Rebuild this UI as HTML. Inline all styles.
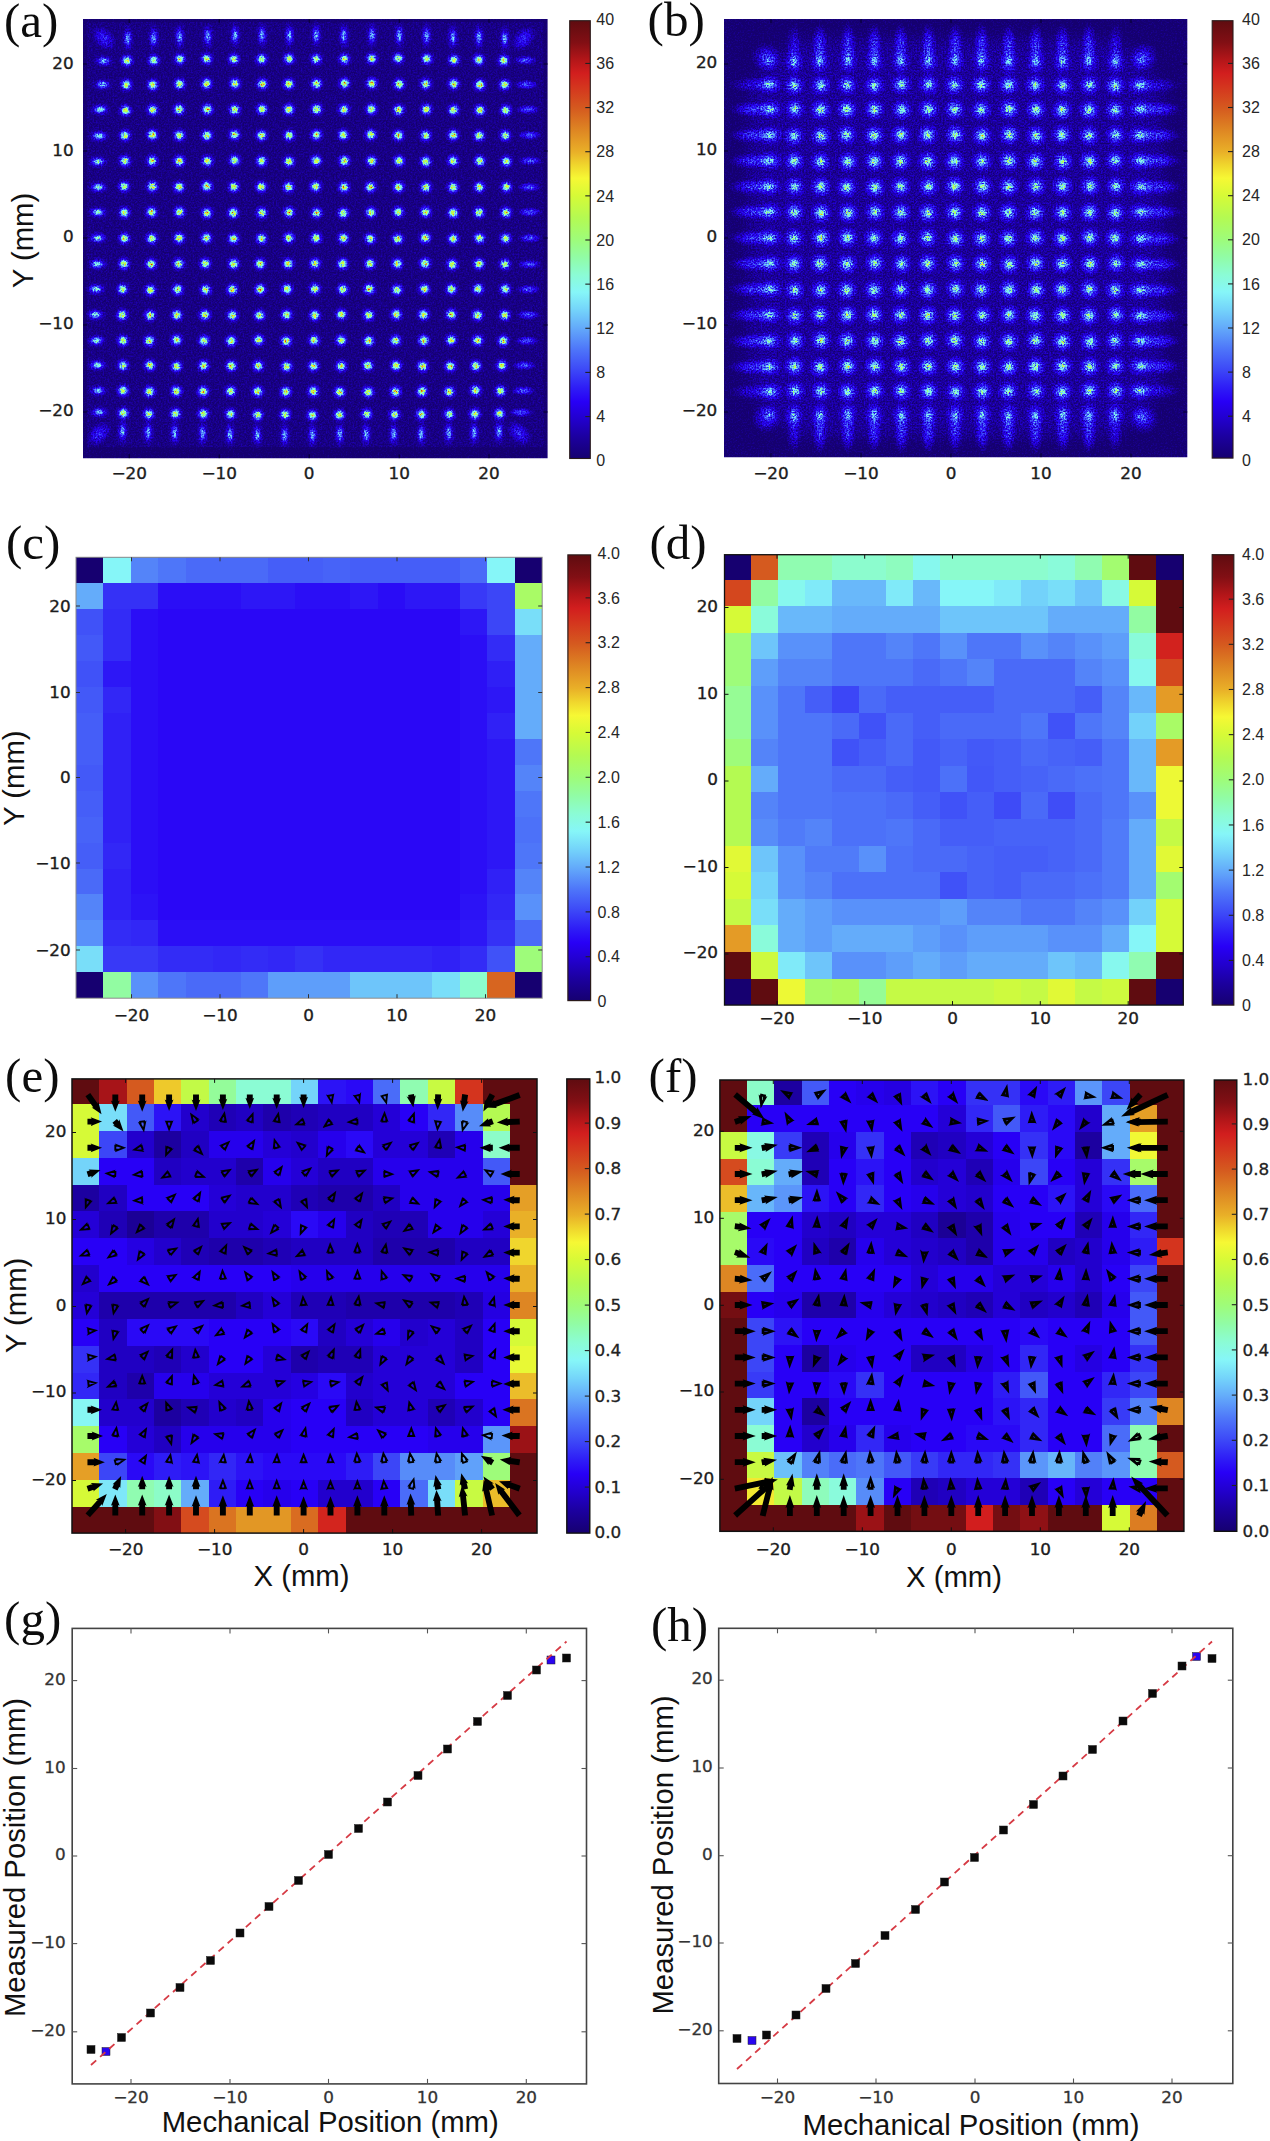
<!DOCTYPE html>
<html><head><meta charset="utf-8"><title>figure</title>
<style>html,body{margin:0;padding:0;background:#fff}svg{display:block}</style></head>
<body>
<svg width="1270" height="2141" viewBox="0 0 1270 2141">
<defs>
<linearGradient id="jet" x1="0" y1="0" x2="0" y2="1"><stop offset="0" stop-color="#5f0c10"/><stop offset="0.05" stop-color="#820f14"/><stop offset="0.09" stop-color="#b41619"/><stop offset="0.12" stop-color="#d21e1e"/><stop offset="0.15" stop-color="#d4341e"/><stop offset="0.2" stop-color="#d55a1f"/><stop offset="0.25" stop-color="#de8623"/><stop offset="0.3" stop-color="#e9b028"/><stop offset="0.33" stop-color="#f0d62d"/><stop offset="0.36" stop-color="#f6f834"/><stop offset="0.4" stop-color="#d6fa37"/><stop offset="0.45" stop-color="#b4fa52"/><stop offset="0.5" stop-color="#9efc7a"/><stop offset="0.54" stop-color="#91fca5"/><stop offset="0.58" stop-color="#8bfcd4"/><stop offset="0.62" stop-color="#86f6f8"/><stop offset="0.66" stop-color="#74d4fa"/><stop offset="0.7" stop-color="#64acfa"/><stop offset="0.75" stop-color="#4e76f9"/><stop offset="0.8" stop-color="#3c46f7"/><stop offset="0.84" stop-color="#2e1cf6"/><stop offset="0.87" stop-color="#2800f6"/><stop offset="0.91" stop-color="#2200cd"/><stop offset="0.95" stop-color="#1c00a0"/><stop offset="1" stop-color="#160070"/></linearGradient>
<filter id="fa" x="0" y="0" width="100%" height="100%" color-interpolation-filters="sRGB">
<feTurbulence type="fractalNoise" baseFrequency="0.6" numOctaves="2" seed="4" result="n"/>
<feColorMatrix in="n" type="matrix" values="1.7 0 0 0 -0.35  1.7 0 0 0 -0.35  1.7 0 0 0 -0.35  0 0 0 0 1" result="ng"/>
<feComposite in="SourceGraphic" in2="ng" operator="arithmetic" k1="0.9" k2="0.55" k3="0.065" k4="-0.034" result="m"/>
<feColorMatrix in="m" type="matrix" values="1 0 0 0 0  1 0 0 0 0  1 0 0 0 0  0 0 0 0 1" result="mg"/>
<feComponentTransfer in="mg" result="cm"><feFuncR type="table" tableValues="0.086 0.094 0.106 0.118 0.125 0.141 0.149 0.165 0.180 0.208 0.235 0.263 0.290 0.322 0.357 0.392 0.424 0.455 0.494 0.529 0.537 0.545 0.557 0.569 0.596 0.620 0.655 0.690 0.733 0.784 0.839 0.910 0.961 0.949 0.933 0.914 0.898 0.878 0.863 0.851 0.835 0.835 0.831 0.827 0.824 0.745 0.655 0.561 0.482 0.427 0.373"/><feFuncG type="table" tableValues="0.000 0.000 0.000 0.000 0.000 0.000 0.000 0.035 0.110 0.192 0.275 0.349 0.424 0.506 0.588 0.675 0.753 0.831 0.906 0.969 0.976 0.988 0.988 0.988 0.988 0.988 0.984 0.980 0.980 0.980 0.980 0.976 0.953 0.878 0.788 0.690 0.624 0.557 0.490 0.424 0.353 0.294 0.235 0.176 0.118 0.098 0.078 0.067 0.055 0.051 0.047"/><feFuncB type="table" tableValues="0.439 0.514 0.588 0.671 0.761 0.843 0.925 0.965 0.965 0.965 0.969 0.973 0.976 0.976 0.980 0.980 0.980 0.980 0.976 0.957 0.894 0.831 0.737 0.647 0.565 0.478 0.416 0.353 0.302 0.259 0.216 0.208 0.200 0.184 0.169 0.157 0.149 0.141 0.133 0.129 0.122 0.122 0.118 0.118 0.118 0.106 0.094 0.082 0.075 0.071 0.063"/></feComponentTransfer>
<feGaussianBlur in="cm" stdDeviation="0.55" result="bl"/>
<feColorMatrix in="bl" type="matrix" values="1 0 0 0 0  0 1 0 0 0  0 0 1 0 0  0 0 0 0 1"/>
</filter>
<filter id="fb" x="0" y="0" width="100%" height="100%" color-interpolation-filters="sRGB">
<feTurbulence type="fractalNoise" baseFrequency="0.62" numOctaves="2" seed="11" result="n"/>
<feColorMatrix in="n" type="matrix" values="1.7 0 0 0 -0.35  1.7 0 0 0 -0.35  1.7 0 0 0 -0.35  0 0 0 0 1" result="ng"/>
<feComposite in="SourceGraphic" in2="ng" operator="arithmetic" k1="1.1" k2="0.45" k3="0.08" k4="-0.04" result="m"/>
<feColorMatrix in="m" type="matrix" values="1 0 0 0 0  1 0 0 0 0  1 0 0 0 0  0 0 0 0 1" result="mg"/>
<feComponentTransfer in="mg" result="cm"><feFuncR type="table" tableValues="0.086 0.094 0.106 0.118 0.125 0.141 0.149 0.165 0.180 0.208 0.235 0.263 0.290 0.322 0.357 0.392 0.424 0.455 0.494 0.529 0.537 0.545 0.557 0.569 0.596 0.620 0.655 0.690 0.733 0.784 0.839 0.910 0.961 0.949 0.933 0.914 0.898 0.878 0.863 0.851 0.835 0.835 0.831 0.827 0.824 0.745 0.655 0.561 0.482 0.427 0.373"/><feFuncG type="table" tableValues="0.000 0.000 0.000 0.000 0.000 0.000 0.000 0.035 0.110 0.192 0.275 0.349 0.424 0.506 0.588 0.675 0.753 0.831 0.906 0.969 0.976 0.988 0.988 0.988 0.988 0.988 0.984 0.980 0.980 0.980 0.980 0.976 0.953 0.878 0.788 0.690 0.624 0.557 0.490 0.424 0.353 0.294 0.235 0.176 0.118 0.098 0.078 0.067 0.055 0.051 0.047"/><feFuncB type="table" tableValues="0.439 0.514 0.588 0.671 0.761 0.843 0.925 0.965 0.965 0.965 0.969 0.973 0.976 0.976 0.980 0.980 0.980 0.980 0.976 0.957 0.894 0.831 0.737 0.647 0.565 0.478 0.416 0.353 0.302 0.259 0.216 0.208 0.200 0.184 0.169 0.157 0.149 0.141 0.133 0.129 0.122 0.122 0.118 0.118 0.118 0.106 0.094 0.082 0.075 0.071 0.063"/></feComponentTransfer>
<feGaussianBlur in="cm" stdDeviation="0.55" result="bl"/>
<feColorMatrix in="bl" type="matrix" values="1 0 0 0 0  0 1 0 0 0  0 0 1 0 0  0 0 0 0 1"/>
</filter>
<radialGradient id="ga"><stop offset="0" stop-color="#fff" stop-opacity=".63"/><stop offset=".14" stop-color="#fff" stop-opacity=".58"/><stop offset=".27" stop-color="#fff" stop-opacity=".44"/><stop offset=".42" stop-color="#fff" stop-opacity=".22"/><stop offset=".60" stop-color="#fff" stop-opacity=".10"/><stop offset=".80" stop-color="#fff" stop-opacity=".035"/><stop offset="1" stop-color="#fff" stop-opacity="0"/></radialGradient>
<radialGradient id="gb"><stop offset="0" stop-color="#fff" stop-opacity=".48"/><stop offset=".13" stop-color="#fff" stop-opacity=".42"/><stop offset=".27" stop-color="#fff" stop-opacity=".29"/><stop offset=".42" stop-color="#fff" stop-opacity=".17"/><stop offset=".60" stop-color="#fff" stop-opacity=".10"/><stop offset=".80" stop-color="#fff" stop-opacity=".045"/><stop offset="1" stop-color="#fff" stop-opacity="0"/></radialGradient>
<radialGradient id="gs"><stop offset="0" stop-color="#fff" stop-opacity=".20"/><stop offset=".4" stop-color="#fff" stop-opacity=".13"/><stop offset=".75" stop-color="#fff" stop-opacity=".05"/><stop offset="1" stop-color="#fff" stop-opacity="0"/></radialGradient>
<circle id="sa" r="8.8" fill="url(#ga)"/><circle id="sb" r="11.6" fill="url(#gb)"/><circle id="ss" r="10" fill="url(#gs)"/>
<filter id="blur6" x="-10%" y="-10%" width="120%" height="120%" color-interpolation-filters="sRGB"><feGaussianBlur stdDeviation="7"/></filter>
</defs>
<rect width="1270" height="2141" fill="#fff"/>
<text x="4" y="37" font-family="Liberation Serif, Times New Roman, serif" font-size="49" text-anchor="start" fill="#0c0c0c" >(a)</text>
<text x="647.6" y="36" font-family="Liberation Serif, Times New Roman, serif" font-size="49" text-anchor="start" fill="#0c0c0c" >(b)</text>
<text x="5.9" y="559.4" font-family="Liberation Serif, Times New Roman, serif" font-size="49" text-anchor="start" fill="#0c0c0c" >(c)</text>
<text x="649.5" y="559.4" font-family="Liberation Serif, Times New Roman, serif" font-size="49" text-anchor="start" fill="#0c0c0c" >(d)</text>
<text x="5.1" y="1091.7" font-family="Liberation Serif, Times New Roman, serif" font-size="49" text-anchor="start" fill="#0c0c0c" >(e)</text>
<text x="648.6" y="1091.9" font-family="Liberation Serif, Times New Roman, serif" font-size="49" text-anchor="start" fill="#0c0c0c" >(f)</text>
<text x="4.1" y="1635" font-family="Liberation Serif, Times New Roman, serif" font-size="49" text-anchor="start" fill="#0c0c0c" >(g)</text>
<text x="651" y="1641.2" font-family="Liberation Serif, Times New Roman, serif" font-size="49" text-anchor="start" fill="#0c0c0c" >(h)</text>
<svg x="83" y="19" width="464.6" height="439.2" viewBox="0 0 464.6 439.2"><g filter="url(#fa)">
<rect width="464.6" height="439.2" fill="#000"/>
<rect x="4" y="3" width="456.6" height="425.2" fill="#060606"/>
<use href="#ss" transform="translate(20.9,19.3) rotate(45) scale(1.5,1.0)" opacity=".75"/>
<use href="#sa" transform="translate(44.8,19.7) scale(.82,1.85)" opacity=".44"/>
<use href="#sa" transform="translate(70.7,19) scale(.82,1.85)" opacity=".44"/>
<use href="#sa" transform="translate(96.6,17.8) scale(.82,1.85)" opacity=".44"/>
<use href="#sa" transform="translate(124.8,17.6) scale(.82,1.85)" opacity=".44"/>
<use href="#sa" transform="translate(152.1,16.5) scale(.82,1.85)" opacity=".44"/>
<use href="#sa" transform="translate(179,16.4) scale(.82,1.85)" opacity=".44"/>
<use href="#sa" transform="translate(206.5,16.6) scale(.82,1.85)" opacity=".44"/>
<use href="#sa" transform="translate(233.2,16.2) scale(.82,1.85)" opacity=".44"/>
<use href="#sa" transform="translate(260.9,17.1) scale(.82,1.85)" opacity=".44"/>
<use href="#sa" transform="translate(288.9,16.3) scale(.82,1.85)" opacity=".44"/>
<use href="#sa" transform="translate(316.3,16.6) scale(.82,1.85)" opacity=".44"/>
<use href="#sa" transform="translate(343.5,16.9) scale(.82,1.85)" opacity=".44"/>
<use href="#sa" transform="translate(369.9,18.3) scale(.82,1.85)" opacity=".44"/>
<use href="#sa" transform="translate(395.9,18.1) scale(.82,1.85)" opacity=".44"/>
<use href="#sa" transform="translate(421.7,19.6) scale(.82,1.85)" opacity=".44"/>
<use href="#ss" transform="translate(440.7,19.6) rotate(-45) scale(1.5,1.0)" opacity=".75"/>
<use href="#sa" transform="translate(20.7,41.9) scale(1.35,.85)" opacity="0.5"/>
<use href="#sa" x="44" y="41.8" opacity="0.89"/>
<use href="#sa" x="70.8" y="41.3" opacity="0.86"/>
<use href="#sa" x="96.9" y="40.1" opacity="0.84"/>
<use href="#sa" x="123.7" y="39.9" opacity="0.88"/>
<use href="#sa" x="150.9" y="40.2" opacity="0.86"/>
<use href="#sa" x="178.7" y="40.2" opacity="0.87"/>
<use href="#sa" x="206.1" y="39.7" opacity="0.89"/>
<use href="#sa" x="233.2" y="40.2" opacity="0.83"/>
<use href="#sa" x="261.4" y="40.1" opacity="0.83"/>
<use href="#sa" x="288.8" y="39.6" opacity="0.88"/>
<use href="#sa" x="315.3" y="39.4" opacity="0.84"/>
<use href="#sa" x="343.8" y="39.8" opacity="0.90"/>
<use href="#sa" x="370.9" y="41" opacity="0.86"/>
<use href="#sa" x="395.9" y="40.8" opacity="0.90"/>
<use href="#sa" x="420.6" y="41.5" opacity="0.90"/>
<use href="#ss" transform="translate(442.3,41.2) scale(1.25,.5)" opacity="1"/>
<use href="#sa" transform="translate(19.6,65.5) scale(1.35,.85)" opacity="0.5"/>
<use href="#sa" x="43.4" y="65.8" opacity="0.91"/>
<use href="#sa" x="69.7" y="66" opacity="0.95"/>
<use href="#sa" x="96.6" y="65.1" opacity="0.92"/>
<use href="#sa" x="123.6" y="64.7" opacity="0.97"/>
<use href="#sa" x="152" y="64.6" opacity="0.90"/>
<use href="#sa" x="179.4" y="65" opacity="0.94"/>
<use href="#sa" x="205.9" y="65" opacity="0.98"/>
<use href="#sa" x="233.5" y="64.8" opacity="0.91"/>
<use href="#sa" x="261.5" y="64.3" opacity="0.95"/>
<use href="#sa" x="288.8" y="64.5" opacity="0.97"/>
<use href="#sa" x="316.3" y="65.2" opacity="0.98"/>
<use href="#sa" x="342.7" y="65" opacity="0.91"/>
<use href="#sa" x="370.8" y="65" opacity="0.95"/>
<use href="#sa" x="396.9" y="65.9" opacity="1.00"/>
<use href="#sa" x="421.6" y="65.7" opacity="0.90"/>
<use href="#ss" transform="translate(443.3,65.7) scale(1.25,.5)" opacity="1"/>
<use href="#sa" transform="translate(17.2,90.6) scale(1.35,.85)" opacity="0.62"/>
<use href="#sa" x="42.6" y="91.5" opacity="0.92"/>
<use href="#sa" x="69.7" y="90.8" opacity="0.93"/>
<use href="#sa" x="96.1" y="90.4" opacity="0.98"/>
<use href="#sa" x="124.4" y="90.4" opacity="0.98"/>
<use href="#sa" x="151.6" y="90.8" opacity="0.97"/>
<use href="#sa" x="179" y="90.3" opacity="0.97"/>
<use href="#sa" x="205.8" y="90.4" opacity="0.98"/>
<use href="#sa" x="233.7" y="90.2" opacity="0.99"/>
<use href="#sa" x="261.1" y="90.6" opacity="0.90"/>
<use href="#sa" x="288.4" y="90.2" opacity="0.97"/>
<use href="#sa" x="315.6" y="90.9" opacity="0.96"/>
<use href="#sa" x="343.4" y="90.4" opacity="0.96"/>
<use href="#sa" x="370.6" y="91.1" opacity="0.94"/>
<use href="#sa" x="396.9" y="91.2" opacity="0.97"/>
<use href="#sa" x="422.8" y="91.4" opacity="0.88"/>
<use href="#ss" transform="translate(444.9,90.6) scale(1.25,.5)" opacity="1"/>
<use href="#sa" transform="translate(16.1,117) scale(1.35,.85)" opacity="0.62"/>
<use href="#sa" x="41.9" y="116.6" opacity="0.89"/>
<use href="#sa" x="69.4" y="115.9" opacity="0.98"/>
<use href="#sa" x="96.5" y="116.5" opacity="0.94"/>
<use href="#sa" x="124" y="116.6" opacity="0.96"/>
<use href="#sa" x="151.5" y="115.7" opacity="0.92"/>
<use href="#sa" x="178.5" y="116.4" opacity="0.92"/>
<use href="#sa" x="206.2" y="116.4" opacity="0.90"/>
<use href="#sa" x="233.4" y="115.9" opacity="0.91"/>
<use href="#sa" x="260.4" y="116" opacity="0.92"/>
<use href="#sa" x="287.8" y="115.7" opacity="0.95"/>
<use href="#sa" x="315.5" y="116.4" opacity="0.96"/>
<use href="#sa" x="342.7" y="116.7" opacity="0.90"/>
<use href="#sa" x="370.2" y="116" opacity="0.94"/>
<use href="#sa" x="396.2" y="116.7" opacity="0.94"/>
<use href="#sa" x="422.3" y="116.5" opacity="0.84"/>
<use href="#ss" transform="translate(446.4,116.2) scale(1.25,.5)" opacity="1"/>
<use href="#sa" transform="translate(14.9,142.6) scale(1.35,.85)" opacity="0.62"/>
<use href="#sa" x="41.9" y="142" opacity="0.90"/>
<use href="#sa" x="69.1" y="141.9" opacity="0.91"/>
<use href="#sa" x="96.4" y="142.1" opacity="1.00"/>
<use href="#sa" x="124.3" y="142.1" opacity="0.94"/>
<use href="#sa" x="151.6" y="141.4" opacity="0.91"/>
<use href="#sa" x="178.6" y="142.1" opacity="0.91"/>
<use href="#sa" x="206.1" y="142.5" opacity="0.94"/>
<use href="#sa" x="233.2" y="141.7" opacity="0.93"/>
<use href="#sa" x="261.3" y="141.9" opacity="1.00"/>
<use href="#sa" x="288.6" y="142.1" opacity="0.93"/>
<use href="#sa" x="316.1" y="142" opacity="0.94"/>
<use href="#sa" x="342.7" y="142.6" opacity="0.95"/>
<use href="#sa" x="370" y="142" opacity="0.91"/>
<use href="#sa" x="396.8" y="142" opacity="0.93"/>
<use href="#sa" x="423.4" y="142.4" opacity="0.83"/>
<use href="#ss" transform="translate(447,141.8) scale(1.25,.5)" opacity="1"/>
<use href="#sa" transform="translate(15.2,168.2) scale(1.35,.85)" opacity="0.62"/>
<use href="#sa" x="41.1" y="167.5" opacity="0.84"/>
<use href="#sa" x="69.4" y="167.6" opacity="0.96"/>
<use href="#sa" x="96.2" y="168" opacity="0.96"/>
<use href="#sa" x="123.9" y="167.3" opacity="0.98"/>
<use href="#sa" x="150.8" y="167.8" opacity="0.93"/>
<use href="#sa" x="178.2" y="167.8" opacity="0.95"/>
<use href="#sa" x="205.6" y="168.1" opacity="0.96"/>
<use href="#sa" x="232.6" y="167.5" opacity="0.95"/>
<use href="#sa" x="261.1" y="168.3" opacity="0.95"/>
<use href="#sa" x="287.4" y="168.1" opacity="0.94"/>
<use href="#sa" x="315.5" y="168.1" opacity="0.96"/>
<use href="#sa" x="342.8" y="168.3" opacity="0.94"/>
<use href="#sa" x="370.1" y="168.2" opacity="0.92"/>
<use href="#sa" x="396.4" y="168.2" opacity="0.91"/>
<use href="#sa" x="423.4" y="168" opacity="0.87"/>
<use href="#ss" transform="translate(446.6,168.2) scale(1.25,.5)" opacity="1"/>
<use href="#sa" transform="translate(15.1,193.2) scale(1.35,.85)" opacity="0.62"/>
<use href="#sa" x="41.3" y="193.7" opacity="0.87"/>
<use href="#sa" x="68.5" y="193.2" opacity="0.96"/>
<use href="#sa" x="96.5" y="193.1" opacity="0.92"/>
<use href="#sa" x="123.9" y="194" opacity="0.97"/>
<use href="#sa" x="150.3" y="193.9" opacity="1.00"/>
<use href="#sa" x="178.9" y="193.8" opacity="0.90"/>
<use href="#sa" x="206.1" y="193.3" opacity="0.96"/>
<use href="#sa" x="233.6" y="193.9" opacity="0.91"/>
<use href="#sa" x="260.3" y="194.1" opacity="0.91"/>
<use href="#sa" x="288" y="193.5" opacity="0.92"/>
<use href="#sa" x="315.4" y="193.1" opacity="0.91"/>
<use href="#sa" x="342.6" y="193.1" opacity="0.91"/>
<use href="#sa" x="370.2" y="193.9" opacity="0.99"/>
<use href="#sa" x="396.1" y="193.5" opacity="0.93"/>
<use href="#sa" x="423" y="193.6" opacity="0.91"/>
<use href="#ss" transform="translate(446.6,193.1) scale(1.25,.5)" opacity="1"/>
<use href="#sa" transform="translate(14.7,219) scale(1.35,.85)" opacity="0.62"/>
<use href="#sa" x="41.4" y="219.4" opacity="0.91"/>
<use href="#sa" x="68.7" y="219.5" opacity="0.93"/>
<use href="#sa" x="96.1" y="219.1" opacity="0.98"/>
<use href="#sa" x="123.4" y="219" opacity="0.92"/>
<use href="#sa" x="150.6" y="219.7" opacity="0.92"/>
<use href="#sa" x="178.5" y="219.6" opacity="0.91"/>
<use href="#sa" x="205.8" y="218.9" opacity="0.91"/>
<use href="#sa" x="233.1" y="219.1" opacity="0.99"/>
<use href="#sa" x="260.4" y="219.2" opacity="0.98"/>
<use href="#sa" x="287.2" y="219.7" opacity="0.91"/>
<use href="#sa" x="314.8" y="219.9" opacity="0.97"/>
<use href="#sa" x="342.3" y="218.9" opacity="1.00"/>
<use href="#sa" x="370.2" y="219.8" opacity="0.91"/>
<use href="#sa" x="396.5" y="219.2" opacity="0.92"/>
<use href="#sa" x="422.6" y="219.5" opacity="0.86"/>
<use href="#ss" transform="translate(446.6,219) scale(1.25,.5)" opacity="1"/>
<use href="#sa" transform="translate(14.4,245.1) scale(1.35,.85)" opacity="0.62"/>
<use href="#sa" x="41" y="244.9" opacity="0.91"/>
<use href="#sa" x="68.1" y="245.1" opacity="0.96"/>
<use href="#sa" x="95.8" y="244.8" opacity="0.91"/>
<use href="#sa" x="122.3" y="244.6" opacity="0.90"/>
<use href="#sa" x="150.7" y="244.9" opacity="0.98"/>
<use href="#sa" x="177.1" y="244.9" opacity="0.99"/>
<use href="#sa" x="205.2" y="244.9" opacity="0.95"/>
<use href="#sa" x="232" y="244.5" opacity="0.92"/>
<use href="#sa" x="259.7" y="244.8" opacity="0.99"/>
<use href="#sa" x="286.9" y="244.7" opacity="0.93"/>
<use href="#sa" x="314.3" y="244.7" opacity="0.92"/>
<use href="#sa" x="342.1" y="244.4" opacity="0.99"/>
<use href="#sa" x="369.3" y="245.5" opacity="0.97"/>
<use href="#sa" x="396.1" y="244.9" opacity="0.99"/>
<use href="#sa" x="421.8" y="245.2" opacity="0.85"/>
<use href="#ss" transform="translate(446.4,245.2) scale(1.25,.5)" opacity="1"/>
<use href="#sa" transform="translate(13.1,270.1) scale(1.35,.85)" opacity="0.62"/>
<use href="#sa" x="39.6" y="270.2" opacity="0.84"/>
<use href="#sa" x="67.4" y="271.1" opacity="0.94"/>
<use href="#sa" x="94.7" y="270.5" opacity="0.93"/>
<use href="#sa" x="122.6" y="270.8" opacity="0.92"/>
<use href="#sa" x="149.4" y="270.7" opacity="0.99"/>
<use href="#sa" x="177.3" y="270.4" opacity="1.00"/>
<use href="#sa" x="204" y="270" opacity="0.98"/>
<use href="#sa" x="231.9" y="270" opacity="0.95"/>
<use href="#sa" x="259.9" y="270.5" opacity="0.94"/>
<use href="#sa" x="286.3" y="270" opacity="0.99"/>
<use href="#sa" x="314.1" y="271" opacity="0.91"/>
<use href="#sa" x="341.3" y="270" opacity="0.94"/>
<use href="#sa" x="368.4" y="270.2" opacity="0.94"/>
<use href="#sa" x="395.1" y="270" opacity="0.90"/>
<use href="#sa" x="422.3" y="270.1" opacity="0.87"/>
<use href="#ss" transform="translate(445.5,270.5) scale(1.25,.5)" opacity="1"/>
<use href="#sa" transform="translate(12.4,295.8) scale(1.35,.85)" opacity="0.62"/>
<use href="#sa" x="39.2" y="296" opacity="0.91"/>
<use href="#sa" x="67.2" y="296.4" opacity="0.92"/>
<use href="#sa" x="93.9" y="296.1" opacity="0.95"/>
<use href="#sa" x="121.9" y="295.9" opacity="0.96"/>
<use href="#sa" x="149.5" y="296.5" opacity="0.93"/>
<use href="#sa" x="176.6" y="296.4" opacity="0.92"/>
<use href="#sa" x="203.6" y="295.8" opacity="0.91"/>
<use href="#sa" x="231.8" y="296.4" opacity="0.93"/>
<use href="#sa" x="258.4" y="295.5" opacity="0.92"/>
<use href="#sa" x="285.7" y="296" opacity="0.96"/>
<use href="#sa" x="313.3" y="295.5" opacity="0.97"/>
<use href="#sa" x="340.5" y="295.7" opacity="0.93"/>
<use href="#sa" x="368.3" y="295.5" opacity="0.94"/>
<use href="#sa" x="394.6" y="296.3" opacity="0.96"/>
<use href="#sa" x="421.7" y="296.2" opacity="0.90"/>
<use href="#ss" transform="translate(445.2,295.9) scale(1.25,.5)" opacity="1"/>
<use href="#sa" transform="translate(13.6,321.6) scale(1.35,.85)" opacity="0.62"/>
<use href="#sa" x="40" y="321.7" opacity="0.89"/>
<use href="#sa" x="66.4" y="321.9" opacity="0.94"/>
<use href="#sa" x="93.5" y="321" opacity="0.92"/>
<use href="#sa" x="121" y="321.8" opacity="0.93"/>
<use href="#sa" x="148.2" y="321.9" opacity="0.96"/>
<use href="#sa" x="175.6" y="321" opacity="0.91"/>
<use href="#sa" x="203.3" y="322" opacity="0.99"/>
<use href="#sa" x="231.1" y="321.3" opacity="0.94"/>
<use href="#sa" x="258.2" y="321.4" opacity="0.90"/>
<use href="#sa" x="285.8" y="322" opacity="0.97"/>
<use href="#sa" x="312.6" y="321.6" opacity="0.92"/>
<use href="#sa" x="340.8" y="321.5" opacity="0.99"/>
<use href="#sa" x="368.2" y="321.1" opacity="0.93"/>
<use href="#sa" x="394.7" y="321.4" opacity="0.94"/>
<use href="#sa" x="420.3" y="321.8" opacity="0.91"/>
<use href="#ss" transform="translate(443.9,321.9) scale(1.25,.5)" opacity="1"/>
<use href="#sa" transform="translate(14.4,346.1) scale(1.35,.85)" opacity="0.62"/>
<use href="#sa" x="40" y="346.6" opacity="0.83"/>
<use href="#sa" x="67" y="346.3" opacity="0.96"/>
<use href="#sa" x="93.5" y="347.4" opacity="0.94"/>
<use href="#sa" x="120.5" y="346.7" opacity="0.92"/>
<use href="#sa" x="148.3" y="346.9" opacity="0.98"/>
<use href="#sa" x="175.3" y="346.9" opacity="0.92"/>
<use href="#sa" x="203.6" y="347.5" opacity="0.98"/>
<use href="#sa" x="230.5" y="347" opacity="0.91"/>
<use href="#sa" x="258.2" y="347.1" opacity="0.90"/>
<use href="#sa" x="284.8" y="346.6" opacity="0.97"/>
<use href="#sa" x="313.1" y="346.7" opacity="0.98"/>
<use href="#sa" x="339.8" y="347.2" opacity="0.99"/>
<use href="#sa" x="367.4" y="347.3" opacity="0.94"/>
<use href="#sa" x="392.8" y="346.9" opacity="0.96"/>
<use href="#sa" x="418.8" y="346.6" opacity="0.86"/>
<use href="#ss" transform="translate(441.2,346.4) scale(1.25,.5)" opacity="1"/>
<use href="#sa" transform="translate(15.2,371.6) scale(1.35,.85)" opacity="0.5"/>
<use href="#sa" x="40.1" y="371.7" opacity="0.92"/>
<use href="#sa" x="66.6" y="372.6" opacity="0.97"/>
<use href="#sa" x="93.3" y="372.3" opacity="0.98"/>
<use href="#sa" x="120.2" y="372.5" opacity="0.97"/>
<use href="#sa" x="147.7" y="372.3" opacity="0.91"/>
<use href="#sa" x="174.6" y="372.5" opacity="0.96"/>
<use href="#sa" x="202.8" y="372.9" opacity="0.93"/>
<use href="#sa" x="230.4" y="372.4" opacity="0.97"/>
<use href="#sa" x="256.8" y="373" opacity="0.97"/>
<use href="#sa" x="285.2" y="373.1" opacity="0.97"/>
<use href="#sa" x="312.5" y="372.8" opacity="0.96"/>
<use href="#sa" x="339.1" y="372.4" opacity="0.99"/>
<use href="#sa" x="366.3" y="372.8" opacity="0.95"/>
<use href="#sa" x="392.5" y="371.5" opacity="0.94"/>
<use href="#sa" x="417.5" y="372" opacity="0.91"/>
<use href="#ss" transform="translate(440.1,371.7) scale(1.25,.5)" opacity="1"/>
<use href="#sa" transform="translate(16.2,393.2) scale(1.35,.85)" opacity="0.5"/>
<use href="#sa" x="40.3" y="394.2" opacity="0.89"/>
<use href="#sa" x="65.8" y="395.1" opacity="0.85"/>
<use href="#sa" x="92.5" y="394.7" opacity="0.89"/>
<use href="#sa" x="120.3" y="394.8" opacity="0.89"/>
<use href="#sa" x="147.5" y="395.1" opacity="0.83"/>
<use href="#sa" x="174.6" y="396" opacity="0.91"/>
<use href="#sa" x="202.2" y="395.6" opacity="0.87"/>
<use href="#sa" x="229.4" y="396.2" opacity="0.86"/>
<use href="#sa" x="256.5" y="395.8" opacity="0.92"/>
<use href="#sa" x="283.8" y="395.1" opacity="0.84"/>
<use href="#sa" x="311.6" y="395.6" opacity="0.84"/>
<use href="#sa" x="338.5" y="395.4" opacity="0.89"/>
<use href="#sa" x="366.3" y="395.2" opacity="0.83"/>
<use href="#sa" x="391.8" y="395" opacity="0.92"/>
<use href="#sa" x="416.5" y="394.6" opacity="0.89"/>
<use href="#ss" transform="translate(438.1,393.4) scale(1.25,.5)" opacity="1"/>
<use href="#ss" transform="translate(16.1,414.7) rotate(-45) scale(1.5,1.0)" opacity=".75"/>
<use href="#sa" transform="translate(39.5,412.6) scale(.82,1.85)" opacity=".44"/>
<use href="#sa" transform="translate(65.1,413.4) scale(.82,1.85)" opacity=".44"/>
<use href="#sa" transform="translate(91.7,414) scale(.82,1.85)" opacity=".44"/>
<use href="#sa" transform="translate(119.5,414.5) scale(.82,1.85)" opacity=".44"/>
<use href="#sa" transform="translate(147,415.6) scale(.82,1.85)" opacity=".44"/>
<use href="#sa" transform="translate(174.4,415.9) scale(.82,1.85)" opacity=".44"/>
<use href="#sa" transform="translate(201.7,416.3) scale(.82,1.85)" opacity=".44"/>
<use href="#sa" transform="translate(229.4,416) scale(.82,1.85)" opacity=".44"/>
<use href="#sa" transform="translate(256.8,415.3) scale(.82,1.85)" opacity=".44"/>
<use href="#sa" transform="translate(283.2,415.1) scale(.82,1.85)" opacity=".44"/>
<use href="#sa" transform="translate(310.7,415.2) scale(.82,1.85)" opacity=".44"/>
<use href="#sa" transform="translate(338.3,415.1) scale(.82,1.85)" opacity=".44"/>
<use href="#sa" transform="translate(365.8,413.9) scale(.82,1.85)" opacity=".44"/>
<use href="#sa" transform="translate(391.1,413.9) scale(.82,1.85)" opacity=".44"/>
<use href="#sa" transform="translate(416,412.7) scale(.82,1.85)" opacity=".44"/>
<use href="#ss" transform="translate(436.2,414.1) rotate(45) scale(1.5,1.0)" opacity=".75"/>
</g></svg>
<line x1="129.2" x2="129.2" y1="458.2" y2="454.2" stroke="#05002a" stroke-width="1"/>
<line x1="129.2" x2="129.2" y1="19" y2="23" stroke="#05002a" stroke-width="1"/>
<line x1="219.2" x2="219.2" y1="458.2" y2="454.2" stroke="#05002a" stroke-width="1"/>
<line x1="219.2" x2="219.2" y1="19" y2="23" stroke="#05002a" stroke-width="1"/>
<line x1="309.2" x2="309.2" y1="458.2" y2="454.2" stroke="#05002a" stroke-width="1"/>
<line x1="309.2" x2="309.2" y1="19" y2="23" stroke="#05002a" stroke-width="1"/>
<line x1="399.2" x2="399.2" y1="458.2" y2="454.2" stroke="#05002a" stroke-width="1"/>
<line x1="399.2" x2="399.2" y1="19" y2="23" stroke="#05002a" stroke-width="1"/>
<line x1="489" x2="489" y1="458.2" y2="454.2" stroke="#05002a" stroke-width="1"/>
<line x1="489" x2="489" y1="19" y2="23" stroke="#05002a" stroke-width="1"/>
<line x1="83" x2="87" y1="64" y2="64" stroke="#05002a" stroke-width="1"/>
<line x1="547.6" x2="543.6" y1="64" y2="64" stroke="#05002a" stroke-width="1"/>
<line x1="83" x2="87" y1="151" y2="151" stroke="#05002a" stroke-width="1"/>
<line x1="547.6" x2="543.6" y1="151" y2="151" stroke="#05002a" stroke-width="1"/>
<line x1="83" x2="87" y1="238" y2="238" stroke="#05002a" stroke-width="1"/>
<line x1="547.6" x2="543.6" y1="238" y2="238" stroke="#05002a" stroke-width="1"/>
<line x1="83" x2="87" y1="325" y2="325" stroke="#05002a" stroke-width="1"/>
<line x1="547.6" x2="543.6" y1="325" y2="325" stroke="#05002a" stroke-width="1"/>
<line x1="83" x2="87" y1="412" y2="412" stroke="#05002a" stroke-width="1"/>
<line x1="547.6" x2="543.6" y1="412" y2="412" stroke="#05002a" stroke-width="1"/>
<text transform="translate(129.2,479.3) scale(1.05,1)" font-family="DejaVu Sans, Liberation Sans, sans-serif" font-size="16" text-anchor="middle" fill="#1c1c1c" stroke="#1c1c1c" stroke-width="0.35">−20</text>
<text transform="translate(219.2,479.3) scale(1.05,1)" font-family="DejaVu Sans, Liberation Sans, sans-serif" font-size="16" text-anchor="middle" fill="#1c1c1c" stroke="#1c1c1c" stroke-width="0.35">−10</text>
<text transform="translate(309.2,479.3) scale(1.05,1)" font-family="DejaVu Sans, Liberation Sans, sans-serif" font-size="16" text-anchor="middle" fill="#1c1c1c" stroke="#1c1c1c" stroke-width="0.35">0</text>
<text transform="translate(399.2,479.3) scale(1.05,1)" font-family="DejaVu Sans, Liberation Sans, sans-serif" font-size="16" text-anchor="middle" fill="#1c1c1c" stroke="#1c1c1c" stroke-width="0.35">10</text>
<text transform="translate(489,479.3) scale(1.05,1)" font-family="DejaVu Sans, Liberation Sans, sans-serif" font-size="16" text-anchor="middle" fill="#1c1c1c" stroke="#1c1c1c" stroke-width="0.35">20</text>
<text transform="translate(73.6,68.54) scale(1.05,1)" font-family="DejaVu Sans, Liberation Sans, sans-serif" font-size="16" text-anchor="end" fill="#1c1c1c" stroke="#1c1c1c" stroke-width="0.35">20</text>
<text transform="translate(73.6,155.54) scale(1.05,1)" font-family="DejaVu Sans, Liberation Sans, sans-serif" font-size="16" text-anchor="end" fill="#1c1c1c" stroke="#1c1c1c" stroke-width="0.35">10</text>
<text transform="translate(73.6,242.44) scale(1.05,1)" font-family="DejaVu Sans, Liberation Sans, sans-serif" font-size="16" text-anchor="end" fill="#1c1c1c" stroke="#1c1c1c" stroke-width="0.35">0</text>
<text transform="translate(73.6,329.44) scale(1.05,1)" font-family="DejaVu Sans, Liberation Sans, sans-serif" font-size="16" text-anchor="end" fill="#1c1c1c" stroke="#1c1c1c" stroke-width="0.35">−10</text>
<text transform="translate(73.6,416.44) scale(1.05,1)" font-family="DejaVu Sans, Liberation Sans, sans-serif" font-size="16" text-anchor="end" fill="#1c1c1c" stroke="#1c1c1c" stroke-width="0.35">−20</text>
<rect x="569.7" y="20.7" width="20.6" height="437.8" fill="url(#jet)" stroke="#2a1a1a" stroke-width="1.1"/>
<text x="596.3" y="466.38" font-family="Liberation Sans, Arial, sans-serif" font-size="16" text-anchor="start" fill="#262626" >0</text>
<line x1="585.3" x2="590.3" y1="416.56" y2="416.56" stroke="#222" stroke-width="1.1"/>
<text x="596.3" y="422.24" font-family="Liberation Sans, Arial, sans-serif" font-size="16" text-anchor="start" fill="#262626" >4</text>
<line x1="585.3" x2="590.3" y1="372.42" y2="372.42" stroke="#222" stroke-width="1.1"/>
<text x="596.3" y="378.1" font-family="Liberation Sans, Arial, sans-serif" font-size="16" text-anchor="start" fill="#262626" >8</text>
<line x1="585.3" x2="590.3" y1="328.28" y2="328.28" stroke="#222" stroke-width="1.1"/>
<text x="596.3" y="333.96" font-family="Liberation Sans, Arial, sans-serif" font-size="16" text-anchor="start" fill="#262626" >12</text>
<line x1="585.3" x2="590.3" y1="284.14" y2="284.14" stroke="#222" stroke-width="1.1"/>
<text x="596.3" y="289.82" font-family="Liberation Sans, Arial, sans-serif" font-size="16" text-anchor="start" fill="#262626" >16</text>
<line x1="585.3" x2="590.3" y1="240" y2="240" stroke="#222" stroke-width="1.1"/>
<text x="596.3" y="245.68" font-family="Liberation Sans, Arial, sans-serif" font-size="16" text-anchor="start" fill="#262626" >20</text>
<line x1="585.3" x2="590.3" y1="195.86" y2="195.86" stroke="#222" stroke-width="1.1"/>
<text x="596.3" y="201.54" font-family="Liberation Sans, Arial, sans-serif" font-size="16" text-anchor="start" fill="#262626" >24</text>
<line x1="585.3" x2="590.3" y1="151.72" y2="151.72" stroke="#222" stroke-width="1.1"/>
<text x="596.3" y="157.4" font-family="Liberation Sans, Arial, sans-serif" font-size="16" text-anchor="start" fill="#262626" >28</text>
<line x1="585.3" x2="590.3" y1="107.58" y2="107.58" stroke="#222" stroke-width="1.1"/>
<text x="596.3" y="113.26" font-family="Liberation Sans, Arial, sans-serif" font-size="16" text-anchor="start" fill="#262626" >32</text>
<line x1="585.3" x2="590.3" y1="63.44" y2="63.44" stroke="#222" stroke-width="1.1"/>
<text x="596.3" y="69.12" font-family="Liberation Sans, Arial, sans-serif" font-size="16" text-anchor="start" fill="#262626" >36</text>
<text x="596.3" y="24.98" font-family="Liberation Sans, Arial, sans-serif" font-size="16" text-anchor="start" fill="#262626" >40</text>
<text transform="translate(33,240.5) rotate(-90)" font-family="Liberation Sans, Arial, sans-serif" font-size="29.3" text-anchor="middle" fill="#111">Y (mm)</text>
<svg x="724" y="19" width="463.3" height="438.2" viewBox="0 0 463.3 438.2"><g filter="url(#fb)">
<rect width="463.3" height="438.2" fill="#000"/>
<rect x="24" y="20" width="415.3" height="398.2" rx="70" fill="#0b0b0b" filter="url(#blur6)"/>
<use href="#ss" transform="translate(41.6,38.1) scale(1.5,1.5)" opacity=".7"/>
<use href="#sb" x="45.6" y="42.1" opacity=".3"/>
<use href="#ss" transform="translate(70.1,24.8) scale(.8,2.1)" opacity="0.5"/>
<use href="#sb" transform="translate(70.1,42.8) scale(.9,1.25)" opacity=".62"/>
<use href="#ss" transform="translate(95.8,24.3) scale(.8,2.1)" opacity="0.75"/>
<use href="#sb" transform="translate(95.8,42.3) scale(.9,1.25)" opacity=".62"/>
<use href="#ss" transform="translate(124,23.7) scale(.8,2.1)" opacity="0.75"/>
<use href="#sb" transform="translate(124,41.7) scale(.9,1.25)" opacity=".62"/>
<use href="#ss" transform="translate(150.4,24.5) scale(.8,2.1)" opacity="0.75"/>
<use href="#sb" transform="translate(150.4,42.5) scale(.9,1.25)" opacity=".62"/>
<use href="#ss" transform="translate(176.6,24.1) scale(.8,2.1)" opacity="0.75"/>
<use href="#sb" transform="translate(176.6,42.1) scale(.9,1.25)" opacity=".62"/>
<use href="#ss" transform="translate(204.4,24.2) scale(.8,2.1)" opacity="0.75"/>
<use href="#sb" transform="translate(204.4,42.2) scale(.9,1.25)" opacity=".62"/>
<use href="#ss" transform="translate(231.3,23.8) scale(.8,2.1)" opacity="0.75"/>
<use href="#sb" transform="translate(231.3,41.8) scale(.9,1.25)" opacity=".62"/>
<use href="#ss" transform="translate(257.5,23.8) scale(.8,2.1)" opacity="0.75"/>
<use href="#sb" transform="translate(257.5,41.8) scale(.9,1.25)" opacity=".62"/>
<use href="#ss" transform="translate(284.8,24.9) scale(.8,2.1)" opacity="0.75"/>
<use href="#sb" transform="translate(284.8,42.9) scale(.9,1.25)" opacity=".62"/>
<use href="#ss" transform="translate(311.8,24.7) scale(.8,2.1)" opacity="0.75"/>
<use href="#sb" transform="translate(311.8,42.7) scale(.9,1.25)" opacity=".62"/>
<use href="#ss" transform="translate(338.4,24.6) scale(.8,2.1)" opacity="0.75"/>
<use href="#sb" transform="translate(338.4,42.6) scale(.9,1.25)" opacity=".62"/>
<use href="#ss" transform="translate(364.9,24) scale(.8,2.1)" opacity="0.75"/>
<use href="#sb" transform="translate(364.9,42) scale(.9,1.25)" opacity=".62"/>
<use href="#ss" transform="translate(391.6,24.6) scale(.8,2.1)" opacity="0.5"/>
<use href="#sb" transform="translate(391.6,42.6) scale(.9,1.25)" opacity=".62"/>
<use href="#ss" transform="translate(420.2,37.7) scale(1.5,1.5)" opacity=".7"/>
<use href="#sb" x="416.2" y="41.7" opacity=".3"/>
<use href="#ss" transform="translate(26.4,65.6) scale(2.3,.8)" opacity="0.5"/>
<use href="#sb" transform="translate(45.4,65.6) scale(1.25,.9)" opacity=".72"/>
<use href="#sb" x="70.3" y="66.4" opacity="0.83"/>
<use href="#sb" x="97" y="66.5" opacity="0.82"/>
<use href="#sb" x="123.2" y="66" opacity="0.81"/>
<use href="#sb" x="150.2" y="66.6" opacity="0.82"/>
<use href="#sb" x="177.3" y="65.5" opacity="0.87"/>
<use href="#sb" x="204.7" y="65.6" opacity="0.81"/>
<use href="#sb" x="230.4" y="66.1" opacity="0.81"/>
<use href="#sb" x="257.3" y="66" opacity="0.91"/>
<use href="#sb" x="284.7" y="65.9" opacity="0.88"/>
<use href="#sb" x="311.1" y="66.1" opacity="0.83"/>
<use href="#sb" x="338.8" y="66.6" opacity="0.82"/>
<use href="#sb" x="365.6" y="66.1" opacity="0.83"/>
<use href="#sb" x="391.1" y="66.7" opacity="0.92"/>
<use href="#ss" transform="translate(434.8,66.3) scale(2.3,.8)" opacity="0.5"/>
<use href="#sb" transform="translate(415.8,66.3) scale(1.25,.9)" opacity=".72"/>
<use href="#ss" transform="translate(27.3,90.3) scale(2.3,.8)" opacity="0.75"/>
<use href="#sb" transform="translate(46.3,90.3) scale(1.25,.9)" opacity=".72"/>
<use href="#sb" x="70.8" y="90.1" opacity="0.85"/>
<use href="#sb" x="96.7" y="90.8" opacity="0.97"/>
<use href="#sb" x="122.8" y="90.5" opacity="0.98"/>
<use href="#sb" x="150.4" y="90.6" opacity="0.93"/>
<use href="#sb" x="177.9" y="90.8" opacity="0.88"/>
<use href="#sb" x="204.5" y="90.5" opacity="0.93"/>
<use href="#sb" x="230.6" y="90.6" opacity="0.92"/>
<use href="#sb" x="257.3" y="90.9" opacity="0.89"/>
<use href="#sb" x="285.2" y="90" opacity="0.97"/>
<use href="#sb" x="312.1" y="90.7" opacity="0.97"/>
<use href="#sb" x="338.2" y="91" opacity="0.93"/>
<use href="#sb" x="365.1" y="91.3" opacity="0.93"/>
<use href="#sb" x="391.2" y="91.2" opacity="0.85"/>
<use href="#ss" transform="translate(435.5,90.2) scale(2.3,.8)" opacity="0.75"/>
<use href="#sb" transform="translate(416.5,90.2) scale(1.25,.9)" opacity=".72"/>
<use href="#ss" transform="translate(27.2,116.1) scale(2.3,.8)" opacity="0.75"/>
<use href="#sb" transform="translate(46.2,116.1) scale(1.25,.9)" opacity=".72"/>
<use href="#sb" x="70" y="117.1" opacity="0.83"/>
<use href="#sb" x="97.1" y="117.1" opacity="0.95"/>
<use href="#sb" x="122.7" y="115.8" opacity="0.91"/>
<use href="#sb" x="150.1" y="116.6" opacity="1.00"/>
<use href="#sb" x="177" y="115.9" opacity="0.95"/>
<use href="#sb" x="203.6" y="115.8" opacity="0.95"/>
<use href="#sb" x="231.3" y="115.8" opacity="0.93"/>
<use href="#sb" x="258.2" y="116.8" opacity="0.93"/>
<use href="#sb" x="285.3" y="115.9" opacity="0.97"/>
<use href="#sb" x="312.1" y="116.9" opacity="0.94"/>
<use href="#sb" x="338" y="115.8" opacity="0.94"/>
<use href="#sb" x="365" y="116.6" opacity="0.89"/>
<use href="#sb" x="391.8" y="116" opacity="0.81"/>
<use href="#ss" transform="translate(434.8,116.3) scale(2.3,.8)" opacity="0.75"/>
<use href="#sb" transform="translate(415.8,116.3) scale(1.25,.9)" opacity=".72"/>
<use href="#ss" transform="translate(26.8,141.9) scale(2.3,.8)" opacity="0.75"/>
<use href="#sb" transform="translate(45.8,141.9) scale(1.25,.9)" opacity=".72"/>
<use href="#sb" x="70.1" y="142.1" opacity="0.91"/>
<use href="#sb" x="96.5" y="142.7" opacity="0.88"/>
<use href="#sb" x="124.1" y="142.6" opacity="0.95"/>
<use href="#sb" x="150.3" y="142.2" opacity="0.99"/>
<use href="#sb" x="176.6" y="142.3" opacity="0.95"/>
<use href="#sb" x="203.8" y="142.4" opacity="0.97"/>
<use href="#sb" x="230.4" y="142.4" opacity="0.93"/>
<use href="#sb" x="257.9" y="142.3" opacity="0.89"/>
<use href="#sb" x="284.9" y="141.9" opacity="0.99"/>
<use href="#sb" x="311.3" y="142.6" opacity="0.97"/>
<use href="#sb" x="338.8" y="142.6" opacity="0.88"/>
<use href="#sb" x="365.6" y="142.3" opacity="0.96"/>
<use href="#sb" x="391.3" y="141.5" opacity="0.83"/>
<use href="#ss" transform="translate(435.5,141.7) scale(2.3,.8)" opacity="0.75"/>
<use href="#sb" transform="translate(416.5,141.7) scale(1.25,.9)" opacity=".72"/>
<use href="#ss" transform="translate(26.1,167.6) scale(2.3,.8)" opacity="0.75"/>
<use href="#sb" transform="translate(45.1,167.6) scale(1.25,.9)" opacity=".72"/>
<use href="#sb" x="70.6" y="167.8" opacity="0.81"/>
<use href="#sb" x="96.9" y="167.6" opacity="0.97"/>
<use href="#sb" x="122.7" y="168.4" opacity="0.95"/>
<use href="#sb" x="151" y="168.5" opacity="0.98"/>
<use href="#sb" x="176.6" y="167.6" opacity="0.91"/>
<use href="#sb" x="204.5" y="167.4" opacity="0.91"/>
<use href="#sb" x="230.5" y="167.3" opacity="0.99"/>
<use href="#sb" x="258.6" y="167.6" opacity="0.97"/>
<use href="#sb" x="284.8" y="167.8" opacity="0.92"/>
<use href="#sb" x="311.9" y="167.4" opacity="0.91"/>
<use href="#sb" x="338.6" y="167.4" opacity="0.93"/>
<use href="#sb" x="366.1" y="167.1" opacity="0.89"/>
<use href="#sb" x="391.8" y="167.2" opacity="0.84"/>
<use href="#ss" transform="translate(435.8,167.9) scale(2.3,.8)" opacity="0.75"/>
<use href="#sb" transform="translate(416.8,167.9) scale(1.25,.9)" opacity=".72"/>
<use href="#ss" transform="translate(26.3,192.9) scale(2.3,.8)" opacity="0.75"/>
<use href="#sb" transform="translate(45.3,192.9) scale(1.25,.9)" opacity=".72"/>
<use href="#sb" x="70.3" y="193.2" opacity="0.90"/>
<use href="#sb" x="97.2" y="193.9" opacity="0.99"/>
<use href="#sb" x="124" y="194" opacity="0.99"/>
<use href="#sb" x="151" y="192.9" opacity="0.92"/>
<use href="#sb" x="176.8" y="193.6" opacity="0.94"/>
<use href="#sb" x="203.9" y="194" opacity="0.93"/>
<use href="#sb" x="230.6" y="193.2" opacity="0.94"/>
<use href="#sb" x="258.1" y="193.6" opacity="0.93"/>
<use href="#sb" x="284.4" y="193.4" opacity="0.92"/>
<use href="#sb" x="311.2" y="193.6" opacity="0.90"/>
<use href="#sb" x="338.9" y="193.7" opacity="0.90"/>
<use href="#sb" x="365.7" y="193.3" opacity="0.93"/>
<use href="#sb" x="391.5" y="193.9" opacity="0.91"/>
<use href="#ss" transform="translate(435.6,193.1) scale(2.3,.8)" opacity="0.75"/>
<use href="#sb" transform="translate(416.6,193.1) scale(1.25,.9)" opacity=".72"/>
<use href="#ss" transform="translate(26.8,219) scale(2.3,.8)" opacity="0.75"/>
<use href="#sb" transform="translate(45.8,219) scale(1.25,.9)" opacity=".72"/>
<use href="#sb" x="69.9" y="219.3" opacity="0.86"/>
<use href="#sb" x="97" y="219" opacity="0.98"/>
<use href="#sb" x="123.4" y="218.6" opacity="0.97"/>
<use href="#sb" x="150" y="219.2" opacity="0.89"/>
<use href="#sb" x="176.5" y="219.8" opacity="0.89"/>
<use href="#sb" x="203.6" y="218.7" opacity="0.89"/>
<use href="#sb" x="231.5" y="219.9" opacity="0.96"/>
<use href="#sb" x="257.8" y="219.7" opacity="0.94"/>
<use href="#sb" x="284.3" y="219.5" opacity="0.92"/>
<use href="#sb" x="311.4" y="218.9" opacity="0.93"/>
<use href="#sb" x="338.2" y="219.4" opacity="0.98"/>
<use href="#sb" x="365.6" y="218.5" opacity="0.96"/>
<use href="#sb" x="390.7" y="219.2" opacity="0.91"/>
<use href="#ss" transform="translate(435.5,219.8) scale(2.3,.8)" opacity="0.75"/>
<use href="#sb" transform="translate(416.5,219.8) scale(1.25,.9)" opacity=".72"/>
<use href="#ss" transform="translate(27.1,244.6) scale(2.3,.8)" opacity="0.75"/>
<use href="#sb" transform="translate(46.1,244.6) scale(1.25,.9)" opacity=".72"/>
<use href="#sb" x="70.1" y="244.8" opacity="0.88"/>
<use href="#sb" x="96.1" y="244.7" opacity="0.97"/>
<use href="#sb" x="123.2" y="245" opacity="0.95"/>
<use href="#sb" x="150.9" y="244.2" opacity="0.90"/>
<use href="#sb" x="177.6" y="245.1" opacity="0.89"/>
<use href="#sb" x="203.6" y="244.5" opacity="0.95"/>
<use href="#sb" x="231.6" y="244.5" opacity="0.90"/>
<use href="#sb" x="258.2" y="244.8" opacity="0.98"/>
<use href="#sb" x="285.5" y="245.5" opacity="0.97"/>
<use href="#sb" x="311.7" y="244.3" opacity="0.98"/>
<use href="#sb" x="338.5" y="244.8" opacity="0.96"/>
<use href="#sb" x="366.1" y="245" opacity="0.99"/>
<use href="#sb" x="392" y="244.3" opacity="0.85"/>
<use href="#ss" transform="translate(435.8,245.3) scale(2.3,.8)" opacity="0.75"/>
<use href="#sb" transform="translate(416.8,245.3) scale(1.25,.9)" opacity=".72"/>
<use href="#ss" transform="translate(27.4,270.2) scale(2.3,.8)" opacity="0.75"/>
<use href="#sb" transform="translate(46.4,270.2) scale(1.25,.9)" opacity=".72"/>
<use href="#sb" x="70.6" y="271.2" opacity="0.87"/>
<use href="#sb" x="96.7" y="271.3" opacity="0.90"/>
<use href="#sb" x="122.8" y="271.1" opacity="0.95"/>
<use href="#sb" x="149.9" y="271.1" opacity="0.91"/>
<use href="#sb" x="176.7" y="270.3" opacity="0.88"/>
<use href="#sb" x="204" y="271" opacity="0.93"/>
<use href="#sb" x="231.7" y="270" opacity="0.90"/>
<use href="#sb" x="257.4" y="270.7" opacity="0.90"/>
<use href="#sb" x="285" y="270.6" opacity="0.95"/>
<use href="#sb" x="312.2" y="271" opacity="0.99"/>
<use href="#sb" x="338.1" y="270.4" opacity="1.00"/>
<use href="#sb" x="365.4" y="270.3" opacity="0.94"/>
<use href="#sb" x="391" y="271.1" opacity="0.88"/>
<use href="#ss" transform="translate(434.7,271.2) scale(2.3,.8)" opacity="0.75"/>
<use href="#sb" transform="translate(415.7,271.2) scale(1.25,.9)" opacity=".72"/>
<use href="#ss" transform="translate(26.7,296) scale(2.3,.8)" opacity="0.75"/>
<use href="#sb" transform="translate(45.7,296) scale(1.25,.9)" opacity=".72"/>
<use href="#sb" x="70.8" y="296.9" opacity="0.85"/>
<use href="#sb" x="95.8" y="295.9" opacity="0.89"/>
<use href="#sb" x="123.4" y="296" opacity="0.98"/>
<use href="#sb" x="149.9" y="295.6" opacity="0.94"/>
<use href="#sb" x="176.7" y="296" opacity="0.91"/>
<use href="#sb" x="203.6" y="296.5" opacity="0.99"/>
<use href="#sb" x="230.8" y="296.5" opacity="0.92"/>
<use href="#sb" x="258.5" y="296.4" opacity="0.88"/>
<use href="#sb" x="285.1" y="295.9" opacity="0.89"/>
<use href="#sb" x="311" y="296.8" opacity="0.97"/>
<use href="#sb" x="338.4" y="296.4" opacity="0.96"/>
<use href="#sb" x="364.9" y="296.6" opacity="0.97"/>
<use href="#sb" x="392" y="295.7" opacity="0.87"/>
<use href="#ss" transform="translate(435.3,296.8) scale(2.3,.8)" opacity="0.75"/>
<use href="#sb" transform="translate(416.3,296.8) scale(1.25,.9)" opacity=".72"/>
<use href="#ss" transform="translate(26.5,322.2) scale(2.3,.8)" opacity="0.75"/>
<use href="#sb" transform="translate(45.5,322.2) scale(1.25,.9)" opacity=".72"/>
<use href="#sb" x="71.2" y="321.8" opacity="0.87"/>
<use href="#sb" x="97.1" y="321.3" opacity="1.00"/>
<use href="#sb" x="123.1" y="321.9" opacity="0.91"/>
<use href="#sb" x="150.7" y="322" opacity="0.97"/>
<use href="#sb" x="176.6" y="322.5" opacity="0.98"/>
<use href="#sb" x="204.4" y="321.6" opacity="0.91"/>
<use href="#sb" x="230.9" y="321.4" opacity="0.99"/>
<use href="#sb" x="257.8" y="322.6" opacity="0.90"/>
<use href="#sb" x="285" y="322.4" opacity="0.96"/>
<use href="#sb" x="311.6" y="321.3" opacity="0.93"/>
<use href="#sb" x="338.4" y="322.6" opacity="1.00"/>
<use href="#sb" x="366.1" y="322.7" opacity="0.90"/>
<use href="#sb" x="390.7" y="321.7" opacity="0.81"/>
<use href="#ss" transform="translate(434.8,322.1) scale(2.3,.8)" opacity="0.75"/>
<use href="#sb" transform="translate(415.8,322.1) scale(1.25,.9)" opacity=".72"/>
<use href="#ss" transform="translate(26.3,347.9) scale(2.3,.8)" opacity="0.75"/>
<use href="#sb" transform="translate(45.3,347.9) scale(1.25,.9)" opacity=".72"/>
<use href="#sb" x="70.4" y="347.4" opacity="0.92"/>
<use href="#sb" x="96.1" y="348.2" opacity="0.94"/>
<use href="#sb" x="123.6" y="347.2" opacity="0.97"/>
<use href="#sb" x="150.8" y="347.3" opacity="0.94"/>
<use href="#sb" x="177.4" y="347.7" opacity="0.97"/>
<use href="#sb" x="204.3" y="347.4" opacity="0.96"/>
<use href="#sb" x="231.4" y="347.6" opacity="0.95"/>
<use href="#sb" x="258.1" y="347.7" opacity="0.89"/>
<use href="#sb" x="284.7" y="348.1" opacity="0.97"/>
<use href="#sb" x="311.1" y="347.7" opacity="0.95"/>
<use href="#sb" x="338.6" y="347.2" opacity="0.96"/>
<use href="#sb" x="365.8" y="347.7" opacity="0.99"/>
<use href="#sb" x="391.5" y="347" opacity="0.84"/>
<use href="#ss" transform="translate(435.6,347.1) scale(2.3,.8)" opacity="0.75"/>
<use href="#sb" transform="translate(416.6,347.1) scale(1.25,.9)" opacity=".72"/>
<use href="#ss" transform="translate(27.4,372.7) scale(2.3,.8)" opacity="0.5"/>
<use href="#sb" transform="translate(46.4,372.7) scale(1.25,.9)" opacity=".72"/>
<use href="#sb" x="71" y="371.9" opacity="0.81"/>
<use href="#sb" x="97" y="372.4" opacity="0.86"/>
<use href="#sb" x="123.4" y="372.8" opacity="0.85"/>
<use href="#sb" x="150.7" y="371.9" opacity="0.92"/>
<use href="#sb" x="177.5" y="372.1" opacity="0.86"/>
<use href="#sb" x="204.6" y="372.2" opacity="0.89"/>
<use href="#sb" x="231.6" y="373" opacity="0.84"/>
<use href="#sb" x="258.3" y="372.6" opacity="0.90"/>
<use href="#sb" x="284.2" y="372.3" opacity="0.86"/>
<use href="#sb" x="312.1" y="372.3" opacity="0.81"/>
<use href="#sb" x="338.2" y="372.9" opacity="0.91"/>
<use href="#sb" x="365.6" y="371.8" opacity="0.89"/>
<use href="#sb" x="391.9" y="372.1" opacity="0.86"/>
<use href="#ss" transform="translate(435,371.8) scale(2.3,.8)" opacity="0.5"/>
<use href="#sb" transform="translate(416,371.8) scale(1.25,.9)" opacity=".72"/>
<use href="#ss" transform="translate(42,399.6) scale(1.5,1.5)" opacity=".7"/>
<use href="#sb" x="46" y="395.6" opacity=".3"/>
<use href="#ss" transform="translate(70,414.7) scale(.8,2.1)" opacity="0.5"/>
<use href="#sb" transform="translate(70,396.7) scale(.9,1.25)" opacity=".62"/>
<use href="#ss" transform="translate(95.9,414.5) scale(.8,2.1)" opacity="0.75"/>
<use href="#sb" transform="translate(95.9,396.5) scale(.9,1.25)" opacity=".62"/>
<use href="#ss" transform="translate(123.8,413.8) scale(.8,2.1)" opacity="0.75"/>
<use href="#sb" transform="translate(123.8,395.8) scale(.9,1.25)" opacity=".62"/>
<use href="#ss" transform="translate(150.1,413.7) scale(.8,2.1)" opacity="0.75"/>
<use href="#sb" transform="translate(150.1,395.7) scale(.9,1.25)" opacity=".62"/>
<use href="#ss" transform="translate(177.5,414.8) scale(.8,2.1)" opacity="0.75"/>
<use href="#sb" transform="translate(177.5,396.8) scale(.9,1.25)" opacity=".62"/>
<use href="#ss" transform="translate(204.4,414.1) scale(.8,2.1)" opacity="0.75"/>
<use href="#sb" transform="translate(204.4,396.1) scale(.9,1.25)" opacity=".62"/>
<use href="#ss" transform="translate(231.1,414) scale(.8,2.1)" opacity="0.75"/>
<use href="#sb" transform="translate(231.1,396) scale(.9,1.25)" opacity=".62"/>
<use href="#ss" transform="translate(258.2,413.8) scale(.8,2.1)" opacity="0.75"/>
<use href="#sb" transform="translate(258.2,395.8) scale(.9,1.25)" opacity=".62"/>
<use href="#ss" transform="translate(284.4,414.4) scale(.8,2.1)" opacity="0.75"/>
<use href="#sb" transform="translate(284.4,396.4) scale(.9,1.25)" opacity=".62"/>
<use href="#ss" transform="translate(311.4,414.8) scale(.8,2.1)" opacity="0.75"/>
<use href="#sb" transform="translate(311.4,396.8) scale(.9,1.25)" opacity=".62"/>
<use href="#ss" transform="translate(338.9,413.7) scale(.8,2.1)" opacity="0.75"/>
<use href="#sb" transform="translate(338.9,395.7) scale(.9,1.25)" opacity=".62"/>
<use href="#ss" transform="translate(364.8,414.2) scale(.8,2.1)" opacity="0.75"/>
<use href="#sb" transform="translate(364.8,396.2) scale(.9,1.25)" opacity=".62"/>
<use href="#ss" transform="translate(390.9,414.1) scale(.8,2.1)" opacity="0.5"/>
<use href="#sb" transform="translate(390.9,396.1) scale(.9,1.25)" opacity=".62"/>
<use href="#ss" transform="translate(420.4,400.5) scale(1.5,1.5)" opacity=".7"/>
<use href="#sb" x="416.4" y="396.5" opacity=".3"/>
</g></svg>
<line x1="771" x2="771" y1="457.2" y2="453.2" stroke="#05002a" stroke-width="1"/>
<line x1="771" x2="771" y1="19" y2="23" stroke="#05002a" stroke-width="1"/>
<line x1="861" x2="861" y1="457.2" y2="453.2" stroke="#05002a" stroke-width="1"/>
<line x1="861" x2="861" y1="19" y2="23" stroke="#05002a" stroke-width="1"/>
<line x1="951" x2="951" y1="457.2" y2="453.2" stroke="#05002a" stroke-width="1"/>
<line x1="951" x2="951" y1="19" y2="23" stroke="#05002a" stroke-width="1"/>
<line x1="1041" x2="1041" y1="457.2" y2="453.2" stroke="#05002a" stroke-width="1"/>
<line x1="1041" x2="1041" y1="19" y2="23" stroke="#05002a" stroke-width="1"/>
<line x1="1131" x2="1131" y1="457.2" y2="453.2" stroke="#05002a" stroke-width="1"/>
<line x1="1131" x2="1131" y1="19" y2="23" stroke="#05002a" stroke-width="1"/>
<line x1="724" x2="728" y1="64" y2="64" stroke="#05002a" stroke-width="1"/>
<line x1="1187.3" x2="1183.3" y1="64" y2="64" stroke="#05002a" stroke-width="1"/>
<line x1="724" x2="728" y1="151" y2="151" stroke="#05002a" stroke-width="1"/>
<line x1="1187.3" x2="1183.3" y1="151" y2="151" stroke="#05002a" stroke-width="1"/>
<line x1="724" x2="728" y1="238" y2="238" stroke="#05002a" stroke-width="1"/>
<line x1="1187.3" x2="1183.3" y1="238" y2="238" stroke="#05002a" stroke-width="1"/>
<line x1="724" x2="728" y1="325" y2="325" stroke="#05002a" stroke-width="1"/>
<line x1="1187.3" x2="1183.3" y1="325" y2="325" stroke="#05002a" stroke-width="1"/>
<line x1="724" x2="728" y1="412" y2="412" stroke="#05002a" stroke-width="1"/>
<line x1="1187.3" x2="1183.3" y1="412" y2="412" stroke="#05002a" stroke-width="1"/>
<text transform="translate(771,479.3) scale(1.05,1)" font-family="DejaVu Sans, Liberation Sans, sans-serif" font-size="16" text-anchor="middle" fill="#1c1c1c" stroke="#1c1c1c" stroke-width="0.35">−20</text>
<text transform="translate(861,479.3) scale(1.05,1)" font-family="DejaVu Sans, Liberation Sans, sans-serif" font-size="16" text-anchor="middle" fill="#1c1c1c" stroke="#1c1c1c" stroke-width="0.35">−10</text>
<text transform="translate(951,479.3) scale(1.05,1)" font-family="DejaVu Sans, Liberation Sans, sans-serif" font-size="16" text-anchor="middle" fill="#1c1c1c" stroke="#1c1c1c" stroke-width="0.35">0</text>
<text transform="translate(1041,479.3) scale(1.05,1)" font-family="DejaVu Sans, Liberation Sans, sans-serif" font-size="16" text-anchor="middle" fill="#1c1c1c" stroke="#1c1c1c" stroke-width="0.35">10</text>
<text transform="translate(1131,479.3) scale(1.05,1)" font-family="DejaVu Sans, Liberation Sans, sans-serif" font-size="16" text-anchor="middle" fill="#1c1c1c" stroke="#1c1c1c" stroke-width="0.35">20</text>
<text transform="translate(717.3,68.24) scale(1.05,1)" font-family="DejaVu Sans, Liberation Sans, sans-serif" font-size="16" text-anchor="end" fill="#1c1c1c" stroke="#1c1c1c" stroke-width="0.35">20</text>
<text transform="translate(717.3,155.24) scale(1.05,1)" font-family="DejaVu Sans, Liberation Sans, sans-serif" font-size="16" text-anchor="end" fill="#1c1c1c" stroke="#1c1c1c" stroke-width="0.35">10</text>
<text transform="translate(717.3,242.24) scale(1.05,1)" font-family="DejaVu Sans, Liberation Sans, sans-serif" font-size="16" text-anchor="end" fill="#1c1c1c" stroke="#1c1c1c" stroke-width="0.35">0</text>
<text transform="translate(717.3,329.24) scale(1.05,1)" font-family="DejaVu Sans, Liberation Sans, sans-serif" font-size="16" text-anchor="end" fill="#1c1c1c" stroke="#1c1c1c" stroke-width="0.35">−10</text>
<text transform="translate(717.3,416.24) scale(1.05,1)" font-family="DejaVu Sans, Liberation Sans, sans-serif" font-size="16" text-anchor="end" fill="#1c1c1c" stroke="#1c1c1c" stroke-width="0.35">−20</text>
<rect x="1212.2" y="20.7" width="20.8" height="437.4" fill="url(#jet)" stroke="#2a1a1a" stroke-width="1.1"/>
<text x="1242" y="465.98" font-family="Liberation Sans, Arial, sans-serif" font-size="16" text-anchor="start" fill="#262626" >0</text>
<line x1="1228" x2="1233" y1="416.2" y2="416.2" stroke="#222" stroke-width="1.1"/>
<text x="1242" y="421.88" font-family="Liberation Sans, Arial, sans-serif" font-size="16" text-anchor="start" fill="#262626" >4</text>
<line x1="1228" x2="1233" y1="372.1" y2="372.1" stroke="#222" stroke-width="1.1"/>
<text x="1242" y="377.78" font-family="Liberation Sans, Arial, sans-serif" font-size="16" text-anchor="start" fill="#262626" >8</text>
<line x1="1228" x2="1233" y1="328" y2="328" stroke="#222" stroke-width="1.1"/>
<text x="1242" y="333.68" font-family="Liberation Sans, Arial, sans-serif" font-size="16" text-anchor="start" fill="#262626" >12</text>
<line x1="1228" x2="1233" y1="283.9" y2="283.9" stroke="#222" stroke-width="1.1"/>
<text x="1242" y="289.58" font-family="Liberation Sans, Arial, sans-serif" font-size="16" text-anchor="start" fill="#262626" >16</text>
<line x1="1228" x2="1233" y1="239.8" y2="239.8" stroke="#222" stroke-width="1.1"/>
<text x="1242" y="245.48" font-family="Liberation Sans, Arial, sans-serif" font-size="16" text-anchor="start" fill="#262626" >20</text>
<line x1="1228" x2="1233" y1="195.7" y2="195.7" stroke="#222" stroke-width="1.1"/>
<text x="1242" y="201.38" font-family="Liberation Sans, Arial, sans-serif" font-size="16" text-anchor="start" fill="#262626" >24</text>
<line x1="1228" x2="1233" y1="151.6" y2="151.6" stroke="#222" stroke-width="1.1"/>
<text x="1242" y="157.28" font-family="Liberation Sans, Arial, sans-serif" font-size="16" text-anchor="start" fill="#262626" >28</text>
<line x1="1228" x2="1233" y1="107.5" y2="107.5" stroke="#222" stroke-width="1.1"/>
<text x="1242" y="113.18" font-family="Liberation Sans, Arial, sans-serif" font-size="16" text-anchor="start" fill="#262626" >32</text>
<line x1="1228" x2="1233" y1="63.4" y2="63.4" stroke="#222" stroke-width="1.1"/>
<text x="1242" y="69.08" font-family="Liberation Sans, Arial, sans-serif" font-size="16" text-anchor="start" fill="#262626" >36</text>
<text x="1242" y="24.98" font-family="Liberation Sans, Arial, sans-serif" font-size="16" text-anchor="start" fill="#262626" >40</text>
<g shape-rendering="crispEdges">
<rect x="76" y="557.3" width="27.82" height="26.33" fill="#160070"/>
<rect x="103.42" y="557.3" width="27.82" height="26.33" fill="#86f6f8"/>
<rect x="130.84" y="557.3" width="27.82" height="26.33" fill="#5484f9"/>
<rect x="158.26" y="557.3" width="27.82" height="26.33" fill="#4e76f9"/>
<rect x="185.68" y="557.3" width="82.66" height="26.33" fill="#4a6af8"/>
<rect x="267.94" y="557.3" width="55.24" height="26.33" fill="#455ef8"/>
<rect x="322.78" y="557.3" width="27.82" height="26.33" fill="#4763f8"/>
<rect x="350.2" y="557.3" width="110.08" height="26.33" fill="#455ef8"/>
<rect x="459.88" y="557.3" width="27.82" height="26.33" fill="#4a6af8"/>
<rect x="487.3" y="557.3" width="27.82" height="26.33" fill="#86f6f8"/>
<rect x="514.72" y="557.3" width="27.48" height="26.33" fill="#160070"/>
<rect x="76" y="583.23" width="27.82" height="26.34" fill="#64acfa"/>
<rect x="103.42" y="583.23" width="55.24" height="26.34" fill="#3531f6"/>
<rect x="158.26" y="583.23" width="82.66" height="26.34" fill="#2b0ef6"/>
<rect x="240.52" y="583.23" width="55.24" height="26.34" fill="#2d17f6"/>
<rect x="295.36" y="583.23" width="55.24" height="26.34" fill="#2b0ef6"/>
<rect x="350.2" y="583.23" width="27.82" height="26.34" fill="#2d17f6"/>
<rect x="377.62" y="583.23" width="27.82" height="26.34" fill="#2a0cf6"/>
<rect x="405.04" y="583.23" width="55.24" height="26.34" fill="#2d17f6"/>
<rect x="459.88" y="583.23" width="27.82" height="26.34" fill="#3839f7"/>
<rect x="487.3" y="583.23" width="27.82" height="26.34" fill="#3c46f7"/>
<rect x="514.72" y="583.23" width="27.48" height="26.34" fill="#a9fb66"/>
<rect x="76" y="609.17" width="27.82" height="26.33" fill="#4052f8"/>
<rect x="103.42" y="609.17" width="27.82" height="26.33" fill="#332cf6"/>
<rect x="130.84" y="609.17" width="27.82" height="26.33" fill="#2b0ef6"/>
<rect x="158.26" y="609.17" width="302.02" height="26.33" fill="#2a07f6"/>
<rect x="459.88" y="609.17" width="27.82" height="26.33" fill="#2d17f6"/>
<rect x="487.3" y="609.17" width="27.82" height="26.33" fill="#3c46f7"/>
<rect x="514.72" y="609.17" width="27.48" height="26.33" fill="#79def9"/>
<rect x="76" y="635.1" width="27.82" height="26.34" fill="#4359f8"/>
<rect x="103.42" y="635.1" width="27.82" height="26.34" fill="#332cf6"/>
<rect x="130.84" y="635.1" width="27.82" height="26.34" fill="#2b0ef6"/>
<rect x="158.26" y="635.1" width="302.02" height="26.34" fill="#2a07f6"/>
<rect x="459.88" y="635.1" width="27.82" height="26.34" fill="#2b0ef6"/>
<rect x="487.3" y="635.1" width="27.82" height="26.34" fill="#332cf6"/>
<rect x="514.72" y="635.1" width="27.48" height="26.34" fill="#64acfa"/>
<rect x="76" y="661.04" width="27.82" height="26.33" fill="#4052f8"/>
<rect x="103.42" y="661.04" width="27.82" height="26.33" fill="#2d17f6"/>
<rect x="130.84" y="661.04" width="27.82" height="26.33" fill="#2b0ef6"/>
<rect x="158.26" y="661.04" width="302.02" height="26.33" fill="#2a07f6"/>
<rect x="459.88" y="661.04" width="27.82" height="26.33" fill="#2b0ef6"/>
<rect x="487.3" y="661.04" width="27.82" height="26.33" fill="#2f1ff6"/>
<rect x="514.72" y="661.04" width="27.48" height="26.33" fill="#64acfa"/>
<rect x="76" y="686.97" width="27.82" height="26.34" fill="#4359f8"/>
<rect x="103.42" y="686.97" width="27.82" height="26.34" fill="#3227f6"/>
<rect x="130.84" y="686.97" width="27.82" height="26.34" fill="#2b0ef6"/>
<rect x="158.26" y="686.97" width="302.02" height="26.34" fill="#2a07f6"/>
<rect x="459.88" y="686.97" width="27.82" height="26.34" fill="#2b0ef6"/>
<rect x="487.3" y="686.97" width="27.82" height="26.34" fill="#2d17f6"/>
<rect x="514.72" y="686.97" width="27.48" height="26.34" fill="#64acfa"/>
<rect x="76" y="712.91" width="27.82" height="26.33" fill="#455ef8"/>
<rect x="103.42" y="712.91" width="27.82" height="26.33" fill="#3021f6"/>
<rect x="130.84" y="712.91" width="27.82" height="26.33" fill="#2b0ef6"/>
<rect x="158.26" y="712.91" width="302.02" height="26.33" fill="#2a07f6"/>
<rect x="459.88" y="712.91" width="27.82" height="26.33" fill="#2b0ef6"/>
<rect x="487.3" y="712.91" width="27.82" height="26.33" fill="#3021f6"/>
<rect x="514.72" y="712.91" width="27.48" height="26.33" fill="#64acfa"/>
<rect x="76" y="738.84" width="27.82" height="26.34" fill="#455ef8"/>
<rect x="103.42" y="738.84" width="27.82" height="26.34" fill="#3021f6"/>
<rect x="130.84" y="738.84" width="27.82" height="26.34" fill="#2b0ef6"/>
<rect x="158.26" y="738.84" width="302.02" height="26.34" fill="#2a07f6"/>
<rect x="459.88" y="738.84" width="27.82" height="26.34" fill="#2b0ef6"/>
<rect x="487.3" y="738.84" width="27.82" height="26.34" fill="#2d17f6"/>
<rect x="514.72" y="738.84" width="27.48" height="26.34" fill="#4e76f9"/>
<rect x="76" y="764.78" width="27.82" height="26.33" fill="#4359f8"/>
<rect x="103.42" y="764.78" width="27.82" height="26.33" fill="#3021f6"/>
<rect x="130.84" y="764.78" width="27.82" height="26.33" fill="#2b0ef6"/>
<rect x="158.26" y="764.78" width="302.02" height="26.33" fill="#2a07f6"/>
<rect x="459.88" y="764.78" width="27.82" height="26.33" fill="#2b0ef6"/>
<rect x="487.3" y="764.78" width="27.82" height="26.33" fill="#2d17f6"/>
<rect x="514.72" y="764.78" width="27.48" height="26.33" fill="#5484f9"/>
<rect x="76" y="790.71" width="27.82" height="26.33" fill="#455ef8"/>
<rect x="103.42" y="790.71" width="27.82" height="26.33" fill="#3021f6"/>
<rect x="130.84" y="790.71" width="27.82" height="26.33" fill="#2b0ef6"/>
<rect x="158.26" y="790.71" width="302.02" height="26.33" fill="#2a07f6"/>
<rect x="459.88" y="790.71" width="27.82" height="26.33" fill="#2b0ef6"/>
<rect x="487.3" y="790.71" width="27.82" height="26.33" fill="#2d17f6"/>
<rect x="514.72" y="790.71" width="27.48" height="26.33" fill="#4e76f9"/>
<rect x="76" y="816.65" width="27.82" height="26.34" fill="#4763f8"/>
<rect x="103.42" y="816.65" width="27.82" height="26.34" fill="#3021f6"/>
<rect x="130.84" y="816.65" width="27.82" height="26.34" fill="#2b0ef6"/>
<rect x="158.26" y="816.65" width="302.02" height="26.34" fill="#2a07f6"/>
<rect x="459.88" y="816.65" width="27.82" height="26.34" fill="#2b0ef6"/>
<rect x="487.3" y="816.65" width="27.82" height="26.34" fill="#2d17f6"/>
<rect x="514.72" y="816.65" width="27.48" height="26.34" fill="#4c71f9"/>
<rect x="76" y="842.58" width="27.82" height="26.34" fill="#455ef8"/>
<rect x="103.42" y="842.58" width="27.82" height="26.34" fill="#3227f6"/>
<rect x="130.84" y="842.58" width="27.82" height="26.34" fill="#2b0ef6"/>
<rect x="158.26" y="842.58" width="302.02" height="26.34" fill="#2a07f6"/>
<rect x="459.88" y="842.58" width="27.82" height="26.34" fill="#2b0ef6"/>
<rect x="487.3" y="842.58" width="27.82" height="26.34" fill="#2d17f6"/>
<rect x="514.72" y="842.58" width="27.48" height="26.34" fill="#4e76f9"/>
<rect x="76" y="868.52" width="27.82" height="26.33" fill="#4a6af8"/>
<rect x="103.42" y="868.52" width="27.82" height="26.33" fill="#3021f6"/>
<rect x="130.84" y="868.52" width="27.82" height="26.33" fill="#2b0ef6"/>
<rect x="158.26" y="868.52" width="302.02" height="26.33" fill="#2a07f6"/>
<rect x="459.88" y="868.52" width="27.82" height="26.33" fill="#2b0ef6"/>
<rect x="487.3" y="868.52" width="27.82" height="26.33" fill="#3021f6"/>
<rect x="514.72" y="868.52" width="27.48" height="26.33" fill="#5484f9"/>
<rect x="76" y="894.45" width="27.82" height="26.33" fill="#5484f9"/>
<rect x="103.42" y="894.45" width="27.82" height="26.33" fill="#3021f6"/>
<rect x="130.84" y="894.45" width="27.82" height="26.33" fill="#2c13f6"/>
<rect x="158.26" y="894.45" width="302.02" height="26.33" fill="#2a07f6"/>
<rect x="459.88" y="894.45" width="27.82" height="26.33" fill="#2c13f6"/>
<rect x="487.3" y="894.45" width="27.82" height="26.33" fill="#3227f6"/>
<rect x="514.72" y="894.45" width="27.48" height="26.33" fill="#5991fa"/>
<rect x="76" y="920.39" width="27.82" height="26.34" fill="#5991fa"/>
<rect x="103.42" y="920.39" width="27.82" height="26.34" fill="#332cf6"/>
<rect x="130.84" y="920.39" width="27.82" height="26.34" fill="#3227f6"/>
<rect x="158.26" y="920.39" width="302.02" height="26.34" fill="#2b0ef6"/>
<rect x="459.88" y="920.39" width="27.82" height="26.34" fill="#2d17f6"/>
<rect x="487.3" y="920.39" width="27.82" height="26.34" fill="#3531f6"/>
<rect x="514.72" y="920.39" width="27.48" height="26.34" fill="#4a6af8"/>
<rect x="76" y="946.32" width="27.82" height="26.34" fill="#79def9"/>
<rect x="103.42" y="946.32" width="55.24" height="26.34" fill="#3839f7"/>
<rect x="158.26" y="946.32" width="55.24" height="26.34" fill="#332cf6"/>
<rect x="213.1" y="946.32" width="27.82" height="26.34" fill="#3227f6"/>
<rect x="240.52" y="946.32" width="27.82" height="26.34" fill="#332cf6"/>
<rect x="267.94" y="946.32" width="27.82" height="26.34" fill="#3227f6"/>
<rect x="295.36" y="946.32" width="27.82" height="26.34" fill="#3531f6"/>
<rect x="322.78" y="946.32" width="110.08" height="26.34" fill="#3227f6"/>
<rect x="432.46" y="946.32" width="27.82" height="26.34" fill="#3021f6"/>
<rect x="459.88" y="946.32" width="27.82" height="26.34" fill="#332cf6"/>
<rect x="487.3" y="946.32" width="27.82" height="26.34" fill="#4052f8"/>
<rect x="514.72" y="946.32" width="27.48" height="26.34" fill="#9efc7a"/>
<rect x="76" y="972.26" width="27.82" height="25.94" fill="#160070"/>
<rect x="103.42" y="972.26" width="27.82" height="25.94" fill="#92fca2"/>
<rect x="130.84" y="972.26" width="27.82" height="25.94" fill="#5991fa"/>
<rect x="158.26" y="972.26" width="27.82" height="25.94" fill="#4e76f9"/>
<rect x="185.68" y="972.26" width="55.24" height="25.94" fill="#4a6af8"/>
<rect x="240.52" y="972.26" width="27.82" height="25.94" fill="#4e76f9"/>
<rect x="267.94" y="972.26" width="82.66" height="25.94" fill="#5e9efa"/>
<rect x="350.2" y="972.26" width="82.66" height="25.94" fill="#6ec5fa"/>
<rect x="432.46" y="972.26" width="27.82" height="25.94" fill="#79def9"/>
<rect x="459.88" y="972.26" width="27.82" height="25.94" fill="#8cfcce"/>
<rect x="487.3" y="972.26" width="27.82" height="25.94" fill="#d76520"/>
<rect x="514.72" y="972.26" width="27.48" height="25.94" fill="#160070"/>
</g>
<rect x="76" y="557.3" width="466.2" height="440.9" fill="none" stroke="#8a8a8a" stroke-width="1"/>
<line x1="131.5" x2="131.5" y1="998.2" y2="994.2" stroke="#333" stroke-width="1"/>
<line x1="131.5" x2="131.5" y1="557.3" y2="561.3" stroke="#333" stroke-width="1"/>
<line x1="220" x2="220" y1="998.2" y2="994.2" stroke="#333" stroke-width="1"/>
<line x1="220" x2="220" y1="557.3" y2="561.3" stroke="#333" stroke-width="1"/>
<line x1="308.5" x2="308.5" y1="998.2" y2="994.2" stroke="#333" stroke-width="1"/>
<line x1="308.5" x2="308.5" y1="557.3" y2="561.3" stroke="#333" stroke-width="1"/>
<line x1="397" x2="397" y1="998.2" y2="994.2" stroke="#333" stroke-width="1"/>
<line x1="397" x2="397" y1="557.3" y2="561.3" stroke="#333" stroke-width="1"/>
<line x1="485.5" x2="485.5" y1="998.2" y2="994.2" stroke="#333" stroke-width="1"/>
<line x1="485.5" x2="485.5" y1="557.3" y2="561.3" stroke="#333" stroke-width="1"/>
<line x1="76" x2="80" y1="606" y2="606" stroke="#333" stroke-width="1"/>
<line x1="542.2" x2="538.2" y1="606" y2="606" stroke="#333" stroke-width="1"/>
<line x1="76" x2="80" y1="692.5" y2="692.5" stroke="#333" stroke-width="1"/>
<line x1="542.2" x2="538.2" y1="692.5" y2="692.5" stroke="#333" stroke-width="1"/>
<line x1="76" x2="80" y1="777.5" y2="777.5" stroke="#333" stroke-width="1"/>
<line x1="542.2" x2="538.2" y1="777.5" y2="777.5" stroke="#333" stroke-width="1"/>
<line x1="76" x2="80" y1="863" y2="863" stroke="#333" stroke-width="1"/>
<line x1="542.2" x2="538.2" y1="863" y2="863" stroke="#333" stroke-width="1"/>
<line x1="76" x2="80" y1="950" y2="950" stroke="#333" stroke-width="1"/>
<line x1="542.2" x2="538.2" y1="950" y2="950" stroke="#333" stroke-width="1"/>
<text transform="translate(131.5,1020.5) scale(1.05,1)" font-family="DejaVu Sans, Liberation Sans, sans-serif" font-size="16" text-anchor="middle" fill="#1c1c1c" stroke="#1c1c1c" stroke-width="0.35">−20</text>
<text transform="translate(220,1020.5) scale(1.05,1)" font-family="DejaVu Sans, Liberation Sans, sans-serif" font-size="16" text-anchor="middle" fill="#1c1c1c" stroke="#1c1c1c" stroke-width="0.35">−10</text>
<text transform="translate(308.5,1020.5) scale(1.05,1)" font-family="DejaVu Sans, Liberation Sans, sans-serif" font-size="16" text-anchor="middle" fill="#1c1c1c" stroke="#1c1c1c" stroke-width="0.35">0</text>
<text transform="translate(397,1020.5) scale(1.05,1)" font-family="DejaVu Sans, Liberation Sans, sans-serif" font-size="16" text-anchor="middle" fill="#1c1c1c" stroke="#1c1c1c" stroke-width="0.35">10</text>
<text transform="translate(485.5,1020.5) scale(1.05,1)" font-family="DejaVu Sans, Liberation Sans, sans-serif" font-size="16" text-anchor="middle" fill="#1c1c1c" stroke="#1c1c1c" stroke-width="0.35">20</text>
<text transform="translate(70.6,611.84) scale(1.05,1)" font-family="DejaVu Sans, Liberation Sans, sans-serif" font-size="16" text-anchor="end" fill="#1c1c1c" stroke="#1c1c1c" stroke-width="0.35">20</text>
<text transform="translate(70.6,698.34) scale(1.05,1)" font-family="DejaVu Sans, Liberation Sans, sans-serif" font-size="16" text-anchor="end" fill="#1c1c1c" stroke="#1c1c1c" stroke-width="0.35">10</text>
<text transform="translate(70.6,783.34) scale(1.05,1)" font-family="DejaVu Sans, Liberation Sans, sans-serif" font-size="16" text-anchor="end" fill="#1c1c1c" stroke="#1c1c1c" stroke-width="0.35">0</text>
<text transform="translate(70.6,868.84) scale(1.05,1)" font-family="DejaVu Sans, Liberation Sans, sans-serif" font-size="16" text-anchor="end" fill="#1c1c1c" stroke="#1c1c1c" stroke-width="0.35">−10</text>
<text transform="translate(70.6,955.84) scale(1.05,1)" font-family="DejaVu Sans, Liberation Sans, sans-serif" font-size="16" text-anchor="end" fill="#1c1c1c" stroke="#1c1c1c" stroke-width="0.35">−20</text>
<rect x="567.9" y="554.9" width="22.7" height="445.7" fill="url(#jet)" stroke="#2a1a1a" stroke-width="1.2"/>
<text x="597.6" y="1007.28" font-family="Liberation Sans, Arial, sans-serif" font-size="16" text-anchor="start" fill="#262626" >0</text>
<line x1="585.6" x2="590.6" y1="956.74" y2="956.74" stroke="#222" stroke-width="1.1"/>
<text x="597.6" y="962.42" font-family="Liberation Sans, Arial, sans-serif" font-size="16" text-anchor="start" fill="#262626" >0.4</text>
<line x1="585.6" x2="590.6" y1="911.88" y2="911.88" stroke="#222" stroke-width="1.1"/>
<text x="597.6" y="917.56" font-family="Liberation Sans, Arial, sans-serif" font-size="16" text-anchor="start" fill="#262626" >0.8</text>
<line x1="585.6" x2="590.6" y1="867.02" y2="867.02" stroke="#222" stroke-width="1.1"/>
<text x="597.6" y="872.7" font-family="Liberation Sans, Arial, sans-serif" font-size="16" text-anchor="start" fill="#262626" >1.2</text>
<line x1="585.6" x2="590.6" y1="822.16" y2="822.16" stroke="#222" stroke-width="1.1"/>
<text x="597.6" y="827.84" font-family="Liberation Sans, Arial, sans-serif" font-size="16" text-anchor="start" fill="#262626" >1.6</text>
<line x1="585.6" x2="590.6" y1="777.3" y2="777.3" stroke="#222" stroke-width="1.1"/>
<text x="597.6" y="782.98" font-family="Liberation Sans, Arial, sans-serif" font-size="16" text-anchor="start" fill="#262626" >2.0</text>
<line x1="585.6" x2="590.6" y1="732.44" y2="732.44" stroke="#222" stroke-width="1.1"/>
<text x="597.6" y="738.12" font-family="Liberation Sans, Arial, sans-serif" font-size="16" text-anchor="start" fill="#262626" >2.4</text>
<line x1="585.6" x2="590.6" y1="687.58" y2="687.58" stroke="#222" stroke-width="1.1"/>
<text x="597.6" y="693.26" font-family="Liberation Sans, Arial, sans-serif" font-size="16" text-anchor="start" fill="#262626" >2.8</text>
<line x1="585.6" x2="590.6" y1="642.72" y2="642.72" stroke="#222" stroke-width="1.1"/>
<text x="597.6" y="648.4" font-family="Liberation Sans, Arial, sans-serif" font-size="16" text-anchor="start" fill="#262626" >3.2</text>
<line x1="585.6" x2="590.6" y1="597.86" y2="597.86" stroke="#222" stroke-width="1.1"/>
<text x="597.6" y="603.54" font-family="Liberation Sans, Arial, sans-serif" font-size="16" text-anchor="start" fill="#262626" >3.6</text>
<text x="597.6" y="558.68" font-family="Liberation Sans, Arial, sans-serif" font-size="16" text-anchor="start" fill="#262626" >4.0</text>
<text transform="translate(24.1,778.2) rotate(-90)" font-family="Liberation Sans, Arial, sans-serif" font-size="29.3" text-anchor="middle" fill="#111">Y (mm)</text>
<g shape-rendering="crispEdges">
<rect x="724.4" y="554.6" width="27.4" height="25.4" fill="#160070"/>
<rect x="751.4" y="554.6" width="27.4" height="25.4" fill="#d55a1f"/>
<rect x="778.4" y="554.6" width="54.4" height="25.4" fill="#90fcb1"/>
<rect x="832.4" y="554.6" width="54.4" height="25.4" fill="#8cfcce"/>
<rect x="886.4" y="554.6" width="27.4" height="25.4" fill="#8efcbf"/>
<rect x="913.4" y="554.6" width="27.4" height="25.4" fill="#87f8ee"/>
<rect x="940.4" y="554.6" width="108.4" height="25.4" fill="#8cfcce"/>
<rect x="1048.4" y="554.6" width="27.4" height="25.4" fill="#8afbda"/>
<rect x="1075.4" y="554.6" width="27.4" height="25.4" fill="#90fcb1"/>
<rect x="1102.4" y="554.6" width="27.4" height="25.4" fill="#a3fc70"/>
<rect x="1129.4" y="554.6" width="27.4" height="25.4" fill="#5f0c10"/>
<rect x="1156.4" y="554.6" width="27" height="25.4" fill="#160070"/>
<rect x="724.4" y="579.6" width="27.4" height="27" fill="#d4471e"/>
<rect x="751.4" y="579.6" width="27.4" height="27" fill="#92fca2"/>
<rect x="778.4" y="579.6" width="27.4" height="27" fill="#87f8ee"/>
<rect x="805.4" y="579.6" width="27.4" height="27" fill="#80eaf9"/>
<rect x="832.4" y="579.6" width="54.4" height="27" fill="#69b8fa"/>
<rect x="886.4" y="579.6" width="27.4" height="27" fill="#80eaf9"/>
<rect x="913.4" y="579.6" width="27.4" height="27" fill="#69b8fa"/>
<rect x="940.4" y="579.6" width="54.4" height="27" fill="#86f6f8"/>
<rect x="994.4" y="579.6" width="27.4" height="27" fill="#80eaf9"/>
<rect x="1021.4" y="579.6" width="27.4" height="27" fill="#73d2fa"/>
<rect x="1048.4" y="579.6" width="27.4" height="27" fill="#79def9"/>
<rect x="1075.4" y="579.6" width="27.4" height="27" fill="#6ec5fa"/>
<rect x="1102.4" y="579.6" width="27.4" height="27" fill="#89f9e4"/>
<rect x="1129.4" y="579.6" width="27.4" height="27" fill="#d6fa37"/>
<rect x="1156.4" y="579.6" width="27" height="27" fill="#5f0c10"/>
<rect x="724.4" y="606.2" width="27.4" height="27" fill="#d6fa37"/>
<rect x="751.4" y="606.2" width="27.4" height="27" fill="#8afbda"/>
<rect x="778.4" y="606.2" width="54.4" height="27" fill="#69b8fa"/>
<rect x="832.4" y="606.2" width="108.4" height="27" fill="#64acfa"/>
<rect x="940.4" y="606.2" width="108.4" height="27" fill="#6ec5fa"/>
<rect x="1048.4" y="606.2" width="81.4" height="27" fill="#64acfa"/>
<rect x="1129.4" y="606.2" width="27.4" height="27" fill="#92fca2"/>
<rect x="1156.4" y="606.2" width="27" height="27" fill="#5f0c10"/>
<rect x="724.4" y="632.8" width="27.4" height="27" fill="#9efc7a"/>
<rect x="751.4" y="632.8" width="27.4" height="27" fill="#6ec5fa"/>
<rect x="778.4" y="632.8" width="54.4" height="27" fill="#5991fa"/>
<rect x="832.4" y="632.8" width="54.4" height="27" fill="#4e76f9"/>
<rect x="886.4" y="632.8" width="27.4" height="27" fill="#5484f9"/>
<rect x="913.4" y="632.8" width="27.4" height="27" fill="#4e76f9"/>
<rect x="940.4" y="632.8" width="27.4" height="27" fill="#5991fa"/>
<rect x="967.4" y="632.8" width="54.4" height="27" fill="#4e76f9"/>
<rect x="1021.4" y="632.8" width="27.4" height="27" fill="#5991fa"/>
<rect x="1048.4" y="632.8" width="27.4" height="27" fill="#5484f9"/>
<rect x="1075.4" y="632.8" width="27.4" height="27" fill="#5991fa"/>
<rect x="1102.4" y="632.8" width="27.4" height="27" fill="#5e9efa"/>
<rect x="1129.4" y="632.8" width="27.4" height="27" fill="#8afbda"/>
<rect x="1156.4" y="632.8" width="27" height="27" fill="#d2221e"/>
<rect x="724.4" y="659.4" width="27.4" height="27" fill="#9efc7a"/>
<rect x="751.4" y="659.4" width="27.4" height="27" fill="#5e9efa"/>
<rect x="778.4" y="659.4" width="54.4" height="27" fill="#5484f9"/>
<rect x="832.4" y="659.4" width="81.4" height="27" fill="#4e76f9"/>
<rect x="913.4" y="659.4" width="27.4" height="27" fill="#4a6af8"/>
<rect x="940.4" y="659.4" width="27.4" height="27" fill="#4e76f9"/>
<rect x="967.4" y="659.4" width="27.4" height="27" fill="#5484f9"/>
<rect x="994.4" y="659.4" width="81.4" height="27" fill="#4a6af8"/>
<rect x="1075.4" y="659.4" width="27.4" height="27" fill="#5484f9"/>
<rect x="1102.4" y="659.4" width="27.4" height="27" fill="#5991fa"/>
<rect x="1129.4" y="659.4" width="27.4" height="27" fill="#87f8ee"/>
<rect x="1156.4" y="659.4" width="27" height="27" fill="#d4471e"/>
<rect x="724.4" y="686" width="27.4" height="27" fill="#96fc95"/>
<rect x="751.4" y="686" width="27.4" height="27" fill="#5991fa"/>
<rect x="778.4" y="686" width="27.4" height="27" fill="#4e76f9"/>
<rect x="805.4" y="686" width="27.4" height="27" fill="#455ef8"/>
<rect x="832.4" y="686" width="27.4" height="27" fill="#3c46f7"/>
<rect x="859.4" y="686" width="27.4" height="27" fill="#4a6af8"/>
<rect x="886.4" y="686" width="108.4" height="27" fill="#455ef8"/>
<rect x="994.4" y="686" width="81.4" height="27" fill="#4a6af8"/>
<rect x="1075.4" y="686" width="27.4" height="27" fill="#455ef8"/>
<rect x="1102.4" y="686" width="27.4" height="27" fill="#5484f9"/>
<rect x="1129.4" y="686" width="27.4" height="27" fill="#69b8fa"/>
<rect x="1156.4" y="686" width="27" height="27" fill="#e49b26"/>
<rect x="724.4" y="712.6" width="27.4" height="27" fill="#96fc95"/>
<rect x="751.4" y="712.6" width="27.4" height="27" fill="#5991fa"/>
<rect x="778.4" y="712.6" width="54.4" height="27" fill="#4e76f9"/>
<rect x="832.4" y="712.6" width="27.4" height="27" fill="#4a6af8"/>
<rect x="859.4" y="712.6" width="27.4" height="27" fill="#4052f8"/>
<rect x="886.4" y="712.6" width="27.4" height="27" fill="#4a6af8"/>
<rect x="913.4" y="712.6" width="27.4" height="27" fill="#455ef8"/>
<rect x="940.4" y="712.6" width="81.4" height="27" fill="#4a6af8"/>
<rect x="1021.4" y="712.6" width="27.4" height="27" fill="#4e76f9"/>
<rect x="1048.4" y="712.6" width="27.4" height="27" fill="#4052f8"/>
<rect x="1075.4" y="712.6" width="27.4" height="27" fill="#4e76f9"/>
<rect x="1102.4" y="712.6" width="27.4" height="27" fill="#5484f9"/>
<rect x="1129.4" y="712.6" width="27.4" height="27" fill="#73d2fa"/>
<rect x="1156.4" y="712.6" width="27" height="27" fill="#a9fb66"/>
<rect x="724.4" y="739.2" width="27.4" height="27" fill="#9efc7a"/>
<rect x="751.4" y="739.2" width="27.4" height="27" fill="#5484f9"/>
<rect x="778.4" y="739.2" width="54.4" height="27" fill="#4e76f9"/>
<rect x="832.4" y="739.2" width="27.4" height="27" fill="#4052f8"/>
<rect x="859.4" y="739.2" width="27.4" height="27" fill="#455ef8"/>
<rect x="886.4" y="739.2" width="27.4" height="27" fill="#4a6af8"/>
<rect x="913.4" y="739.2" width="27.4" height="27" fill="#4359f8"/>
<rect x="940.4" y="739.2" width="27.4" height="27" fill="#4763f8"/>
<rect x="967.4" y="739.2" width="27.4" height="27" fill="#4359f8"/>
<rect x="994.4" y="739.2" width="27.4" height="27" fill="#455ef8"/>
<rect x="1021.4" y="739.2" width="27.4" height="27" fill="#4a6af8"/>
<rect x="1048.4" y="739.2" width="27.4" height="27" fill="#4763f8"/>
<rect x="1075.4" y="739.2" width="27.4" height="27" fill="#455ef8"/>
<rect x="1102.4" y="739.2" width="27.4" height="27" fill="#4e76f9"/>
<rect x="1129.4" y="739.2" width="27.4" height="27" fill="#69b8fa"/>
<rect x="1156.4" y="739.2" width="27" height="27" fill="#e49b26"/>
<rect x="724.4" y="765.8" width="27.4" height="27" fill="#b4fa52"/>
<rect x="751.4" y="765.8" width="27.4" height="27" fill="#64acfa"/>
<rect x="778.4" y="765.8" width="54.4" height="27" fill="#4e76f9"/>
<rect x="832.4" y="765.8" width="54.4" height="27" fill="#4a6af8"/>
<rect x="886.4" y="765.8" width="27.4" height="27" fill="#455ef8"/>
<rect x="913.4" y="765.8" width="27.4" height="27" fill="#4359f8"/>
<rect x="940.4" y="765.8" width="27.4" height="27" fill="#4c71f9"/>
<rect x="967.4" y="765.8" width="27.4" height="27" fill="#4257f8"/>
<rect x="994.4" y="765.8" width="27.4" height="27" fill="#455ef8"/>
<rect x="1021.4" y="765.8" width="27.4" height="27" fill="#4763f8"/>
<rect x="1048.4" y="765.8" width="27.4" height="27" fill="#4a6af8"/>
<rect x="1075.4" y="765.8" width="27.4" height="27" fill="#4c71f9"/>
<rect x="1102.4" y="765.8" width="27.4" height="27" fill="#4e76f9"/>
<rect x="1129.4" y="765.8" width="27.4" height="27" fill="#69b8fa"/>
<rect x="1156.4" y="765.8" width="27" height="27" fill="#edf935"/>
<rect x="724.4" y="792.4" width="27.4" height="27" fill="#b4fa52"/>
<rect x="751.4" y="792.4" width="27.4" height="27" fill="#5484f9"/>
<rect x="778.4" y="792.4" width="54.4" height="27" fill="#4e76f9"/>
<rect x="832.4" y="792.4" width="54.4" height="27" fill="#4c71f9"/>
<rect x="886.4" y="792.4" width="27.4" height="27" fill="#4a6af8"/>
<rect x="913.4" y="792.4" width="27.4" height="27" fill="#455ef8"/>
<rect x="940.4" y="792.4" width="27.4" height="27" fill="#4052f8"/>
<rect x="967.4" y="792.4" width="27.4" height="27" fill="#455ef8"/>
<rect x="994.4" y="792.4" width="27.4" height="27" fill="#3e4bf7"/>
<rect x="1021.4" y="792.4" width="27.4" height="27" fill="#4a6af8"/>
<rect x="1048.4" y="792.4" width="27.4" height="27" fill="#3f4df7"/>
<rect x="1075.4" y="792.4" width="27.4" height="27" fill="#4a6af8"/>
<rect x="1102.4" y="792.4" width="27.4" height="27" fill="#4e76f9"/>
<rect x="1129.4" y="792.4" width="27.4" height="27" fill="#5991fa"/>
<rect x="1156.4" y="792.4" width="27" height="27" fill="#edf935"/>
<rect x="724.4" y="819" width="27.4" height="27" fill="#b4fa52"/>
<rect x="751.4" y="819" width="27.4" height="27" fill="#578cf9"/>
<rect x="778.4" y="819" width="27.4" height="27" fill="#507bf9"/>
<rect x="805.4" y="819" width="27.4" height="27" fill="#5484f9"/>
<rect x="832.4" y="819" width="54.4" height="27" fill="#4c71f9"/>
<rect x="886.4" y="819" width="27.4" height="27" fill="#4e76f9"/>
<rect x="913.4" y="819" width="27.4" height="27" fill="#4a6af8"/>
<rect x="940.4" y="819" width="54.4" height="27" fill="#455ef8"/>
<rect x="994.4" y="819" width="81.4" height="27" fill="#4763f8"/>
<rect x="1075.4" y="819" width="27.4" height="27" fill="#4a6af8"/>
<rect x="1102.4" y="819" width="27.4" height="27" fill="#507bf9"/>
<rect x="1129.4" y="819" width="27.4" height="27" fill="#64acfa"/>
<rect x="1156.4" y="819" width="27" height="27" fill="#c5fa45"/>
<rect x="724.4" y="845.6" width="27.4" height="27" fill="#e1f936"/>
<rect x="751.4" y="845.6" width="27.4" height="27" fill="#6ec5fa"/>
<rect x="778.4" y="845.6" width="27.4" height="27" fill="#5991fa"/>
<rect x="805.4" y="845.6" width="54.4" height="27" fill="#507bf9"/>
<rect x="859.4" y="845.6" width="27.4" height="27" fill="#5991fa"/>
<rect x="886.4" y="845.6" width="27.4" height="27" fill="#4c71f9"/>
<rect x="913.4" y="845.6" width="54.4" height="27" fill="#4a6af8"/>
<rect x="967.4" y="845.6" width="27.4" height="27" fill="#4763f8"/>
<rect x="994.4" y="845.6" width="54.4" height="27" fill="#455ef8"/>
<rect x="1048.4" y="845.6" width="27.4" height="27" fill="#4763f8"/>
<rect x="1075.4" y="845.6" width="27.4" height="27" fill="#4a6af8"/>
<rect x="1102.4" y="845.6" width="27.4" height="27" fill="#507bf9"/>
<rect x="1129.4" y="845.6" width="27.4" height="27" fill="#64acfa"/>
<rect x="1156.4" y="845.6" width="27" height="27" fill="#e1f936"/>
<rect x="724.4" y="872.2" width="27.4" height="27" fill="#d6fa37"/>
<rect x="751.4" y="872.2" width="27.4" height="27" fill="#73d2fa"/>
<rect x="778.4" y="872.2" width="27.4" height="27" fill="#5991fa"/>
<rect x="805.4" y="872.2" width="27.4" height="27" fill="#5484f9"/>
<rect x="832.4" y="872.2" width="108.4" height="27" fill="#4c71f9"/>
<rect x="940.4" y="872.2" width="27.4" height="27" fill="#4052f8"/>
<rect x="967.4" y="872.2" width="27.4" height="27" fill="#4763f8"/>
<rect x="994.4" y="872.2" width="27.4" height="27" fill="#455ef8"/>
<rect x="1021.4" y="872.2" width="54.4" height="27" fill="#4a6af8"/>
<rect x="1075.4" y="872.2" width="27.4" height="27" fill="#4c71f9"/>
<rect x="1102.4" y="872.2" width="27.4" height="27" fill="#507bf9"/>
<rect x="1129.4" y="872.2" width="27.4" height="27" fill="#64acfa"/>
<rect x="1156.4" y="872.2" width="27" height="27" fill="#a3fc70"/>
<rect x="724.4" y="898.8" width="27.4" height="27" fill="#c5fa45"/>
<rect x="751.4" y="898.8" width="27.4" height="27" fill="#79def9"/>
<rect x="778.4" y="898.8" width="27.4" height="27" fill="#64acfa"/>
<rect x="805.4" y="898.8" width="27.4" height="27" fill="#5e9efa"/>
<rect x="832.4" y="898.8" width="108.4" height="27" fill="#5991fa"/>
<rect x="940.4" y="898.8" width="27.4" height="27" fill="#5e9efa"/>
<rect x="967.4" y="898.8" width="54.4" height="27" fill="#5484f9"/>
<rect x="1021.4" y="898.8" width="54.4" height="27" fill="#4e76f9"/>
<rect x="1075.4" y="898.8" width="27.4" height="27" fill="#5484f9"/>
<rect x="1102.4" y="898.8" width="27.4" height="27" fill="#5991fa"/>
<rect x="1129.4" y="898.8" width="27.4" height="27" fill="#73d2fa"/>
<rect x="1156.4" y="898.8" width="27" height="27" fill="#d6fa37"/>
<rect x="724.4" y="925.4" width="27.4" height="27" fill="#e49b26"/>
<rect x="751.4" y="925.4" width="27.4" height="27" fill="#8afbda"/>
<rect x="778.4" y="925.4" width="27.4" height="27" fill="#64acfa"/>
<rect x="805.4" y="925.4" width="27.4" height="27" fill="#5e9efa"/>
<rect x="832.4" y="925.4" width="81.4" height="27" fill="#64acfa"/>
<rect x="913.4" y="925.4" width="27.4" height="27" fill="#5e9efa"/>
<rect x="940.4" y="925.4" width="27.4" height="27" fill="#5991fa"/>
<rect x="967.4" y="925.4" width="81.4" height="27" fill="#5e9efa"/>
<rect x="1048.4" y="925.4" width="54.4" height="27" fill="#5991fa"/>
<rect x="1102.4" y="925.4" width="27.4" height="27" fill="#64acfa"/>
<rect x="1129.4" y="925.4" width="27.4" height="27" fill="#86f6f8"/>
<rect x="1156.4" y="925.4" width="27" height="27" fill="#d6fa37"/>
<rect x="724.4" y="952" width="27.4" height="27" fill="#5f0c10"/>
<rect x="751.4" y="952" width="27.4" height="27" fill="#cefa3e"/>
<rect x="778.4" y="952" width="27.4" height="27" fill="#80eaf9"/>
<rect x="805.4" y="952" width="27.4" height="27" fill="#6ec5fa"/>
<rect x="832.4" y="952" width="54.4" height="27" fill="#5991fa"/>
<rect x="886.4" y="952" width="27.4" height="27" fill="#5e9efa"/>
<rect x="913.4" y="952" width="27.4" height="27" fill="#64acfa"/>
<rect x="940.4" y="952" width="27.4" height="27" fill="#5e9efa"/>
<rect x="967.4" y="952" width="81.4" height="27" fill="#64acfa"/>
<rect x="1048.4" y="952" width="27.4" height="27" fill="#6ec5fa"/>
<rect x="1075.4" y="952" width="27.4" height="27" fill="#69b8fa"/>
<rect x="1102.4" y="952" width="27.4" height="27" fill="#87f8ee"/>
<rect x="1129.4" y="952" width="27.4" height="27" fill="#90fcb1"/>
<rect x="1156.4" y="952" width="27" height="27" fill="#5f0c10"/>
<rect x="724.4" y="978.6" width="27.4" height="26.6" fill="#160070"/>
<rect x="751.4" y="978.6" width="27.4" height="26.6" fill="#5f0c10"/>
<rect x="778.4" y="978.6" width="27.4" height="26.6" fill="#edf935"/>
<rect x="805.4" y="978.6" width="27.4" height="26.6" fill="#a9fb66"/>
<rect x="832.4" y="978.6" width="27.4" height="26.6" fill="#aefa5c"/>
<rect x="859.4" y="978.6" width="27.4" height="26.6" fill="#96fc95"/>
<rect x="886.4" y="978.6" width="108.4" height="26.6" fill="#c5fa45"/>
<rect x="994.4" y="978.6" width="27.4" height="26.6" fill="#cefa3e"/>
<rect x="1021.4" y="978.6" width="27.4" height="26.6" fill="#c5fa45"/>
<rect x="1048.4" y="978.6" width="27.4" height="26.6" fill="#e1f936"/>
<rect x="1075.4" y="978.6" width="27.4" height="26.6" fill="#c5fa45"/>
<rect x="1102.4" y="978.6" width="27.4" height="26.6" fill="#cefa3e"/>
<rect x="1129.4" y="978.6" width="27.4" height="26.6" fill="#5f0c10"/>
<rect x="1156.4" y="978.6" width="27" height="26.6" fill="#160070"/>
</g>
<rect x="724.5" y="554.7" width="458.8" height="450.4" fill="none" stroke="#111" stroke-width="1.3"/>
<line x1="777" x2="777" y1="1005.1" y2="1001.1" stroke="#111" stroke-width="1"/>
<line x1="777" x2="777" y1="554.7" y2="558.7" stroke="#111" stroke-width="1"/>
<line x1="864.7" x2="864.7" y1="1005.1" y2="1001.1" stroke="#111" stroke-width="1"/>
<line x1="864.7" x2="864.7" y1="554.7" y2="558.7" stroke="#111" stroke-width="1"/>
<line x1="952.5" x2="952.5" y1="1005.1" y2="1001.1" stroke="#111" stroke-width="1"/>
<line x1="952.5" x2="952.5" y1="554.7" y2="558.7" stroke="#111" stroke-width="1"/>
<line x1="1040.3" x2="1040.3" y1="1005.1" y2="1001.1" stroke="#111" stroke-width="1"/>
<line x1="1040.3" x2="1040.3" y1="554.7" y2="558.7" stroke="#111" stroke-width="1"/>
<line x1="1128.2" x2="1128.2" y1="1005.1" y2="1001.1" stroke="#111" stroke-width="1"/>
<line x1="1128.2" x2="1128.2" y1="554.7" y2="558.7" stroke="#111" stroke-width="1"/>
<line x1="724.5" x2="728.5" y1="607.5" y2="607.5" stroke="#111" stroke-width="1"/>
<line x1="1183.3" x2="1179.3" y1="607.5" y2="607.5" stroke="#111" stroke-width="1"/>
<line x1="724.5" x2="728.5" y1="694.3" y2="694.3" stroke="#111" stroke-width="1"/>
<line x1="1183.3" x2="1179.3" y1="694.3" y2="694.3" stroke="#111" stroke-width="1"/>
<line x1="724.5" x2="728.5" y1="781" y2="781" stroke="#111" stroke-width="1"/>
<line x1="1183.3" x2="1179.3" y1="781" y2="781" stroke="#111" stroke-width="1"/>
<line x1="724.5" x2="728.5" y1="867.5" y2="867.5" stroke="#111" stroke-width="1"/>
<line x1="1183.3" x2="1179.3" y1="867.5" y2="867.5" stroke="#111" stroke-width="1"/>
<line x1="724.5" x2="728.5" y1="954" y2="954" stroke="#111" stroke-width="1"/>
<line x1="1183.3" x2="1179.3" y1="954" y2="954" stroke="#111" stroke-width="1"/>
<text transform="translate(777,1023.8) scale(1.05,1)" font-family="DejaVu Sans, Liberation Sans, sans-serif" font-size="16" text-anchor="middle" fill="#1c1c1c" stroke="#1c1c1c" stroke-width="0.35">−20</text>
<text transform="translate(864.7,1023.8) scale(1.05,1)" font-family="DejaVu Sans, Liberation Sans, sans-serif" font-size="16" text-anchor="middle" fill="#1c1c1c" stroke="#1c1c1c" stroke-width="0.35">−10</text>
<text transform="translate(952.5,1023.8) scale(1.05,1)" font-family="DejaVu Sans, Liberation Sans, sans-serif" font-size="16" text-anchor="middle" fill="#1c1c1c" stroke="#1c1c1c" stroke-width="0.35">0</text>
<text transform="translate(1040.3,1023.8) scale(1.05,1)" font-family="DejaVu Sans, Liberation Sans, sans-serif" font-size="16" text-anchor="middle" fill="#1c1c1c" stroke="#1c1c1c" stroke-width="0.35">10</text>
<text transform="translate(1128.2,1023.8) scale(1.05,1)" font-family="DejaVu Sans, Liberation Sans, sans-serif" font-size="16" text-anchor="middle" fill="#1c1c1c" stroke="#1c1c1c" stroke-width="0.35">20</text>
<text transform="translate(718,611.74) scale(1.05,1)" font-family="DejaVu Sans, Liberation Sans, sans-serif" font-size="16" text-anchor="end" fill="#1c1c1c" stroke="#1c1c1c" stroke-width="0.35">20</text>
<text transform="translate(718,698.54) scale(1.05,1)" font-family="DejaVu Sans, Liberation Sans, sans-serif" font-size="16" text-anchor="end" fill="#1c1c1c" stroke="#1c1c1c" stroke-width="0.35">10</text>
<text transform="translate(718,785.24) scale(1.05,1)" font-family="DejaVu Sans, Liberation Sans, sans-serif" font-size="16" text-anchor="end" fill="#1c1c1c" stroke="#1c1c1c" stroke-width="0.35">0</text>
<text transform="translate(718,871.74) scale(1.05,1)" font-family="DejaVu Sans, Liberation Sans, sans-serif" font-size="16" text-anchor="end" fill="#1c1c1c" stroke="#1c1c1c" stroke-width="0.35">−10</text>
<text transform="translate(718,958.24) scale(1.05,1)" font-family="DejaVu Sans, Liberation Sans, sans-serif" font-size="16" text-anchor="end" fill="#1c1c1c" stroke="#1c1c1c" stroke-width="0.35">−20</text>
<rect x="1212.2" y="554.7" width="21.6" height="450.4" fill="url(#jet)" stroke="#2a1a1a" stroke-width="1.2"/>
<text x="1242" y="1011.28" font-family="Liberation Sans, Arial, sans-serif" font-size="16" text-anchor="start" fill="#262626" >0</text>
<line x1="1228.8" x2="1233.8" y1="960.44" y2="960.44" stroke="#222" stroke-width="1.1"/>
<text x="1242" y="966.12" font-family="Liberation Sans, Arial, sans-serif" font-size="16" text-anchor="start" fill="#262626" >0.4</text>
<line x1="1228.8" x2="1233.8" y1="915.28" y2="915.28" stroke="#222" stroke-width="1.1"/>
<text x="1242" y="920.96" font-family="Liberation Sans, Arial, sans-serif" font-size="16" text-anchor="start" fill="#262626" >0.8</text>
<line x1="1228.8" x2="1233.8" y1="870.12" y2="870.12" stroke="#222" stroke-width="1.1"/>
<text x="1242" y="875.8" font-family="Liberation Sans, Arial, sans-serif" font-size="16" text-anchor="start" fill="#262626" >1.2</text>
<line x1="1228.8" x2="1233.8" y1="824.96" y2="824.96" stroke="#222" stroke-width="1.1"/>
<text x="1242" y="830.64" font-family="Liberation Sans, Arial, sans-serif" font-size="16" text-anchor="start" fill="#262626" >1.6</text>
<line x1="1228.8" x2="1233.8" y1="779.8" y2="779.8" stroke="#222" stroke-width="1.1"/>
<text x="1242" y="785.48" font-family="Liberation Sans, Arial, sans-serif" font-size="16" text-anchor="start" fill="#262626" >2.0</text>
<line x1="1228.8" x2="1233.8" y1="734.64" y2="734.64" stroke="#222" stroke-width="1.1"/>
<text x="1242" y="740.32" font-family="Liberation Sans, Arial, sans-serif" font-size="16" text-anchor="start" fill="#262626" >2.4</text>
<line x1="1228.8" x2="1233.8" y1="689.48" y2="689.48" stroke="#222" stroke-width="1.1"/>
<text x="1242" y="695.16" font-family="Liberation Sans, Arial, sans-serif" font-size="16" text-anchor="start" fill="#262626" >2.8</text>
<line x1="1228.8" x2="1233.8" y1="644.32" y2="644.32" stroke="#222" stroke-width="1.1"/>
<text x="1242" y="650" font-family="Liberation Sans, Arial, sans-serif" font-size="16" text-anchor="start" fill="#262626" >3.2</text>
<line x1="1228.8" x2="1233.8" y1="599.16" y2="599.16" stroke="#222" stroke-width="1.1"/>
<text x="1242" y="604.84" font-family="Liberation Sans, Arial, sans-serif" font-size="16" text-anchor="start" fill="#262626" >3.6</text>
<text x="1242" y="559.68" font-family="Liberation Sans, Arial, sans-serif" font-size="16" text-anchor="start" fill="#262626" >4.0</text>
<g shape-rendering="crispEdges">
<rect x="71.9" y="1078.8" width="27.68" height="25.6" fill="#5f0c10"/>
<rect x="99.18" y="1078.8" width="27.78" height="25.6" fill="#a71418"/>
<rect x="126.56" y="1078.8" width="27.78" height="25.6" fill="#d55a1f"/>
<rect x="153.94" y="1078.8" width="27.78" height="25.6" fill="#eec92b"/>
<rect x="181.32" y="1078.8" width="27.78" height="25.6" fill="#c2fa47"/>
<rect x="208.7" y="1078.8" width="27.78" height="25.6" fill="#94fc9a"/>
<rect x="236.08" y="1078.8" width="55.16" height="25.6" fill="#8bfcd4"/>
<rect x="290.84" y="1078.8" width="27.78" height="25.6" fill="#74d4fa"/>
<rect x="318.22" y="1078.8" width="27.78" height="25.6" fill="#2c13f6"/>
<rect x="345.6" y="1078.8" width="27.78" height="25.6" fill="#2a09f6"/>
<rect x="372.98" y="1078.8" width="27.78" height="25.6" fill="#4a6cf9"/>
<rect x="400.36" y="1078.8" width="27.78" height="25.6" fill="#90fcb1"/>
<rect x="427.74" y="1078.8" width="27.78" height="25.6" fill="#c8fa42"/>
<rect x="455.12" y="1078.8" width="27.78" height="25.6" fill="#d4341e"/>
<rect x="482.5" y="1078.8" width="54.5" height="25.6" fill="#5f0c10"/>
<rect x="71.9" y="1104" width="27.68" height="27.25" fill="#d6fa37"/>
<rect x="99.18" y="1104" width="27.78" height="27.25" fill="#79def9"/>
<rect x="126.56" y="1104" width="27.78" height="27.25" fill="#4359f8"/>
<rect x="153.94" y="1104" width="27.78" height="27.25" fill="#2c13f6"/>
<rect x="181.32" y="1104" width="27.78" height="27.25" fill="#2200cd"/>
<rect x="208.7" y="1104" width="27.78" height="27.25" fill="#1f00b6"/>
<rect x="236.08" y="1104" width="27.78" height="27.25" fill="#2000c2"/>
<rect x="263.46" y="1104" width="27.78" height="27.25" fill="#1e00ab"/>
<rect x="290.84" y="1104" width="27.78" height="27.25" fill="#1f00b6"/>
<rect x="318.22" y="1104" width="55.16" height="27.25" fill="#2000c2"/>
<rect x="372.98" y="1104" width="27.78" height="27.25" fill="#2400d7"/>
<rect x="400.36" y="1104" width="27.78" height="27.25" fill="#2800f6"/>
<rect x="427.74" y="1104" width="27.78" height="27.25" fill="#3227f6"/>
<rect x="455.12" y="1104" width="27.78" height="27.25" fill="#578cf9"/>
<rect x="482.5" y="1104" width="27.78" height="27.25" fill="#b4fa52"/>
<rect x="509.88" y="1104" width="27.12" height="27.25" fill="#5f0c10"/>
<rect x="71.9" y="1130.85" width="27.68" height="27.25" fill="#d6fa37"/>
<rect x="99.18" y="1130.85" width="27.78" height="27.25" fill="#3c46f7"/>
<rect x="126.56" y="1130.85" width="27.78" height="27.25" fill="#2200cd"/>
<rect x="153.94" y="1130.85" width="27.78" height="27.25" fill="#1c00a0"/>
<rect x="181.32" y="1130.85" width="27.78" height="27.25" fill="#2000c2"/>
<rect x="208.7" y="1130.85" width="55.16" height="27.25" fill="#2600ec"/>
<rect x="263.46" y="1130.85" width="27.78" height="27.25" fill="#2400d7"/>
<rect x="290.84" y="1130.85" width="27.78" height="27.25" fill="#2200cd"/>
<rect x="318.22" y="1130.85" width="27.78" height="27.25" fill="#2600ec"/>
<rect x="345.6" y="1130.85" width="27.78" height="27.25" fill="#2a09f6"/>
<rect x="372.98" y="1130.85" width="55.16" height="27.25" fill="#2400d7"/>
<rect x="427.74" y="1130.85" width="27.78" height="27.25" fill="#1f00b6"/>
<rect x="455.12" y="1130.85" width="27.78" height="27.25" fill="#2600ec"/>
<rect x="482.5" y="1130.85" width="27.78" height="27.25" fill="#8cfcc8"/>
<rect x="509.88" y="1130.85" width="27.12" height="27.25" fill="#5f0c10"/>
<rect x="71.9" y="1157.7" width="27.68" height="27.25" fill="#74d4fa"/>
<rect x="99.18" y="1157.7" width="55.16" height="27.25" fill="#2800f6"/>
<rect x="153.94" y="1157.7" width="27.78" height="27.25" fill="#2000c2"/>
<rect x="181.32" y="1157.7" width="55.16" height="27.25" fill="#2200cd"/>
<rect x="236.08" y="1157.7" width="27.78" height="27.25" fill="#1e00ab"/>
<rect x="263.46" y="1157.7" width="27.78" height="27.25" fill="#2600ec"/>
<rect x="290.84" y="1157.7" width="27.78" height="27.25" fill="#2400d7"/>
<rect x="318.22" y="1157.7" width="55.16" height="27.25" fill="#2000c2"/>
<rect x="372.98" y="1157.7" width="109.92" height="27.25" fill="#2600ec"/>
<rect x="482.5" y="1157.7" width="27.78" height="27.25" fill="#4359f8"/>
<rect x="509.88" y="1157.7" width="27.12" height="27.25" fill="#5f0c10"/>
<rect x="71.9" y="1184.55" width="27.68" height="27.25" fill="#1c00a0"/>
<rect x="99.18" y="1184.55" width="27.78" height="27.25" fill="#2000c2"/>
<rect x="126.56" y="1184.55" width="82.54" height="27.25" fill="#2800f6"/>
<rect x="208.7" y="1184.55" width="27.78" height="27.25" fill="#2400d7"/>
<rect x="236.08" y="1184.55" width="55.16" height="27.25" fill="#2200cd"/>
<rect x="290.84" y="1184.55" width="27.78" height="27.25" fill="#1f00b6"/>
<rect x="318.22" y="1184.55" width="55.16" height="27.25" fill="#1e00ab"/>
<rect x="372.98" y="1184.55" width="27.78" height="27.25" fill="#2000c2"/>
<rect x="400.36" y="1184.55" width="109.92" height="27.25" fill="#2600ec"/>
<rect x="509.88" y="1184.55" width="27.12" height="27.25" fill="#e59f26"/>
<rect x="71.9" y="1211.4" width="27.68" height="27.25" fill="#2400d7"/>
<rect x="99.18" y="1211.4" width="27.78" height="27.25" fill="#1f00b6"/>
<rect x="126.56" y="1211.4" width="27.78" height="27.25" fill="#1b0096"/>
<rect x="153.94" y="1211.4" width="55.16" height="27.25" fill="#1e00ab"/>
<rect x="208.7" y="1211.4" width="55.16" height="27.25" fill="#2200cd"/>
<rect x="263.46" y="1211.4" width="27.78" height="27.25" fill="#2400d7"/>
<rect x="290.84" y="1211.4" width="27.78" height="27.25" fill="#2a09f6"/>
<rect x="318.22" y="1211.4" width="27.78" height="27.25" fill="#2600ec"/>
<rect x="345.6" y="1211.4" width="27.78" height="27.25" fill="#2000c2"/>
<rect x="372.98" y="1211.4" width="55.16" height="27.25" fill="#1f00b6"/>
<rect x="427.74" y="1211.4" width="55.16" height="27.25" fill="#2600ec"/>
<rect x="482.5" y="1211.4" width="27.78" height="27.25" fill="#2400d7"/>
<rect x="509.88" y="1211.4" width="27.12" height="27.25" fill="#e9b028"/>
<rect x="71.9" y="1238.25" width="55.06" height="27.25" fill="#2800f6"/>
<rect x="126.56" y="1238.25" width="27.78" height="27.25" fill="#2500e2"/>
<rect x="153.94" y="1238.25" width="27.78" height="27.25" fill="#2200cd"/>
<rect x="181.32" y="1238.25" width="27.78" height="27.25" fill="#1f00b6"/>
<rect x="208.7" y="1238.25" width="55.16" height="27.25" fill="#1e00ab"/>
<rect x="263.46" y="1238.25" width="27.78" height="27.25" fill="#1f00b6"/>
<rect x="290.84" y="1238.25" width="82.54" height="27.25" fill="#2000c2"/>
<rect x="372.98" y="1238.25" width="82.54" height="27.25" fill="#1e00ab"/>
<rect x="455.12" y="1238.25" width="55.16" height="27.25" fill="#2000c2"/>
<rect x="509.88" y="1238.25" width="27.12" height="27.25" fill="#f0d62d"/>
<rect x="71.9" y="1265.1" width="27.68" height="27.25" fill="#2200cd"/>
<rect x="99.18" y="1265.1" width="192.06" height="27.25" fill="#2800f6"/>
<rect x="290.84" y="1265.1" width="219.44" height="27.25" fill="#2600ec"/>
<rect x="509.88" y="1265.1" width="27.12" height="27.25" fill="#e9b028"/>
<rect x="71.9" y="1291.95" width="27.68" height="27.25" fill="#2400d7"/>
<rect x="99.18" y="1291.95" width="137.3" height="27.25" fill="#1e00ab"/>
<rect x="236.08" y="1291.95" width="27.78" height="27.25" fill="#2000c2"/>
<rect x="263.46" y="1291.95" width="27.78" height="27.25" fill="#2400d7"/>
<rect x="290.84" y="1291.95" width="55.16" height="27.25" fill="#1f00b6"/>
<rect x="345.6" y="1291.95" width="109.92" height="27.25" fill="#1e00ab"/>
<rect x="455.12" y="1291.95" width="27.78" height="27.25" fill="#1f00b6"/>
<rect x="482.5" y="1291.95" width="27.78" height="27.25" fill="#2500e2"/>
<rect x="509.88" y="1291.95" width="27.12" height="27.25" fill="#de8623"/>
<rect x="71.9" y="1318.8" width="27.68" height="27.25" fill="#2800f6"/>
<rect x="99.18" y="1318.8" width="27.78" height="27.25" fill="#2000c2"/>
<rect x="126.56" y="1318.8" width="82.54" height="27.25" fill="#2a09f6"/>
<rect x="208.7" y="1318.8" width="82.54" height="27.25" fill="#2800f6"/>
<rect x="290.84" y="1318.8" width="27.78" height="27.25" fill="#2a09f6"/>
<rect x="318.22" y="1318.8" width="27.78" height="27.25" fill="#2000c2"/>
<rect x="345.6" y="1318.8" width="27.78" height="27.25" fill="#2400d7"/>
<rect x="372.98" y="1318.8" width="27.78" height="27.25" fill="#2600ec"/>
<rect x="400.36" y="1318.8" width="27.78" height="27.25" fill="#2200cd"/>
<rect x="427.74" y="1318.8" width="27.78" height="27.25" fill="#2400d7"/>
<rect x="455.12" y="1318.8" width="27.78" height="27.25" fill="#2000c2"/>
<rect x="482.5" y="1318.8" width="27.78" height="27.25" fill="#2800f6"/>
<rect x="509.88" y="1318.8" width="27.12" height="27.25" fill="#d6fa37"/>
<rect x="71.9" y="1345.65" width="27.68" height="27.25" fill="#3531f6"/>
<rect x="99.18" y="1345.65" width="55.16" height="27.25" fill="#2000c2"/>
<rect x="153.94" y="1345.65" width="27.78" height="27.25" fill="#1f00b6"/>
<rect x="181.32" y="1345.65" width="27.78" height="27.25" fill="#2200cd"/>
<rect x="208.7" y="1345.65" width="55.16" height="27.25" fill="#2800f6"/>
<rect x="263.46" y="1345.65" width="27.78" height="27.25" fill="#2400d7"/>
<rect x="290.84" y="1345.65" width="27.78" height="27.25" fill="#1e00ab"/>
<rect x="318.22" y="1345.65" width="55.16" height="27.25" fill="#1f00b6"/>
<rect x="372.98" y="1345.65" width="82.54" height="27.25" fill="#2400d7"/>
<rect x="455.12" y="1345.65" width="27.78" height="27.25" fill="#2000c2"/>
<rect x="482.5" y="1345.65" width="27.78" height="27.25" fill="#2800f6"/>
<rect x="509.88" y="1345.65" width="27.12" height="27.25" fill="#e8f935"/>
<rect x="71.9" y="1372.5" width="27.68" height="27.25" fill="#3227f6"/>
<rect x="99.18" y="1372.5" width="27.78" height="27.25" fill="#2000c2"/>
<rect x="126.56" y="1372.5" width="27.78" height="27.25" fill="#1e00ab"/>
<rect x="153.94" y="1372.5" width="55.16" height="27.25" fill="#2600ec"/>
<rect x="208.7" y="1372.5" width="82.54" height="27.25" fill="#2400d7"/>
<rect x="290.84" y="1372.5" width="27.78" height="27.25" fill="#2500e2"/>
<rect x="318.22" y="1372.5" width="27.78" height="27.25" fill="#2a09f6"/>
<rect x="345.6" y="1372.5" width="27.78" height="27.25" fill="#2200cd"/>
<rect x="372.98" y="1372.5" width="82.54" height="27.25" fill="#2400d7"/>
<rect x="455.12" y="1372.5" width="55.16" height="27.25" fill="#2800f6"/>
<rect x="509.88" y="1372.5" width="27.12" height="27.25" fill="#ebbd2a"/>
<rect x="71.9" y="1399.35" width="27.68" height="27.25" fill="#87f7f4"/>
<rect x="99.18" y="1399.35" width="55.16" height="27.25" fill="#2200cd"/>
<rect x="153.94" y="1399.35" width="27.78" height="27.25" fill="#1c00a0"/>
<rect x="181.32" y="1399.35" width="27.78" height="27.25" fill="#1f00b6"/>
<rect x="208.7" y="1399.35" width="27.78" height="27.25" fill="#2200cd"/>
<rect x="236.08" y="1399.35" width="27.78" height="27.25" fill="#2000c2"/>
<rect x="263.46" y="1399.35" width="27.78" height="27.25" fill="#2600ec"/>
<rect x="290.84" y="1399.35" width="55.16" height="27.25" fill="#2800f6"/>
<rect x="345.6" y="1399.35" width="27.78" height="27.25" fill="#2000c2"/>
<rect x="372.98" y="1399.35" width="55.16" height="27.25" fill="#2400d7"/>
<rect x="427.74" y="1399.35" width="27.78" height="27.25" fill="#1f00b6"/>
<rect x="455.12" y="1399.35" width="27.78" height="27.25" fill="#2200cd"/>
<rect x="482.5" y="1399.35" width="27.78" height="27.25" fill="#2800f6"/>
<rect x="509.88" y="1399.35" width="27.12" height="27.25" fill="#da7421"/>
<rect x="71.9" y="1426.2" width="27.68" height="27.25" fill="#a7fb6a"/>
<rect x="99.18" y="1426.2" width="27.78" height="27.25" fill="#2800f6"/>
<rect x="126.56" y="1426.2" width="27.78" height="27.25" fill="#2400d7"/>
<rect x="153.94" y="1426.2" width="27.78" height="27.25" fill="#2000c2"/>
<rect x="181.32" y="1426.2" width="109.92" height="27.25" fill="#2600ec"/>
<rect x="290.84" y="1426.2" width="137.3" height="27.25" fill="#2800f6"/>
<rect x="427.74" y="1426.2" width="55.16" height="27.25" fill="#2600ec"/>
<rect x="482.5" y="1426.2" width="27.78" height="27.25" fill="#5b96fa"/>
<rect x="509.88" y="1426.2" width="27.12" height="27.25" fill="#9b1216"/>
<rect x="71.9" y="1453.05" width="27.68" height="27.25" fill="#e59f26"/>
<rect x="99.18" y="1453.05" width="27.78" height="27.25" fill="#3c46f7"/>
<rect x="126.56" y="1453.05" width="27.78" height="27.25" fill="#2a09f6"/>
<rect x="153.94" y="1453.05" width="27.78" height="27.25" fill="#2e1cf6"/>
<rect x="181.32" y="1453.05" width="27.78" height="27.25" fill="#2c13f6"/>
<rect x="208.7" y="1453.05" width="27.78" height="27.25" fill="#3227f6"/>
<rect x="236.08" y="1453.05" width="27.78" height="27.25" fill="#2c13f6"/>
<rect x="263.46" y="1453.05" width="82.54" height="27.25" fill="#2a09f6"/>
<rect x="345.6" y="1453.05" width="27.78" height="27.25" fill="#2e1cf6"/>
<rect x="372.98" y="1453.05" width="27.78" height="27.25" fill="#3c46f7"/>
<rect x="400.36" y="1453.05" width="55.16" height="27.25" fill="#578cf9"/>
<rect x="455.12" y="1453.05" width="27.78" height="27.25" fill="#60a1fa"/>
<rect x="482.5" y="1453.05" width="27.78" height="27.25" fill="#9efc7a"/>
<rect x="509.88" y="1453.05" width="27.12" height="27.25" fill="#5f0c10"/>
<rect x="71.9" y="1479.9" width="27.68" height="27.25" fill="#d6fa37"/>
<rect x="99.18" y="1479.9" width="27.78" height="27.25" fill="#7ee7f9"/>
<rect x="126.56" y="1479.9" width="27.78" height="27.25" fill="#90fcb1"/>
<rect x="153.94" y="1479.9" width="27.78" height="27.25" fill="#8cfcc8"/>
<rect x="181.32" y="1479.9" width="27.78" height="27.25" fill="#64acfa"/>
<rect x="208.7" y="1479.9" width="27.78" height="27.25" fill="#2e1cf6"/>
<rect x="236.08" y="1479.9" width="27.78" height="27.25" fill="#2800f6"/>
<rect x="263.46" y="1479.9" width="27.78" height="27.25" fill="#2600ec"/>
<rect x="290.84" y="1479.9" width="27.78" height="27.25" fill="#2800f6"/>
<rect x="318.22" y="1479.9" width="55.16" height="27.25" fill="#2200cd"/>
<rect x="372.98" y="1479.9" width="27.78" height="27.25" fill="#2800f6"/>
<rect x="400.36" y="1479.9" width="27.78" height="27.25" fill="#4a6cf9"/>
<rect x="427.74" y="1479.9" width="27.78" height="27.25" fill="#79def9"/>
<rect x="455.12" y="1479.9" width="27.78" height="27.25" fill="#c8fa42"/>
<rect x="482.5" y="1479.9" width="27.78" height="27.25" fill="#ebbd2a"/>
<rect x="509.88" y="1479.9" width="27.12" height="27.25" fill="#5f0c10"/>
<rect x="71.9" y="1506.75" width="82.44" height="26.45" fill="#5f0c10"/>
<rect x="153.94" y="1506.75" width="27.78" height="26.45" fill="#820f14"/>
<rect x="181.32" y="1506.75" width="27.78" height="26.45" fill="#d54b1f"/>
<rect x="208.7" y="1506.75" width="27.78" height="26.45" fill="#da7421"/>
<rect x="236.08" y="1506.75" width="55.16" height="26.45" fill="#e29725"/>
<rect x="290.84" y="1506.75" width="27.78" height="26.45" fill="#d96c21"/>
<rect x="318.22" y="1506.75" width="27.78" height="26.45" fill="#d3251e"/>
<rect x="345.6" y="1506.75" width="191.4" height="26.45" fill="#5f0c10"/>
</g>
<g stroke="#000" stroke-width="1.9" stroke-linejoin="miter" stroke-miterlimit="6">
<polygon points="86.8,1096.5 94.8,1108 94.2,1108.1 100,1112 98.3,1105.2 98.1,1105.8 90,1094.3" fill="#000"/>
<polygon points="113.3,1095.4 113.3,1103 112.8,1102.7 115.3,1109.2 117.8,1102.7 117.3,1103 117.3,1095.4" fill="#000"/>
<polygon points="140.2,1095.4 140.2,1103 139.7,1102.7 142.2,1109.2 144.7,1102.7 144.2,1103 144.2,1095.4" fill="#000"/>
<polygon points="167.1,1095.4 167.1,1102.1 166.6,1101.8 169.1,1108.3 171.6,1101.8 171.1,1102.1 171.1,1095.4" fill="#000"/>
<polygon points="194,1095.4 194,1102.1 193.5,1101.8 196,1108.3 198.5,1101.8 198,1102.1 198,1095.4" fill="#000"/>
<polygon points="220.9,1095.4 220.9,1101.2 220.4,1100.9 222.9,1107.4 225.4,1100.9 224.9,1101.2 224.9,1095.4" fill="#000"/>
<polygon points="247.8,1095.4 247.8,1100.2 247.3,1099.9 249.8,1106.4 252.3,1099.9 251.8,1100.2 251.8,1095.4" fill="#000"/>
<polygon points="274.7,1095.4 274.7,1100.2 274.2,1099.9 276.7,1106.4 279.2,1099.9 278.7,1100.2 278.7,1095.4" fill="#000"/>
<polygon points="301.6,1095.4 301.6,1099.3 301.1,1099 303.6,1105.5 306.1,1099 305.6,1099.3 305.6,1095.4" fill="#000"/>
<polygon points="328.5,1095.7 328.7,1096.5 328.1,1096.3 331.7,1102.3 333,1095.5 332.6,1095.8 332.5,1095.1" fill="none"/>
<polygon points="355.5,1095.9 355.7,1096.7 355.1,1096.5 359.2,1102.2 359.9,1095.2 359.5,1095.7 359.3,1094.9" fill="none"/>
<polygon points="382.4,1095.9 382.7,1097 382.1,1096.9 386.2,1102.5 386.9,1095.6 386.5,1096 386.2,1094.9" fill="none"/>
<polygon points="409.2,1095.7 409.8,1099.2 409.3,1098.9 412.9,1104.9 414.2,1098.1 413.8,1098.5 413.2,1095.1" fill="#000"/>
<polygon points="436.1,1095.3 435.9,1101.1 435.4,1100.8 437.7,1107.4 440.4,1100.9 439.9,1101.2 440.1,1095.5" fill="#000"/>
<polygon points="463,1095.1 462,1102.6 461.5,1102.3 463.1,1109.1 466.5,1103 465.9,1103.2 467,1095.7" fill="#000"/>
<polygon points="490.1,1094.5 485.7,1102.8 485.4,1102.3 484.6,1109.2 489.8,1104.6 489.2,1104.7 493.7,1096.3" fill="#000"/>
<polygon points="518.1,1093.5 492.8,1102.7 492.9,1102.2 487.7,1106.7 494.6,1106.9 494.2,1106.5 519.5,1097.3" fill="#000"/>
<polygon points="88.4,1123.6 93.2,1123.6 92.9,1124.1 99.4,1121.6 92.9,1119.1 93.2,1119.6 88.4,1119.6" fill="#000"/>
<polygon points="113.8,1122.9 116.3,1125.9 115.7,1126 121.8,1129.4 119.5,1122.8 119.4,1123.3 116.8,1120.3" fill="#000"/>
<polygon points="140.2,1121.9 140.6,1124 140,1123.8 143.6,1129.8 145,1122.9 144.5,1123.3 144.2,1121.3" fill="none"/>
<polygon points="167.1,1121.6 167.1,1122.8 166.6,1122.5 169.1,1129 171.6,1122.5 171.1,1122.8 171.1,1121.6" fill="none"/>
<polygon points="197.7,1120.5 196.4,1118.6 197,1118.6 191.4,1114.6 192.9,1121.4 193.1,1120.8 194.3,1122.7" fill="none"/>
<polygon points="224.9,1121.9 225.2,1120.1 225.6,1120.5 224.3,1113.7 220.7,1119.6 221.3,1119.4 220.9,1121.3" fill="none"/>
<polygon points="251.7,1122.3 252.3,1120.6 252.7,1121.1 252.6,1114.1 248,1119.3 248.5,1119.2 247.9,1120.9" fill="none"/>
<polygon points="278.7,1122 278.9,1120.7 279.4,1121.1 278.2,1114.2 274.5,1120.1 275,1119.9 274.7,1121.2" fill="none"/>
<polygon points="302.9,1119.7 301.5,1120.3 301.6,1119.7 296.4,1124.3 303.3,1124.4 302.9,1124 304.3,1123.5" fill="none"/>
<polygon points="329.3,1120 328.1,1121 328,1120.4 324.5,1126.4 331.1,1124.3 330.6,1124.1 331.7,1123.2" fill="none"/>
<polygon points="357.3,1119.6 355.1,1119.7 355.4,1119.2 349,1122.1 355.6,1124.2 355.3,1123.7 357.5,1123.6" fill="none"/>
<polygon points="386.3,1121.6 386.3,1119.6 386.8,1119.9 384.5,1113.3 381.8,1119.8 382.3,1119.5 382.3,1121.6" fill="none"/>
<polygon points="413.1,1122.3 413.8,1120.3 414.1,1120.8 413.9,1113.8 409.4,1119.1 410,1119 409.3,1120.9" fill="none"/>
<polygon points="436.1,1121.4 436,1122.6 435.5,1122.2 437.5,1128.9 440.5,1122.7 440,1122.9 440.1,1121.8" fill="none"/>
<polygon points="463.1,1121.1 462.4,1123.5 462,1123.1 462.7,1130 466.8,1124.4 466.3,1124.6 466.9,1122.1" fill="none"/>
<polygon points="491.2,1119.7 486.7,1121.4 486.8,1120.8 481.5,1125.4 488.5,1125.5 488,1125.1 492.6,1123.5" fill="#000"/>
<polygon points="518.7,1119.6 505.6,1120.1 505.9,1119.5 499.5,1122.3 506.1,1124.5 505.8,1124.1 518.9,1123.6" fill="#000"/>
<polygon points="88.4,1149.8 93.2,1149.8 92.9,1150.3 99.4,1147.8 92.9,1145.3 93.2,1145.8 88.4,1145.8" fill="#000"/>
<polygon points="115.3,1149.8 117.4,1149.8 117.1,1150.3 123.6,1147.8 117.1,1145.3 117.4,1145.8 115.3,1145.8" fill="none"/>
<polygon points="141.7,1145.9 140,1146.3 140.2,1145.7 134.5,1149.7 141.4,1150.6 140.9,1150.2 142.7,1149.7" fill="none"/>
<polygon points="167.3,1147 166.7,1148.4 166.3,1147.9 166.1,1154.9 170.9,1149.9 170.4,1150 170.9,1148.6" fill="none"/>
<polygon points="194.6,1149.2 196.1,1150.8 195.5,1150.9 201.9,1153.8 199.1,1147.4 199,1148 197.4,1146.4" fill="none"/>
<polygon points="224.3,1149.2 225.5,1148 225.6,1148.6 228.5,1142.3 222.1,1145.1 222.7,1145.2 221.5,1146.4" fill="none"/>
<polygon points="251.5,1148.9 252.4,1147.4 252.7,1148 254,1141.1 248.4,1145.3 249,1145.3 248.1,1146.7" fill="none"/>
<polygon points="278.6,1147.3 278.2,1145.6 278.8,1145.8 274.6,1140.2 273.9,1147.1 274.3,1146.7 274.8,1148.3" fill="none"/>
<polygon points="304.9,1146.3 303.8,1145.4 304.3,1145.2 297.7,1143 301.2,1149 301.3,1148.5 302.3,1149.3" fill="none"/>
<polygon points="328.7,1146.9 327.7,1149 327.4,1148.5 326.8,1155.5 331.9,1150.7 331.3,1150.7 332.3,1148.7" fill="none"/>
<polygon points="356.3,1149.4 357.7,1150.5 357.2,1150.7 364,1152.3 360,1146.6 360,1147.2 358.5,1146.2" fill="none"/>
<polygon points="385.5,1149.4 387.1,1148.1 387.2,1148.7 390.8,1142.8 384.2,1144.8 384.7,1145 383.1,1146.2" fill="none"/>
<polygon points="412.4,1149.4 413.9,1148.3 414,1148.9 417.8,1143.1 411.1,1144.8 411.6,1145.1 410,1146.2" fill="none"/>
<polygon points="440.1,1148.2 440.4,1146.3 440.9,1146.7 439.6,1139.8 435.9,1145.8 436.5,1145.5 436.1,1147.4" fill="none"/>
<polygon points="465.1,1145.8 463.7,1145.7 464,1145.2 457.3,1147.3 463.7,1150.2 463.4,1149.7 464.9,1149.8" fill="none"/>
<polygon points="491.9,1145.8 488.4,1145.8 488.7,1145.3 482.2,1147.8 488.7,1150.3 488.4,1149.8 491.9,1149.8" fill="#000"/>
<polygon points="518.8,1145.8 507.5,1145.8 507.8,1145.3 501.3,1147.8 507.8,1150.3 507.5,1149.8 518.8,1149.8" fill="#000"/>
<polygon points="89,1175.9 92.7,1174.7 92.6,1175.3 98,1170.9 91.1,1170.5 91.5,1170.9 87.8,1172.1" fill="#000"/>
<polygon points="115.4,1172 113.2,1171.9 113.5,1171.4 106.9,1173.5 113.2,1176.4 113,1175.9 115.2,1176" fill="none"/>
<polygon points="142,1172 140.1,1172.2 140.4,1171.6 134.1,1174.7 140.8,1176.6 140.5,1176.1 142.4,1176" fill="none"/>
<polygon points="168.1,1172.2 166.9,1172.9 166.9,1172.3 162.4,1177.6 169.3,1176.7 168.8,1176.4 170.1,1175.8" fill="none"/>
<polygon points="195.3,1175.9 197.3,1176.6 196.9,1177 203.8,1176.8 198.5,1172.2 198.7,1172.8 196.7,1172.1" fill="none"/>
<polygon points="223.9,1175.7 225.3,1174.9 225.3,1175.5 229.7,1170.1 222.9,1171.1 223.4,1171.4 221.9,1172.3" fill="none"/>
<polygon points="250.8,1175.7 252.5,1174.7 252.5,1175.3 256.8,1169.8 249.9,1171 250.5,1171.3 248.8,1172.3" fill="none"/>
<polygon points="278.3,1175.2 279.6,1173.3 279.9,1173.9 281.6,1167.1 275.8,1171 276.4,1171 275.1,1172.8" fill="none"/>
<polygon points="304.9,1175.6 306.6,1174.1 306.7,1174.7 310.2,1168.6 303.6,1170.8 304.1,1171 302.3,1172.4" fill="none"/>
<polygon points="331.4,1175.8 333.1,1175 333,1175.6 337.8,1170.5 330.9,1171.1 331.3,1171.4 329.6,1172.2" fill="none"/>
<polygon points="358.2,1175.8 359.9,1175.1 359.8,1175.7 364.7,1170.7 357.7,1171.1 358.2,1171.4 356.6,1172.2" fill="none"/>
<polygon points="384.3,1176 385.8,1176 385.5,1176.5 392,1174.1 385.6,1171.5 385.9,1172 384.3,1172" fill="none"/>
<polygon points="412.2,1175.7 413.4,1175 413.4,1175.6 417.9,1170.3 411,1171.3 411.5,1171.5 410.2,1172.3" fill="none"/>
<polygon points="438.5,1172 436.5,1171.6 436.9,1171.2 430,1172.2 435.8,1176.1 435.6,1175.5 437.7,1176" fill="none"/>
<polygon points="464.1,1172.2 462.5,1173 462.6,1172.4 457.8,1177.5 464.8,1176.9 464.3,1176.6 465.9,1175.8" fill="none"/>
<polygon points="492.9,1172.3 491.9,1171.7 492.4,1171.4 485.5,1170.3 489.9,1175.7 489.9,1175.2 490.9,1175.7" fill="none"/>
<polygon points="518.8,1172 509.4,1172 509.7,1171.5 503.2,1174 509.7,1176.5 509.4,1176 518.8,1176" fill="#000"/>
<polygon points="86.5,1199.5 86.1,1200.8 85.7,1200.3 85.8,1207.3 90.4,1202 89.8,1202.1 90.3,1200.9" fill="none"/>
<polygon points="114.5,1198.4 113,1199 113.1,1198.4 108.2,1203.3 115.1,1203 114.6,1202.7 116.1,1202" fill="none"/>
<polygon points="142.1,1198.2 140.6,1198.3 140.9,1197.8 134.5,1200.6 141.2,1202.8 140.8,1202.3 142.3,1202.2" fill="none"/>
<polygon points="170.5,1201.7 171.7,1200.5 171.8,1201.1 174.8,1194.9 168.4,1197.5 168.9,1197.6 167.7,1198.7" fill="none"/>
<polygon points="197.7,1201.2 198.9,1199.2 199.1,1199.7 200.1,1192.8 194.8,1197.3 195.4,1197.2 194.3,1199.2" fill="none"/>
<polygon points="224,1201.9 225.5,1200.9 225.5,1201.5 229.6,1195.8 222.8,1197.3 223.3,1197.6 221.8,1198.5" fill="none"/>
<polygon points="248.9,1202 250.9,1203 250.4,1203.3 257.3,1204 252.7,1198.9 252.7,1199.4 250.7,1198.4" fill="none"/>
<polygon points="275,1201.2 276,1203 275.4,1202.9 280.8,1207.3 279.7,1200.5 279.4,1201 278.4,1199.2" fill="none"/>
<polygon points="301.8,1201.1 302.5,1202.4 301.9,1202.4 307,1207.1 306.4,1200.2 306.1,1200.7 305.4,1199.3" fill="none"/>
<polygon points="332.2,1201.3 333.3,1199.5 333.6,1200 334.9,1193.1 329.3,1197.4 329.9,1197.4 328.8,1199.1" fill="none"/>
<polygon points="359,1201.3 360.1,1199.8 360.4,1200.3 362,1193.5 356.3,1197.5 356.8,1197.5 355.8,1199.1" fill="none"/>
<polygon points="384.8,1202.1 386.6,1201.7 386.4,1202.3 392.2,1198.3 385.3,1197.4 385.7,1197.8 383.8,1198.3" fill="none"/>
<polygon points="410.3,1202 411.8,1202.7 411.3,1203 418.2,1203.6 413.5,1198.5 413.5,1199.1 412.1,1198.4" fill="none"/>
<polygon points="436.3,1199.3 435.6,1200.7 435.3,1200.3 434.7,1207.2 439.8,1202.4 439.2,1202.5 439.9,1201.1" fill="none"/>
<polygon points="463.5,1198.9 462.6,1199.9 462.4,1199.4 460.2,1205.9 466.3,1202.6 465.7,1202.5 466.5,1201.5" fill="none"/>
<polygon points="492,1198.2 489.7,1198.1 490.1,1197.6 483.5,1199.8 489.8,1202.6 489.6,1202.1 491.8,1202.2" fill="none"/>
<polygon points="518.9,1198.2 512.2,1198 512.5,1197.5 505.9,1199.8 512.3,1202.5 512.1,1202 518.7,1202.2" fill="#000"/>
<polygon points="87.6,1224.6 85.9,1225.3 86,1224.7 81,1229.6 87.9,1229.3 87.4,1229 89.2,1228.2" fill="none"/>
<polygon points="113.6,1225.4 112.5,1227.2 112.2,1226.7 111.1,1233.6 116.5,1229.3 115.9,1229.3 117,1227.4" fill="none"/>
<polygon points="140.7,1225 139.7,1226.2 139.5,1225.6 136.9,1232.1 143.2,1229 142.6,1228.9 143.7,1227.8" fill="none"/>
<polygon points="170.7,1227.6 172,1225.7 172.3,1226.3 174,1219.5 168.2,1223.4 168.8,1223.4 167.5,1225.2" fill="none"/>
<polygon points="197.9,1226.9 198.3,1225.5 198.7,1225.9 197.8,1219 193.8,1224.7 194.4,1224.5 194.1,1225.9" fill="none"/>
<polygon points="223.7,1228.2 225,1227.6 224.9,1228.2 229.8,1223.2 222.8,1223.7 223.3,1224 222.1,1224.6" fill="none"/>
<polygon points="249.2,1228.3 250.8,1228.9 250.4,1229.2 257.3,1229 252,1224.5 252.1,1225.1 250.4,1224.5" fill="none"/>
<polygon points="275.2,1225.1 273.8,1226.7 273.6,1226.2 271.2,1232.7 277.3,1229.5 276.8,1229.3 278.2,1227.7" fill="none"/>
<polygon points="301.7,1225.6 301.2,1227 300.9,1226.5 300.7,1233.5 305.5,1228.4 304.9,1228.5 305.5,1227.2" fill="none"/>
<polygon points="332.3,1227.3 333,1225.9 333.3,1226.4 334.1,1219.5 328.9,1224.1 329.5,1224 328.7,1225.5" fill="none"/>
<polygon points="359.1,1227.5 359.9,1226.2 360.2,1226.7 361.5,1219.9 355.9,1224 356.5,1224 355.7,1225.3" fill="none"/>
<polygon points="385.6,1228 386.7,1227 386.8,1227.6 390.3,1221.6 383.6,1223.7 384.2,1223.9 383,1224.8" fill="none"/>
<polygon points="410.1,1224.7 408.4,1225.8 408.4,1225.3 404.4,1230.9 411.2,1229.4 410.6,1229.2 412.3,1228.1" fill="none"/>
<polygon points="436.5,1225.2 435.7,1226.3 435.5,1225.7 433.5,1232.4 439.5,1228.7 438.9,1228.7 439.7,1227.6" fill="none"/>
<polygon points="463.3,1225.3 462.1,1227.1 461.9,1226.6 460.5,1233.4 466.1,1229.3 465.5,1229.3 466.7,1227.5" fill="none"/>
<polygon points="491.2,1224.5 489.2,1225.3 489.3,1224.7 484.2,1229.5 491.2,1229.4 490.7,1229 492.6,1228.3" fill="none"/>
<polygon points="518.8,1224.4 512.1,1224.4 512.4,1223.9 505.9,1226.4 512.4,1228.9 512.1,1228.4 518.8,1228.4" fill="#000"/>
<polygon points="87.6,1250.7 86,1251.4 86.1,1250.8 81,1255.6 88,1255.5 87.5,1255.1 89.2,1254.5" fill="none"/>
<polygon points="114.2,1250.9 112.5,1252.1 112.4,1251.5 108.5,1257.3 115.3,1255.7 114.7,1255.4 116.4,1254.3" fill="none"/>
<polygon points="140.5,1251.6 139.4,1253.3 139.2,1252.8 137.9,1259.6 143.4,1255.4 142.9,1255.4 143.9,1253.6" fill="none"/>
<polygon points="170.1,1254.3 171.8,1253.3 171.8,1253.9 176.2,1248.5 169.3,1249.6 169.8,1249.9 168.1,1250.9" fill="none"/>
<polygon points="197.5,1253.9 198.4,1253 198.6,1253.5 201.1,1247 194.9,1250.1 195.4,1250.3 194.5,1251.3" fill="none"/>
<polygon points="224.7,1253.5 225.4,1252 225.7,1252.5 226.2,1245.5 221.2,1250.4 221.8,1250.3 221.1,1251.7" fill="none"/>
<polygon points="251.2,1251.2 250,1250.1 250.6,1249.9 244.2,1247.2 247.1,1253.5 247.3,1252.9 248.4,1254" fill="none"/>
<polygon points="276.5,1250.6 274.6,1250.8 274.9,1250.3 268.7,1253.5 275.5,1255.3 275.1,1254.8 276.9,1254.6" fill="none"/>
<polygon points="302.7,1250.8 301.4,1251.5 301.5,1250.9 296.9,1256.1 303.8,1255.3 303.3,1255 304.5,1254.4" fill="none"/>
<polygon points="332.5,1252.5 332.4,1250.7 332.9,1251 330.2,1244.6 327.9,1251.2 328.4,1250.9 328.5,1252.7" fill="none"/>
<polygon points="359.4,1252.6 359.4,1250.3 359.9,1250.6 357.4,1244.1 354.9,1250.6 355.4,1250.3 355.4,1252.6" fill="none"/>
<polygon points="386.3,1253 386.6,1251 387.1,1251.4 385.8,1244.5 382.1,1250.5 382.7,1250.3 382.3,1252.2" fill="none"/>
<polygon points="412.2,1250.9 410.6,1249.9 411.2,1249.7 404.3,1248.4 408.6,1253.9 408.6,1253.3 410.2,1254.3" fill="none"/>
<polygon points="438.2,1250.6 436,1250.5 436.4,1250 429.8,1252.3 436.2,1255 435.9,1254.5 438,1254.6" fill="none"/>
<polygon points="463.2,1251.8 462.5,1253.3 462.2,1252.8 461.7,1259.7 466.7,1254.9 466.1,1254.9 466.8,1253.4" fill="none"/>
<polygon points="490.9,1250.9 488.9,1252 488.9,1251.4 484.5,1256.8 491.4,1255.8 490.9,1255.5 492.9,1254.3" fill="none"/>
<polygon points="518.8,1250.6 512.1,1250.6 512.4,1250.1 505.9,1252.6 512.4,1255.1 512.1,1254.6 518.8,1254.6" fill="#000"/>
<polygon points="87,1277.4 86,1278.3 85.9,1277.7 82.9,1284 89.4,1281.4 88.8,1281.2 89.8,1280.2" fill="none"/>
<polygon points="114,1277.3 112.4,1278.7 112.3,1278.1 109,1284.2 115.5,1281.9 115,1281.7 116.6,1280.3" fill="none"/>
<polygon points="140.8,1280.3 142.1,1281.5 141.5,1281.6 148,1284.3 145,1278 144.8,1278.6 143.6,1277.3" fill="none"/>
<polygon points="170.1,1280.5 171.2,1279.9 171.2,1280.5 175.6,1275.1 168.7,1276.1 169.3,1276.4 168.1,1277.1" fill="none"/>
<polygon points="197.8,1279.7 198.6,1278.2 198.9,1278.7 199.7,1271.8 194.5,1276.4 195,1276.3 194.2,1277.9" fill="none"/>
<polygon points="224.9,1278.7 224.8,1277 225.3,1277.3 222.5,1270.9 220.3,1277.5 220.8,1277.2 220.9,1278.9" fill="none"/>
<polygon points="251.4,1277.6 250.5,1276.4 251.1,1276.3 245.3,1272.5 247.1,1279.3 247.3,1278.7 248.2,1280" fill="none"/>
<polygon points="278.4,1277.8 277.5,1276.3 278.1,1276.3 272.6,1272 273.8,1278.9 274.1,1278.4 275,1279.8" fill="none"/>
<polygon points="305.3,1277.8 304.4,1276.1 305,1276.1 299.6,1271.6 300.6,1278.5 300.9,1278 301.9,1279.8" fill="none"/>
<polygon points="332.3,1278 331.5,1276.1 332,1276.2 327,1271.3 327.5,1278.3 327.8,1277.8 328.7,1279.6" fill="none"/>
<polygon points="359.4,1278.8 359.4,1277.3 359.9,1277.6 357.5,1271.1 354.9,1277.5 355.4,1277.2 355.4,1278.8" fill="none"/>
<polygon points="386.2,1278.2 385.6,1276.5 386.2,1276.6 381.7,1271.2 381.5,1278.2 381.8,1277.7 382.4,1279.4" fill="none"/>
<polygon points="412.1,1277 410,1276 410.5,1275.7 403.6,1275.2 408.4,1280.2 408.3,1279.6 410.3,1280.6" fill="none"/>
<polygon points="439.3,1277.2 437.8,1276.1 438.3,1275.9 431.6,1274.2 435.4,1280 435.5,1279.4 436.9,1280.4" fill="none"/>
<polygon points="465.1,1276.8 463.1,1276.7 463.4,1276.2 456.8,1278.5 463.2,1281.2 462.9,1280.7 464.9,1280.8" fill="none"/>
<polygon points="493.5,1277.6 492.2,1275.9 492.8,1275.9 486.8,1272.3 488.8,1278.9 489,1278.4 490.3,1280" fill="none"/>
<polygon points="518.9,1276.8 512.2,1276.6 512.5,1276.1 505.9,1278.4 512.3,1281.1 512.1,1280.6 518.7,1280.8" fill="#000"/>
<polygon points="86.4,1304.6 86.1,1306.7 85.6,1306.3 86.9,1313.1 90.5,1307.2 90,1307.4 90.4,1305.4" fill="none"/>
<polygon points="113.3,1304.6 112.9,1306.7 112.5,1306.3 113.6,1313.2 117.4,1307.3 116.8,1307.5 117.3,1305.4" fill="none"/>
<polygon points="143.6,1306.4 145,1305 145.2,1305.6 148,1299.2 141.6,1302 142.2,1302.2 140.8,1303.6" fill="none"/>
<polygon points="169.7,1306.9 171.8,1306.3 171.6,1306.9 177.2,1302.6 170.2,1302.1 170.7,1302.5 168.5,1303.1" fill="none"/>
<polygon points="197,1306.8 198.6,1305.9 198.6,1306.4 203.1,1301.1 196.2,1302 196.7,1302.3 195,1303.2" fill="none"/>
<polygon points="222.8,1303 220.5,1303.2 220.8,1302.6 214.5,1305.6 221.1,1307.6 220.8,1307.2 223,1307" fill="none"/>
<polygon points="249.6,1303 248.3,1303.2 248.5,1302.6 242.3,1305.8 249.1,1307.6 248.7,1307.1 250,1307" fill="none"/>
<polygon points="278.4,1304 277.6,1302.6 278.1,1302.6 272.6,1298.3 273.9,1305.2 274.2,1304.7 275,1306" fill="none"/>
<polygon points="305.6,1304.8 305.5,1303.4 306,1303.7 303,1297.4 301,1304.1 301.5,1303.7 301.6,1305.2" fill="none"/>
<polygon points="332.5,1305.1 332.6,1303.8 333.1,1304.1 331,1297.4 328.1,1303.8 328.6,1303.5 328.5,1304.9" fill="none"/>
<polygon points="359.4,1305.3 359.7,1303.1 360.2,1303.5 358.7,1296.7 355.2,1302.7 355.8,1302.5 355.4,1304.7" fill="none"/>
<polygon points="384.7,1303 383,1302.7 383.4,1302.3 376.5,1303.4 382.4,1307.1 382.2,1306.6 383.9,1307" fill="none"/>
<polygon points="412.3,1303.3 410.4,1302.1 410.9,1301.8 404.1,1300.4 408.2,1306 408.2,1305.5 410.1,1306.7" fill="none"/>
<polygon points="438.7,1303.1 437.3,1302.6 437.7,1302.2 430.8,1302.6 436.2,1307 436,1306.4 437.5,1306.9" fill="none"/>
<polygon points="467,1304.8 466.8,1302.9 467.3,1303.1 464.1,1296.9 462.3,1303.6 462.8,1303.3 463,1305.2" fill="none"/>
<polygon points="493.8,1305.5 494.3,1304 494.6,1304.5 494,1297.5 489.8,1303.1 490.4,1303 490,1304.5" fill="none"/>
<polygon points="518.8,1303 512.1,1303 512.4,1302.5 505.9,1305 512.4,1307.5 512.1,1307 518.8,1307" fill="#000"/>
<polygon points="88.6,1333.2 89.4,1333.1 89.1,1333.6 95.4,1330.6 88.7,1328.7 89,1329.1 88.2,1329.2" fill="none"/>
<polygon points="113.4,1330.8 113,1332.3 112.6,1331.9 113.5,1338.8 117.4,1333 116.9,1333.2 117.2,1331.6" fill="none"/>
<polygon points="143.6,1332.6 145.1,1331.1 145.3,1331.7 148.1,1325.3 141.7,1328.1 142.3,1328.3 140.8,1329.8" fill="none"/>
<polygon points="170.3,1332.8 171.9,1331.7 171.9,1332.3 175.8,1326.5 169,1328.2 169.6,1328.4 167.9,1329.6" fill="none"/>
<polygon points="197.3,1332.7 198.7,1331.5 198.8,1332.1 202.2,1326 195.6,1328.3 196.2,1328.4 194.7,1329.7" fill="none"/>
<polygon points="221.9,1329.5 220.4,1330.3 220.5,1329.7 216.1,1335.1 222.9,1334.1 222.4,1333.8 223.9,1332.9" fill="none"/>
<polygon points="248.2,1330 247.1,1331.4 246.9,1330.8 244.9,1337.5 250.9,1333.9 250.3,1333.8 251.4,1332.4" fill="none"/>
<polygon points="278.4,1330.2 277.5,1328.5 278.1,1328.6 272.7,1324.1 273.7,1331 274,1330.5 275,1332.2" fill="none"/>
<polygon points="305.4,1332.1 306.1,1330.8 306.4,1331.3 307.2,1324.4 301.9,1329 302.5,1329 301.8,1330.3" fill="none"/>
<polygon points="332.2,1332.2 333,1330.9 333.3,1331.4 334.5,1324.6 329,1328.8 329.6,1328.8 328.8,1330.2" fill="none"/>
<polygon points="358.9,1332.6 360.4,1330.9 360.6,1331.5 363.1,1325 356.9,1328.1 357.5,1328.2 355.9,1329.8" fill="none"/>
<polygon points="383.7,1329.3 381.7,1329.9 381.8,1329.4 376.4,1333.7 383.3,1334.1 382.9,1333.7 384.9,1333.1" fill="none"/>
<polygon points="409.4,1330.4 408.6,1332.3 408.2,1331.8 408,1338.7 412.8,1333.8 412.2,1333.8 413,1332" fill="none"/>
<polygon points="439.3,1329.6 437.9,1328.5 438.4,1328.3 431.7,1326.4 435.4,1332.3 435.5,1331.7 436.9,1332.8" fill="none"/>
<polygon points="466.3,1332.7 467.8,1331.4 467.9,1332 471,1325.8 464.5,1328.3 465.1,1328.4 463.7,1329.7" fill="none"/>
<polygon points="493.8,1331.9 494.3,1330.5 494.7,1330.9 494.6,1323.9 490,1329.2 490.6,1329.1 490,1330.5" fill="none"/>
<polygon points="518.8,1329.2 512.1,1329.2 512.4,1328.7 505.9,1331.2 512.4,1333.7 512.1,1333.2 518.8,1333.2" fill="#000"/>
<polygon points="88.6,1359.4 89.4,1359.3 89.1,1359.8 95.4,1356.8 88.7,1354.9 89,1355.3 88.2,1355.4" fill="none"/>
<polygon points="114.9,1355.4 113.1,1355.8 113.3,1355.3 107.4,1359 114.3,1360.2 113.9,1359.7 115.7,1359.4" fill="none"/>
<polygon points="143.6,1358.8 144.8,1357.6 144.9,1358.2 147.6,1351.8 141.3,1354.7 141.9,1354.9 140.8,1356" fill="none"/>
<polygon points="171,1358.1 171.8,1356.1 172.1,1356.6 172.2,1349.6 167.5,1354.7 168.1,1354.6 167.2,1356.7" fill="none"/>
<polygon points="198,1357.2 197.9,1355.8 198.4,1356 195.3,1349.8 193.4,1356.5 193.9,1356.1 194,1357.6" fill="none"/>
<polygon points="221.3,1356.2 220,1357.9 219.8,1357.4 217.9,1364.1 223.8,1360.4 223.2,1360.3 224.5,1358.6" fill="none"/>
<polygon points="248.1,1356.3 247.4,1357.4 247.1,1356.9 245.5,1363.6 251.3,1359.7 250.7,1359.6 251.5,1358.5" fill="none"/>
<polygon points="276.2,1359.3 277.9,1359.7 277.5,1360.2 284.4,1359.3 278.7,1355.3 278.8,1355.9 277.2,1355.5" fill="none"/>
<polygon points="305.1,1358.7 306.1,1357.6 306.3,1358.1 308.6,1351.6 302.5,1354.8 303.1,1354.9 302.1,1356.1" fill="none"/>
<polygon points="332.3,1358.2 333.2,1356.2 333.5,1356.7 333.8,1349.7 328.9,1354.7 329.5,1354.6 328.7,1356.6" fill="none"/>
<polygon points="359.3,1358.1 360,1356 360.4,1356.4 360.2,1349.5 355.7,1354.8 356.2,1354.7 355.5,1356.7" fill="none"/>
<polygon points="382.6,1356.4 381.6,1358.1 381.3,1357.6 380.4,1364.5 385.7,1360 385.1,1360 386,1358.4" fill="none"/>
<polygon points="409.5,1356.3 408.3,1358.1 408.1,1357.6 406.5,1364.3 412.2,1360.4 411.6,1360.3 412.9,1358.5" fill="none"/>
<polygon points="436.6,1358.7 438,1360.3 437.4,1360.4 443.6,1363.6 441.1,1357 441,1357.6 439.6,1356.1" fill="none"/>
<polygon points="465.4,1359.4 466.7,1359.1 466.5,1359.6 472.4,1355.9 465.5,1354.7 465.9,1355.2 464.6,1355.4" fill="none"/>
<polygon points="493.7,1358.2 494.5,1356.5 494.8,1357 495.2,1350 490.3,1354.9 490.9,1354.8 490.1,1356.6" fill="none"/>
<polygon points="518.8,1355.4 512.1,1355.4 512.4,1354.9 505.9,1357.4 512.4,1359.9 512.1,1359.4 518.8,1359.4" fill="#000"/>
<polygon points="88.6,1385.6 89.4,1385.5 89.1,1386 95.4,1383 88.7,1381.1 89,1381.5 88.2,1381.6" fill="none"/>
<polygon points="114.5,1381.8 112.9,1382.4 113,1381.9 108,1386.7 114.9,1386.5 114.4,1386.1 116.1,1385.4" fill="none"/>
<polygon points="144.2,1383.6 144.2,1382 144.7,1382.3 142.2,1375.8 139.7,1382.3 140.2,1382 140.2,1383.6" fill="none"/>
<polygon points="171,1384.3 171.6,1382.8 171.9,1383.2 171.9,1376.3 167.2,1381.4 167.8,1381.3 167.2,1382.9" fill="none"/>
<polygon points="197.9,1383.1 197.4,1381.2 198,1381.4 193.9,1375.7 193.2,1382.7 193.6,1382.2 194.1,1384.1" fill="none"/>
<polygon points="222.5,1381.6 221.2,1381.9 221.4,1381.3 215.5,1385 222.3,1386.3 221.9,1385.8 223.3,1385.6" fill="none"/>
<polygon points="249.1,1381.7 247.4,1382.4 247.5,1381.8 242.4,1386.6 249.3,1386.5 248.9,1386.1 250.5,1385.5" fill="none"/>
<polygon points="277.3,1385.5 278.7,1385 278.6,1385.6 284,1381.3 277.1,1380.9 277.5,1381.2 276.1,1381.7" fill="none"/>
<polygon points="304,1385.6 305.4,1385.3 305.2,1385.8 311,1382 304.1,1380.9 304.5,1381.4 303.2,1381.6" fill="none"/>
<polygon points="330.8,1385.6 332.6,1385.3 332.4,1385.8 338.4,1382.3 331.6,1380.9 331.9,1381.3 330.2,1381.6" fill="none"/>
<polygon points="359,1384.8 360.2,1383.3 360.4,1383.8 362.3,1377.1 356.4,1380.8 357,1380.8 355.8,1382.4" fill="none"/>
<polygon points="382.5,1384.5 383.2,1385.8 382.6,1385.7 387.7,1390.4 387,1383.5 386.7,1383.9 386.1,1382.7" fill="none"/>
<polygon points="409.6,1384.8 410.6,1386.3 410,1386.3 415.8,1390.2 414.1,1383.4 413.9,1383.9 412.8,1382.4" fill="none"/>
<polygon points="436.8,1385.1 438.3,1386.4 437.7,1386.6 444.2,1389 441,1382.9 440.9,1383.4 439.4,1382.1" fill="none"/>
<polygon points="465.4,1385.6 467.2,1385.2 467,1385.7 472.8,1381.9 466,1380.8 466.4,1381.3 464.6,1381.6" fill="none"/>
<polygon points="491.9,1385.6 494,1385.6 493.7,1386.1 500.2,1383.6 493.7,1381.1 494,1381.6 491.9,1381.6" fill="none"/>
<polygon points="518.7,1381.6 512.1,1381.8 512.3,1381.3 505.9,1384 512.5,1386.3 512.2,1385.8 518.9,1385.6" fill="#000"/>
<polygon points="88.4,1411.8 93.2,1411.8 92.9,1412.3 99.4,1409.8 92.9,1407.3 93.2,1407.8 88.4,1407.8" fill="#000"/>
<polygon points="117.3,1410 117.4,1408.7 117.9,1409 116.1,1402.3 112.9,1408.5 113.5,1408.2 113.3,1409.6" fill="none"/>
<polygon points="143.7,1411.1 144.9,1409.7 145.1,1410.2 147.3,1403.6 141.2,1407 141.8,1407.1 140.7,1408.5" fill="none"/>
<polygon points="171,1409.1 170.4,1407.7 171,1407.8 166.2,1402.7 166.3,1409.6 166.7,1409.2 167.2,1410.5" fill="none"/>
<polygon points="196.6,1407.9 194.8,1407.4 195.3,1407 188.3,1407.6 193.9,1411.8 193.7,1411.2 195.4,1411.7" fill="none"/>
<polygon points="224.7,1409 223.8,1407 224.4,1407.1 219.4,1402.2 219.9,1409.2 220.2,1408.7 221.1,1410.6" fill="none"/>
<polygon points="251.8,1409.6 251.5,1407.4 252.1,1407.6 248.9,1401.4 247.1,1408.2 247.6,1407.8 247.8,1410" fill="none"/>
<polygon points="278.3,1411 279.2,1409.7 279.4,1410.2 281.1,1403.5 275.4,1407.4 275.9,1407.4 275.1,1408.6" fill="none"/>
<polygon points="305.1,1411.2 306.6,1409.6 306.7,1410.1 309.3,1403.7 303.1,1406.7 303.6,1406.8 302.1,1408.4" fill="none"/>
<polygon points="331.5,1411.6 333.4,1410.5 333.4,1411.1 337.9,1405.8 331,1406.7 331.5,1407 329.5,1408" fill="none"/>
<polygon points="359.4,1409.6 359.2,1407.9 359.7,1408.1 356.5,1402 354.8,1408.7 355.2,1408.4 355.4,1410" fill="none"/>
<polygon points="384.9,1407.9 382.7,1407.2 383.2,1406.8 376.2,1407.4 381.7,1411.6 381.6,1411.1 383.7,1411.7" fill="none"/>
<polygon points="413.1,1409.3 412.8,1408 413.4,1408.2 409.3,1402.5 408.5,1409.4 408.9,1409 409.3,1410.3" fill="none"/>
<polygon points="439.2,1411.5 440.8,1410.4 440.8,1411 444.8,1405.3 438,1406.8 438.6,1407.1 437,1408.1" fill="none"/>
<polygon points="465.8,1411.6 467.7,1410.8 467.6,1411.4 472.6,1406.6 465.6,1406.8 466.1,1407.2 464.2,1408" fill="none"/>
<polygon points="490.2,1410.9 491,1412.1 490.4,1412.1 495.9,1416.3 494.6,1409.5 494.4,1410 493.6,1408.7" fill="none"/>
<polygon points="518.8,1407.8 511.2,1407.8 511.5,1407.3 505,1409.8 511.5,1412.3 511.2,1411.8 518.8,1411.8" fill="#000"/>
<polygon points="88.4,1438 94.2,1438 93.9,1438.5 100.4,1436 93.9,1433.5 94.2,1434 88.4,1434" fill="#000"/>
<polygon points="117.3,1436.3 117.5,1434.4 118,1434.8 116.4,1428 113,1434.1 113.6,1433.9 113.3,1435.7" fill="none"/>
<polygon points="143.9,1437 144.7,1435.7 145,1436.2 145.9,1429.3 140.6,1433.7 141.2,1433.7 140.5,1435" fill="none"/>
<polygon points="167.2,1436.5 167.6,1438.3 167.1,1438.1 171.2,1443.8 171.9,1436.9 171.5,1437.3 171,1435.5" fill="none"/>
<polygon points="194.3,1434.9 193.2,1436.7 193,1436.1 191.6,1443 197.2,1438.8 196.6,1438.8 197.7,1437.1" fill="none"/>
<polygon points="223.4,1434.1 221.8,1433.7 222.2,1433.2 215.3,1434.1 221,1438.1 220.8,1437.5 222.4,1437.9" fill="none"/>
<polygon points="251.4,1437.3 252.4,1435.9 252.6,1436.5 254.8,1429.8 248.7,1433.3 249.3,1433.4 248.2,1434.7" fill="none"/>
<polygon points="278.1,1437.4 279.4,1436.1 279.6,1436.7 282.4,1430.3 276,1433.1 276.6,1433.3 275.3,1434.6" fill="none"/>
<polygon points="305.5,1436.5 305.9,1434.8 306.3,1435.2 305.4,1428.3 301.5,1434.1 302,1433.9 301.7,1435.5" fill="none"/>
<polygon points="332.3,1436.9 332.9,1435.7 333.2,1436.1 333.7,1429.2 328.7,1434 329.3,1433.9 328.7,1435.1" fill="none"/>
<polygon points="357.1,1434 355.3,1434.3 355.5,1433.7 349.4,1437.1 356.2,1438.7 355.8,1438.2 357.7,1438" fill="none"/>
<polygon points="385.6,1434.5 384.2,1433.2 384.7,1433 378.2,1430.5 381.4,1436.7 381.5,1436.2 383,1437.5" fill="none"/>
<polygon points="413.2,1436 413.2,1434.6 413.7,1434.9 411.3,1428.4 408.7,1434.9 409.2,1434.6 409.2,1436" fill="none"/>
<polygon points="440,1435.4 439.5,1433.7 440.1,1433.8 435.9,1428.3 435.3,1435.2 435.7,1434.8 436.2,1436.6" fill="none"/>
<polygon points="466.9,1435.5 466.5,1433.7 467,1433.9 462.9,1428.3 462.2,1435.2 462.6,1434.8 463.1,1436.5" fill="none"/>
<polygon points="492.1,1434 489.5,1433.8 489.9,1433.3 483.2,1435.2 489.5,1438.3 489.2,1437.8 491.7,1438" fill="none"/>
<polygon points="518.9,1434 510.4,1433.7 510.7,1433.2 504.1,1435.5 510.5,1438.2 510.2,1437.7 518.7,1438" fill="#000"/>
<polygon points="88.4,1464.2 96,1464.2 95.7,1464.7 102.2,1462.2 95.7,1459.7 96,1460.2 88.4,1460.2" fill="#000"/>
<polygon points="115.8,1464.1 118.7,1463.4 118.6,1463.9 124.2,1459.8 117.3,1459.1 117.7,1459.5 114.8,1460.3" fill="none"/>
<polygon points="143.9,1463.2 144.5,1462.2 144.8,1462.7 145.9,1455.8 140.5,1460.2 141,1460.2 140.5,1461.2" fill="none"/>
<polygon points="171.1,1462.5 171.3,1461.4 171.7,1461.8 170.4,1455 166.8,1460.9 167.3,1460.7 167.1,1461.9" fill="none"/>
<polygon points="198,1462.5 198.1,1461.3 198.6,1461.7 197,1454.9 193.6,1461 194.2,1460.8 194,1461.9" fill="none"/>
<polygon points="224.9,1462.4 225,1461.3 225.5,1461.6 223.7,1454.9 220.5,1461.1 221,1460.8 220.9,1462" fill="none"/>
<polygon points="251.8,1462.3 251.9,1461.2 252.4,1461.5 250.3,1454.9 247.4,1461.2 247.9,1460.9 247.8,1462.1" fill="none"/>
<polygon points="278.7,1462.3 278.7,1461.1 279.2,1461.4 277,1454.8 274.2,1461.3 274.7,1461 274.7,1462.1" fill="none"/>
<polygon points="305.6,1462.2 305.6,1461 306.1,1461.3 303.6,1454.8 301.1,1461.3 301.6,1461 301.6,1462.2" fill="none"/>
<polygon points="332.5,1462.1 332.5,1461 333,1461.3 330.2,1454.8 328,1461.4 328.5,1461.1 328.5,1462.3" fill="none"/>
<polygon points="359.4,1462.1 359.2,1459.5 359.7,1459.8 356.8,1453.5 354.7,1460.1 355.2,1459.8 355.4,1462.3" fill="none"/>
<polygon points="386.3,1462 386,1459.5 386.6,1459.7 383.4,1453.5 381.6,1460.2 382,1459.9 382.3,1462.4" fill="none"/>
<polygon points="413.2,1461.9 412.8,1459.4 413.4,1459.6 410,1453.5 408.4,1460.3 408.9,1460 409.2,1462.5" fill="none"/>
<polygon points="440.1,1461.9 439.6,1459.4 440.2,1459.6 436.6,1453.6 435.2,1460.4 435.7,1460 436.1,1462.5" fill="none"/>
<polygon points="466.9,1461.5 465.9,1458.7 466.4,1458.8 461.9,1453.6 461.7,1460.5 462.1,1460.1 463.1,1462.9" fill="none"/>
<polygon points="492.9,1460.5 489.5,1458.5 490,1458.2 483.1,1457.1 487.5,1462.6 487.5,1462 490.9,1463.9" fill="#000"/>
<polygon points="519.1,1460.2 508.8,1458.8 509.2,1458.3 502.4,1459.9 508.5,1463.3 508.3,1462.7 518.5,1464.2" fill="#000"/>
<polygon points="89,1490.3 95.4,1488.2 95.2,1488.8 100.6,1484.4 93.7,1484.1 94.1,1484.4 87.8,1486.5" fill="#000"/>
<polygon points="117.1,1489.2 119.2,1484.9 119.5,1485.3 120,1478.4 115,1483.2 115.5,1483.2 113.5,1487.6" fill="#000"/>
<polygon points="144.2,1488.4 144.2,1484.5 144.7,1484.8 142.2,1478.3 139.7,1484.8 140.2,1484.5 140.2,1488.4" fill="#000"/>
<polygon points="171.1,1488.4 171.1,1484.5 171.6,1484.8 169.1,1478.3 166.6,1484.8 167.1,1484.5 167.1,1488.4" fill="#000"/>
<polygon points="198,1488.4 198,1484.5 198.5,1484.8 196,1478.3 193.5,1484.8 194,1484.5 194,1488.4" fill="#000"/>
<polygon points="224.9,1488.4 224.9,1486.8 225.4,1487.1 222.9,1480.6 220.4,1487.1 220.9,1486.8 220.9,1488.4" fill="none"/>
<polygon points="251.8,1488.4 251.8,1487.2 252.3,1487.5 249.8,1481 247.3,1487.5 247.8,1487.2 247.8,1488.4" fill="none"/>
<polygon points="278.7,1488.4 278.7,1487.2 279.2,1487.5 276.7,1481 274.2,1487.5 274.7,1487.2 274.7,1488.4" fill="none"/>
<polygon points="305.6,1488.4 305.6,1487.6 306.1,1487.9 303.6,1481.4 301.1,1487.9 301.6,1487.6 301.6,1488.4" fill="none"/>
<polygon points="332.5,1488.4 332.5,1487.6 333,1487.9 330.5,1481.4 328,1487.9 328.5,1487.6 328.5,1488.4" fill="none"/>
<polygon points="359.4,1488.4 359.4,1487.6 359.9,1487.9 357.4,1481.4 354.9,1487.9 355.4,1487.6 355.4,1488.4" fill="none"/>
<polygon points="386.3,1488.2 386.2,1487.1 386.7,1487.3 383.7,1481.1 381.7,1487.8 382.2,1487.4 382.3,1488.6" fill="none"/>
<polygon points="413.1,1488.9 413.9,1486 414.3,1486.4 413.6,1479.5 409.5,1485.1 410,1485 409.3,1487.9" fill="none"/>
<polygon points="440.1,1488 439.1,1483.3 439.7,1483.5 436,1477.6 434.8,1484.4 435.2,1484 436.1,1488.8" fill="#000"/>
<polygon points="466.9,1487.9 465.3,1481.4 465.9,1481.6 461.9,1475.9 461,1482.8 461.4,1482.4 463.1,1488.9" fill="#000"/>
<polygon points="493.5,1487.3 490.2,1482.5 490.8,1482.5 485,1478.6 486.7,1485.4 487,1484.8 490.3,1489.5" fill="#000"/>
<polygon points="519.5,1486.5 508,1482.3 508.5,1482 501.5,1482.1 506.8,1486.7 506.7,1486.1 518.1,1490.3" fill="#000"/>
<polygon points="89.9,1515.9 102.4,1502.1 102.5,1502.6 105,1496.1 98.8,1499.3 99.4,1499.4 86.9,1513.3" fill="#000"/>
<polygon points="117.3,1514.6 117.3,1503.3 117.8,1503.6 115.3,1497.1 112.8,1503.6 113.3,1503.3 113.3,1514.6" fill="#000"/>
<polygon points="144.2,1514.6 144.2,1503.3 144.7,1503.6 142.2,1497.1 139.7,1503.6 140.2,1503.3 140.2,1514.6" fill="#000"/>
<polygon points="171.1,1514.6 171.1,1503.3 171.6,1503.6 169.1,1497.1 166.6,1503.6 167.1,1503.3 167.1,1514.6" fill="#000"/>
<polygon points="198,1514.6 198,1504.2 198.5,1504.5 196,1498 193.5,1504.5 194,1504.2 194,1514.6" fill="#000"/>
<polygon points="224.9,1514.6 224.9,1504.2 225.4,1504.5 222.9,1498 220.4,1504.5 220.9,1504.2 220.9,1514.6" fill="#000"/>
<polygon points="251.8,1514.6 251.8,1504.2 252.3,1504.5 249.8,1498 247.3,1504.5 247.8,1504.2 247.8,1514.6" fill="#000"/>
<polygon points="278.7,1514.6 278.7,1504.2 279.2,1504.5 276.7,1498 274.2,1504.5 274.7,1504.2 274.7,1514.6" fill="#000"/>
<polygon points="305.6,1514.6 305.6,1505.2 306.1,1505.5 303.6,1499 301.1,1505.5 301.6,1505.2 301.6,1514.6" fill="#000"/>
<polygon points="332.5,1514.6 332.5,1505.2 333,1505.5 330.5,1499 328,1505.5 328.5,1505.2 328.5,1514.6" fill="#000"/>
<polygon points="359.4,1514.6 359.4,1504.2 359.9,1504.5 357.4,1498 354.9,1504.5 355.4,1504.2 355.4,1514.6" fill="#000"/>
<polygon points="386.3,1514.6 386.3,1504.2 386.8,1504.5 384.3,1498 381.8,1504.5 382.3,1504.2 382.3,1514.6" fill="#000"/>
<polygon points="413.2,1514.5 412.8,1502.3 413.3,1502.6 410.6,1496.2 408.3,1502.8 408.8,1502.5 409.2,1514.7" fill="#000"/>
<polygon points="440.1,1514.5 439,1498.6 439.5,1498.9 436.6,1492.6 434.5,1499.2 435,1498.9 436.1,1514.7" fill="#000"/>
<polygon points="467,1514.4 464.8,1494 465.4,1494.3 462.2,1488.1 460.4,1494.8 460.9,1494.4 463,1514.8" fill="#000"/>
<polygon points="493.8,1514.2 487.8,1487.9 488.3,1488.1 484.4,1482.3 483.5,1489.2 483.9,1488.8 490,1515" fill="#000"/>
<polygon points="520.4,1513.4 502,1489 502.6,1488.9 496.7,1485.2 498.6,1491.9 498.8,1491.4 517.2,1515.8" fill="#000"/>
</g>
<rect x="72" y="1078.9" width="465" height="454.2" fill="none" stroke="#111" stroke-width="1.5"/>
<line x1="125.6" x2="125.6" y1="1533.1" y2="1529.1" stroke="#111" stroke-width="1"/>
<line x1="125.6" x2="125.6" y1="1078.9" y2="1082.9" stroke="#111" stroke-width="1"/>
<line x1="214.6" x2="214.6" y1="1533.1" y2="1529.1" stroke="#111" stroke-width="1"/>
<line x1="214.6" x2="214.6" y1="1078.9" y2="1082.9" stroke="#111" stroke-width="1"/>
<line x1="303.6" x2="303.6" y1="1533.1" y2="1529.1" stroke="#111" stroke-width="1"/>
<line x1="303.6" x2="303.6" y1="1078.9" y2="1082.9" stroke="#111" stroke-width="1"/>
<line x1="392.6" x2="392.6" y1="1533.1" y2="1529.1" stroke="#111" stroke-width="1"/>
<line x1="392.6" x2="392.6" y1="1078.9" y2="1082.9" stroke="#111" stroke-width="1"/>
<line x1="481.6" x2="481.6" y1="1533.1" y2="1529.1" stroke="#111" stroke-width="1"/>
<line x1="481.6" x2="481.6" y1="1078.9" y2="1082.9" stroke="#111" stroke-width="1"/>
<line x1="72" x2="76" y1="1132.5" y2="1132.5" stroke="#111" stroke-width="1"/>
<line x1="537" x2="533" y1="1132.5" y2="1132.5" stroke="#111" stroke-width="1"/>
<line x1="72" x2="76" y1="1219.5" y2="1219.5" stroke="#111" stroke-width="1"/>
<line x1="537" x2="533" y1="1219.5" y2="1219.5" stroke="#111" stroke-width="1"/>
<line x1="72" x2="76" y1="1306.5" y2="1306.5" stroke="#111" stroke-width="1"/>
<line x1="537" x2="533" y1="1306.5" y2="1306.5" stroke="#111" stroke-width="1"/>
<line x1="72" x2="76" y1="1393" y2="1393" stroke="#111" stroke-width="1"/>
<line x1="537" x2="533" y1="1393" y2="1393" stroke="#111" stroke-width="1"/>
<line x1="72" x2="76" y1="1480.5" y2="1480.5" stroke="#111" stroke-width="1"/>
<line x1="537" x2="533" y1="1480.5" y2="1480.5" stroke="#111" stroke-width="1"/>
<text transform="translate(125.6,1554.5) scale(1.05,1)" font-family="DejaVu Sans, Liberation Sans, sans-serif" font-size="16" text-anchor="middle" fill="#1c1c1c" stroke="#1c1c1c" stroke-width="0.35">−20</text>
<text transform="translate(214.6,1554.5) scale(1.05,1)" font-family="DejaVu Sans, Liberation Sans, sans-serif" font-size="16" text-anchor="middle" fill="#1c1c1c" stroke="#1c1c1c" stroke-width="0.35">−10</text>
<text transform="translate(303.6,1554.5) scale(1.05,1)" font-family="DejaVu Sans, Liberation Sans, sans-serif" font-size="16" text-anchor="middle" fill="#1c1c1c" stroke="#1c1c1c" stroke-width="0.35">0</text>
<text transform="translate(392.6,1554.5) scale(1.05,1)" font-family="DejaVu Sans, Liberation Sans, sans-serif" font-size="16" text-anchor="middle" fill="#1c1c1c" stroke="#1c1c1c" stroke-width="0.35">10</text>
<text transform="translate(481.6,1554.5) scale(1.05,1)" font-family="DejaVu Sans, Liberation Sans, sans-serif" font-size="16" text-anchor="middle" fill="#1c1c1c" stroke="#1c1c1c" stroke-width="0.35">20</text>
<text transform="translate(66.4,1136.84) scale(1.05,1)" font-family="DejaVu Sans, Liberation Sans, sans-serif" font-size="16" text-anchor="end" fill="#1c1c1c" stroke="#1c1c1c" stroke-width="0.35">20</text>
<text transform="translate(66.4,1223.84) scale(1.05,1)" font-family="DejaVu Sans, Liberation Sans, sans-serif" font-size="16" text-anchor="end" fill="#1c1c1c" stroke="#1c1c1c" stroke-width="0.35">10</text>
<text transform="translate(66.4,1310.84) scale(1.05,1)" font-family="DejaVu Sans, Liberation Sans, sans-serif" font-size="16" text-anchor="end" fill="#1c1c1c" stroke="#1c1c1c" stroke-width="0.35">0</text>
<text transform="translate(66.4,1397.34) scale(1.05,1)" font-family="DejaVu Sans, Liberation Sans, sans-serif" font-size="16" text-anchor="end" fill="#1c1c1c" stroke="#1c1c1c" stroke-width="0.35">−10</text>
<text transform="translate(66.4,1484.84) scale(1.05,1)" font-family="DejaVu Sans, Liberation Sans, sans-serif" font-size="16" text-anchor="end" fill="#1c1c1c" stroke="#1c1c1c" stroke-width="0.35">−20</text>
<rect x="566.8" y="1078.9" width="23" height="454.2" fill="url(#jet)" stroke="#111" stroke-width="1.4"/>
<text transform="translate(594.6,1538.44) scale(1.05,1)" font-family="DejaVu Sans, Liberation Sans, sans-serif" font-size="16" text-anchor="start" fill="#222" stroke="#222" stroke-width="0.3">0.0</text>
<line x1="584.8" x2="589.8" y1="1487.1" y2="1487.1" stroke="#222" stroke-width="1.1"/>
<text transform="translate(594.6,1492.94) scale(1.05,1)" font-family="DejaVu Sans, Liberation Sans, sans-serif" font-size="16" text-anchor="start" fill="#222" stroke="#222" stroke-width="0.3">0.1</text>
<line x1="584.8" x2="589.8" y1="1441.6" y2="1441.6" stroke="#222" stroke-width="1.1"/>
<text transform="translate(594.6,1447.44) scale(1.05,1)" font-family="DejaVu Sans, Liberation Sans, sans-serif" font-size="16" text-anchor="start" fill="#222" stroke="#222" stroke-width="0.3">0.2</text>
<line x1="584.8" x2="589.8" y1="1396.1" y2="1396.1" stroke="#222" stroke-width="1.1"/>
<text transform="translate(594.6,1401.94) scale(1.05,1)" font-family="DejaVu Sans, Liberation Sans, sans-serif" font-size="16" text-anchor="start" fill="#222" stroke="#222" stroke-width="0.3">0.3</text>
<line x1="584.8" x2="589.8" y1="1350.6" y2="1350.6" stroke="#222" stroke-width="1.1"/>
<text transform="translate(594.6,1356.44) scale(1.05,1)" font-family="DejaVu Sans, Liberation Sans, sans-serif" font-size="16" text-anchor="start" fill="#222" stroke="#222" stroke-width="0.3">0.4</text>
<line x1="584.8" x2="589.8" y1="1305.1" y2="1305.1" stroke="#222" stroke-width="1.1"/>
<text transform="translate(594.6,1310.94) scale(1.05,1)" font-family="DejaVu Sans, Liberation Sans, sans-serif" font-size="16" text-anchor="start" fill="#222" stroke="#222" stroke-width="0.3">0.5</text>
<line x1="584.8" x2="589.8" y1="1259.6" y2="1259.6" stroke="#222" stroke-width="1.1"/>
<text transform="translate(594.6,1265.44) scale(1.05,1)" font-family="DejaVu Sans, Liberation Sans, sans-serif" font-size="16" text-anchor="start" fill="#222" stroke="#222" stroke-width="0.3">0.6</text>
<line x1="584.8" x2="589.8" y1="1214.1" y2="1214.1" stroke="#222" stroke-width="1.1"/>
<text transform="translate(594.6,1219.94) scale(1.05,1)" font-family="DejaVu Sans, Liberation Sans, sans-serif" font-size="16" text-anchor="start" fill="#222" stroke="#222" stroke-width="0.3">0.7</text>
<line x1="584.8" x2="589.8" y1="1168.6" y2="1168.6" stroke="#222" stroke-width="1.1"/>
<text transform="translate(594.6,1174.44) scale(1.05,1)" font-family="DejaVu Sans, Liberation Sans, sans-serif" font-size="16" text-anchor="start" fill="#222" stroke="#222" stroke-width="0.3">0.8</text>
<line x1="584.8" x2="589.8" y1="1123.1" y2="1123.1" stroke="#222" stroke-width="1.1"/>
<text transform="translate(594.6,1128.94) scale(1.05,1)" font-family="DejaVu Sans, Liberation Sans, sans-serif" font-size="16" text-anchor="start" fill="#222" stroke="#222" stroke-width="0.3">0.9</text>
<text transform="translate(594.6,1083.44) scale(1.05,1)" font-family="DejaVu Sans, Liberation Sans, sans-serif" font-size="16" text-anchor="start" fill="#222" stroke="#222" stroke-width="0.3">1.0</text>
<text transform="translate(25.5,1305.4) rotate(-90)" font-family="Liberation Sans, Arial, sans-serif" font-size="29.3" text-anchor="middle" fill="#111">Y (mm)</text>
<text x="301.5" y="1586.3" font-family="Liberation Sans, Arial, sans-serif" font-size="29.3" text-anchor="middle" fill="#111" >X (mm)</text>
<g shape-rendering="crispEdges">
<rect x="719.8" y="1079.9" width="27.63" height="25.7" fill="#5f0c10"/>
<rect x="747.03" y="1079.9" width="27.73" height="25.7" fill="#8cfcc8"/>
<rect x="774.36" y="1079.9" width="27.73" height="25.7" fill="#1c00a0"/>
<rect x="801.69" y="1079.9" width="27.73" height="25.7" fill="#4359f8"/>
<rect x="829.02" y="1079.9" width="27.73" height="25.7" fill="#2800f6"/>
<rect x="856.35" y="1079.9" width="27.73" height="25.7" fill="#2600ec"/>
<rect x="883.68" y="1079.9" width="27.73" height="25.7" fill="#2500e2"/>
<rect x="911.01" y="1079.9" width="27.73" height="25.7" fill="#2c13f6"/>
<rect x="938.34" y="1079.9" width="27.73" height="25.7" fill="#2800f6"/>
<rect x="965.67" y="1079.9" width="55.06" height="25.7" fill="#3531f6"/>
<rect x="1020.33" y="1079.9" width="27.73" height="25.7" fill="#2a09f6"/>
<rect x="1047.66" y="1079.9" width="27.73" height="25.7" fill="#2e1cf6"/>
<rect x="1074.99" y="1079.9" width="27.73" height="25.7" fill="#5b96fa"/>
<rect x="1102.32" y="1079.9" width="27.73" height="25.7" fill="#3c46f7"/>
<rect x="1129.65" y="1079.9" width="54.35" height="25.7" fill="#5f0c10"/>
<rect x="719.8" y="1105.2" width="27.63" height="27.05" fill="#5f0c10"/>
<rect x="747.03" y="1105.2" width="191.71" height="27.05" fill="#2800f6"/>
<rect x="938.34" y="1105.2" width="27.73" height="27.05" fill="#2400d7"/>
<rect x="965.67" y="1105.2" width="27.73" height="27.05" fill="#3227f6"/>
<rect x="993" y="1105.2" width="27.73" height="27.05" fill="#4359f8"/>
<rect x="1020.33" y="1105.2" width="27.73" height="27.05" fill="#2e1cf6"/>
<rect x="1047.66" y="1105.2" width="27.73" height="27.05" fill="#2a09f6"/>
<rect x="1074.99" y="1105.2" width="27.73" height="27.05" fill="#2200cd"/>
<rect x="1102.32" y="1105.2" width="27.73" height="27.05" fill="#64acfa"/>
<rect x="1129.65" y="1105.2" width="27.73" height="27.05" fill="#e59f26"/>
<rect x="1156.98" y="1105.2" width="27.02" height="27.05" fill="#5f0c10"/>
<rect x="719.8" y="1131.85" width="27.63" height="27.05" fill="#c8fa42"/>
<rect x="747.03" y="1131.85" width="27.73" height="27.05" fill="#89f9e4"/>
<rect x="774.36" y="1131.85" width="27.73" height="27.05" fill="#383bf7"/>
<rect x="801.69" y="1131.85" width="27.73" height="27.05" fill="#1f00b6"/>
<rect x="829.02" y="1131.85" width="27.73" height="27.05" fill="#2600ec"/>
<rect x="856.35" y="1131.85" width="27.73" height="27.05" fill="#3531f6"/>
<rect x="883.68" y="1131.85" width="27.73" height="27.05" fill="#2800f6"/>
<rect x="911.01" y="1131.85" width="27.73" height="27.05" fill="#1f00b6"/>
<rect x="938.34" y="1131.85" width="27.73" height="27.05" fill="#2000c2"/>
<rect x="965.67" y="1131.85" width="27.73" height="27.05" fill="#2400d7"/>
<rect x="993" y="1131.85" width="27.73" height="27.05" fill="#2800f6"/>
<rect x="1020.33" y="1131.85" width="27.73" height="27.05" fill="#3531f6"/>
<rect x="1047.66" y="1131.85" width="27.73" height="27.05" fill="#2a09f6"/>
<rect x="1074.99" y="1131.85" width="27.73" height="27.05" fill="#1c00a0"/>
<rect x="1102.32" y="1131.85" width="27.73" height="27.05" fill="#64acfa"/>
<rect x="1129.65" y="1131.85" width="27.73" height="27.05" fill="#f1f834"/>
<rect x="1156.98" y="1131.85" width="27.02" height="27.05" fill="#5f0c10"/>
<rect x="719.8" y="1158.5" width="27.63" height="27.05" fill="#d54b1f"/>
<rect x="747.03" y="1158.5" width="27.73" height="27.05" fill="#8bfcd4"/>
<rect x="774.36" y="1158.5" width="27.73" height="27.05" fill="#64acfa"/>
<rect x="801.69" y="1158.5" width="27.73" height="27.05" fill="#1f00b6"/>
<rect x="829.02" y="1158.5" width="27.73" height="27.05" fill="#2800f6"/>
<rect x="856.35" y="1158.5" width="27.73" height="27.05" fill="#2c13f6"/>
<rect x="883.68" y="1158.5" width="27.73" height="27.05" fill="#2800f6"/>
<rect x="911.01" y="1158.5" width="27.73" height="27.05" fill="#2200cd"/>
<rect x="938.34" y="1158.5" width="27.73" height="27.05" fill="#2400d7"/>
<rect x="965.67" y="1158.5" width="27.73" height="27.05" fill="#1f00b6"/>
<rect x="993" y="1158.5" width="27.73" height="27.05" fill="#2600ec"/>
<rect x="1020.33" y="1158.5" width="27.73" height="27.05" fill="#3c46f7"/>
<rect x="1047.66" y="1158.5" width="27.73" height="27.05" fill="#2800f6"/>
<rect x="1074.99" y="1158.5" width="27.73" height="27.05" fill="#2400d7"/>
<rect x="1102.32" y="1158.5" width="27.73" height="27.05" fill="#3531f6"/>
<rect x="1129.65" y="1158.5" width="27.73" height="27.05" fill="#a7fb6a"/>
<rect x="1156.98" y="1158.5" width="27.02" height="27.05" fill="#5f0c10"/>
<rect x="719.8" y="1185.15" width="27.63" height="27.05" fill="#ebbd2a"/>
<rect x="747.03" y="1185.15" width="27.73" height="27.05" fill="#68b6fa"/>
<rect x="774.36" y="1185.15" width="27.73" height="27.05" fill="#5b96fa"/>
<rect x="801.69" y="1185.15" width="27.73" height="27.05" fill="#2c13f6"/>
<rect x="829.02" y="1185.15" width="27.73" height="27.05" fill="#2800f6"/>
<rect x="856.35" y="1185.15" width="27.73" height="27.05" fill="#3227f6"/>
<rect x="883.68" y="1185.15" width="27.73" height="27.05" fill="#2800f6"/>
<rect x="911.01" y="1185.15" width="27.73" height="27.05" fill="#2600ec"/>
<rect x="938.34" y="1185.15" width="27.73" height="27.05" fill="#2400d7"/>
<rect x="965.67" y="1185.15" width="27.73" height="27.05" fill="#2200cd"/>
<rect x="993" y="1185.15" width="55.06" height="27.05" fill="#2800f6"/>
<rect x="1047.66" y="1185.15" width="27.73" height="27.05" fill="#2c13f6"/>
<rect x="1074.99" y="1185.15" width="27.73" height="27.05" fill="#2400d7"/>
<rect x="1102.32" y="1185.15" width="27.73" height="27.05" fill="#2a09f6"/>
<rect x="1129.65" y="1185.15" width="27.73" height="27.05" fill="#4a6cf9"/>
<rect x="1156.98" y="1185.15" width="27.02" height="27.05" fill="#5f0c10"/>
<rect x="719.8" y="1211.8" width="27.63" height="27.05" fill="#a7fb6a"/>
<rect x="747.03" y="1211.8" width="55.06" height="27.05" fill="#2800f6"/>
<rect x="801.69" y="1211.8" width="27.73" height="27.05" fill="#2200cd"/>
<rect x="829.02" y="1211.8" width="27.73" height="27.05" fill="#2000c2"/>
<rect x="856.35" y="1211.8" width="55.06" height="27.05" fill="#2400d7"/>
<rect x="911.01" y="1211.8" width="27.73" height="27.05" fill="#2000c2"/>
<rect x="938.34" y="1211.8" width="27.73" height="27.05" fill="#1b0096"/>
<rect x="965.67" y="1211.8" width="27.73" height="27.05" fill="#1e00ab"/>
<rect x="993" y="1211.8" width="27.73" height="27.05" fill="#2600ec"/>
<rect x="1020.33" y="1211.8" width="55.06" height="27.05" fill="#2800f6"/>
<rect x="1074.99" y="1211.8" width="27.73" height="27.05" fill="#1f00b6"/>
<rect x="1102.32" y="1211.8" width="27.73" height="27.05" fill="#2600ec"/>
<rect x="1129.65" y="1211.8" width="27.73" height="27.05" fill="#3227f6"/>
<rect x="1156.98" y="1211.8" width="27.02" height="27.05" fill="#5f0c10"/>
<rect x="719.8" y="1238.45" width="27.63" height="27.05" fill="#a7fb6a"/>
<rect x="747.03" y="1238.45" width="27.73" height="27.05" fill="#2a09f6"/>
<rect x="774.36" y="1238.45" width="27.73" height="27.05" fill="#2800f6"/>
<rect x="801.69" y="1238.45" width="27.73" height="27.05" fill="#2000c2"/>
<rect x="829.02" y="1238.45" width="27.73" height="27.05" fill="#1e00ab"/>
<rect x="856.35" y="1238.45" width="27.73" height="27.05" fill="#2600ec"/>
<rect x="883.68" y="1238.45" width="27.73" height="27.05" fill="#2400d7"/>
<rect x="911.01" y="1238.45" width="27.73" height="27.05" fill="#2200cd"/>
<rect x="938.34" y="1238.45" width="27.73" height="27.05" fill="#2000c2"/>
<rect x="965.67" y="1238.45" width="27.73" height="27.05" fill="#1e00ab"/>
<rect x="993" y="1238.45" width="55.06" height="27.05" fill="#2600ec"/>
<rect x="1047.66" y="1238.45" width="27.73" height="27.05" fill="#2000c2"/>
<rect x="1074.99" y="1238.45" width="27.73" height="27.05" fill="#2200cd"/>
<rect x="1102.32" y="1238.45" width="27.73" height="27.05" fill="#2600ec"/>
<rect x="1129.65" y="1238.45" width="27.73" height="27.05" fill="#2e1cf6"/>
<rect x="1156.98" y="1238.45" width="27.02" height="27.05" fill="#d4341e"/>
<rect x="719.8" y="1265.1" width="27.63" height="27.05" fill="#de8623"/>
<rect x="747.03" y="1265.1" width="27.73" height="27.05" fill="#4a6cf9"/>
<rect x="774.36" y="1265.1" width="137.05" height="27.05" fill="#2800f6"/>
<rect x="911.01" y="1265.1" width="27.73" height="27.05" fill="#2400d7"/>
<rect x="938.34" y="1265.1" width="55.06" height="27.05" fill="#2600ec"/>
<rect x="993" y="1265.1" width="55.06" height="27.05" fill="#2400d7"/>
<rect x="1047.66" y="1265.1" width="27.73" height="27.05" fill="#2600ec"/>
<rect x="1074.99" y="1265.1" width="27.73" height="27.05" fill="#2200cd"/>
<rect x="1102.32" y="1265.1" width="27.73" height="27.05" fill="#2800f6"/>
<rect x="1129.65" y="1265.1" width="27.73" height="27.05" fill="#3c46f7"/>
<rect x="1156.98" y="1265.1" width="27.02" height="27.05" fill="#5f0c10"/>
<rect x="719.8" y="1291.75" width="27.63" height="27.05" fill="#740e12"/>
<rect x="747.03" y="1291.75" width="27.73" height="27.05" fill="#2800f6"/>
<rect x="774.36" y="1291.75" width="27.73" height="27.05" fill="#2600ec"/>
<rect x="801.69" y="1291.75" width="55.06" height="27.05" fill="#1e00ab"/>
<rect x="856.35" y="1291.75" width="27.73" height="27.05" fill="#2600ec"/>
<rect x="883.68" y="1291.75" width="27.73" height="27.05" fill="#2400d7"/>
<rect x="911.01" y="1291.75" width="27.73" height="27.05" fill="#2200cd"/>
<rect x="938.34" y="1291.75" width="27.73" height="27.05" fill="#2000c2"/>
<rect x="965.67" y="1291.75" width="27.73" height="27.05" fill="#1f00b6"/>
<rect x="993" y="1291.75" width="27.73" height="27.05" fill="#2400d7"/>
<rect x="1020.33" y="1291.75" width="27.73" height="27.05" fill="#2000c2"/>
<rect x="1047.66" y="1291.75" width="27.73" height="27.05" fill="#2200cd"/>
<rect x="1074.99" y="1291.75" width="27.73" height="27.05" fill="#1f00b6"/>
<rect x="1102.32" y="1291.75" width="27.73" height="27.05" fill="#2600ec"/>
<rect x="1129.65" y="1291.75" width="27.73" height="27.05" fill="#4359f8"/>
<rect x="1156.98" y="1291.75" width="27.02" height="27.05" fill="#5f0c10"/>
<rect x="719.8" y="1318.4" width="27.63" height="27.05" fill="#5f0c10"/>
<rect x="747.03" y="1318.4" width="27.73" height="27.05" fill="#3c46f7"/>
<rect x="774.36" y="1318.4" width="27.73" height="27.05" fill="#2c13f6"/>
<rect x="801.69" y="1318.4" width="219.04" height="27.05" fill="#2800f6"/>
<rect x="1020.33" y="1318.4" width="27.73" height="27.05" fill="#2a09f6"/>
<rect x="1047.66" y="1318.4" width="82.39" height="27.05" fill="#2800f6"/>
<rect x="1129.65" y="1318.4" width="27.73" height="27.05" fill="#4359f8"/>
<rect x="1156.98" y="1318.4" width="27.02" height="27.05" fill="#5f0c10"/>
<rect x="719.8" y="1345.05" width="27.63" height="27.05" fill="#5f0c10"/>
<rect x="747.03" y="1345.05" width="27.73" height="27.05" fill="#3c46f7"/>
<rect x="774.36" y="1345.05" width="27.73" height="27.05" fill="#2800f6"/>
<rect x="801.69" y="1345.05" width="27.73" height="27.05" fill="#1c00a0"/>
<rect x="829.02" y="1345.05" width="27.73" height="27.05" fill="#2600ec"/>
<rect x="856.35" y="1345.05" width="55.06" height="27.05" fill="#2800f6"/>
<rect x="911.01" y="1345.05" width="55.06" height="27.05" fill="#2000c2"/>
<rect x="965.67" y="1345.05" width="27.73" height="27.05" fill="#2500e2"/>
<rect x="993" y="1345.05" width="27.73" height="27.05" fill="#2800f6"/>
<rect x="1020.33" y="1345.05" width="27.73" height="27.05" fill="#3227f6"/>
<rect x="1047.66" y="1345.05" width="27.73" height="27.05" fill="#2800f6"/>
<rect x="1074.99" y="1345.05" width="27.73" height="27.05" fill="#2500e2"/>
<rect x="1102.32" y="1345.05" width="27.73" height="27.05" fill="#2800f6"/>
<rect x="1129.65" y="1345.05" width="27.73" height="27.05" fill="#3531f6"/>
<rect x="1156.98" y="1345.05" width="27.02" height="27.05" fill="#5f0c10"/>
<rect x="719.8" y="1371.7" width="27.63" height="27.05" fill="#5f0c10"/>
<rect x="747.03" y="1371.7" width="27.73" height="27.05" fill="#383bf7"/>
<rect x="774.36" y="1371.7" width="55.06" height="27.05" fill="#2800f6"/>
<rect x="829.02" y="1371.7" width="27.73" height="27.05" fill="#2a09f6"/>
<rect x="856.35" y="1371.7" width="27.73" height="27.05" fill="#3531f6"/>
<rect x="883.68" y="1371.7" width="109.72" height="27.05" fill="#2800f6"/>
<rect x="993" y="1371.7" width="27.73" height="27.05" fill="#2e1cf6"/>
<rect x="1020.33" y="1371.7" width="27.73" height="27.05" fill="#4359f8"/>
<rect x="1047.66" y="1371.7" width="55.06" height="27.05" fill="#2800f6"/>
<rect x="1102.32" y="1371.7" width="27.73" height="27.05" fill="#3227f6"/>
<rect x="1129.65" y="1371.7" width="27.73" height="27.05" fill="#3c46f7"/>
<rect x="1156.98" y="1371.7" width="27.02" height="27.05" fill="#5f0c10"/>
<rect x="719.8" y="1398.35" width="27.63" height="27.05" fill="#5f0c10"/>
<rect x="747.03" y="1398.35" width="27.73" height="27.05" fill="#74d4fa"/>
<rect x="774.36" y="1398.35" width="27.73" height="27.05" fill="#2800f6"/>
<rect x="801.69" y="1398.35" width="27.73" height="27.05" fill="#1c00a0"/>
<rect x="829.02" y="1398.35" width="164.38" height="27.05" fill="#2800f6"/>
<rect x="993" y="1398.35" width="27.73" height="27.05" fill="#2c13f6"/>
<rect x="1020.33" y="1398.35" width="27.73" height="27.05" fill="#3227f6"/>
<rect x="1047.66" y="1398.35" width="55.06" height="27.05" fill="#2800f6"/>
<rect x="1102.32" y="1398.35" width="27.73" height="27.05" fill="#383bf7"/>
<rect x="1129.65" y="1398.35" width="27.73" height="27.05" fill="#5281f9"/>
<rect x="1156.98" y="1398.35" width="27.02" height="27.05" fill="#de8623"/>
<rect x="719.8" y="1425" width="27.63" height="27.05" fill="#5f0c10"/>
<rect x="747.03" y="1425" width="27.73" height="27.05" fill="#8bfcd4"/>
<rect x="774.36" y="1425" width="27.73" height="27.05" fill="#2800f6"/>
<rect x="801.69" y="1425" width="27.73" height="27.05" fill="#2200cd"/>
<rect x="829.02" y="1425" width="27.73" height="27.05" fill="#2600ec"/>
<rect x="856.35" y="1425" width="27.73" height="27.05" fill="#3227f6"/>
<rect x="883.68" y="1425" width="27.73" height="27.05" fill="#2600ec"/>
<rect x="911.01" y="1425" width="55.06" height="27.05" fill="#2800f6"/>
<rect x="965.67" y="1425" width="55.06" height="27.05" fill="#2a09f6"/>
<rect x="1020.33" y="1425" width="27.73" height="27.05" fill="#3227f6"/>
<rect x="1047.66" y="1425" width="55.06" height="27.05" fill="#2800f6"/>
<rect x="1102.32" y="1425" width="27.73" height="27.05" fill="#4a6cf9"/>
<rect x="1129.65" y="1425" width="27.73" height="27.05" fill="#90fcb1"/>
<rect x="1156.98" y="1425" width="27.02" height="27.05" fill="#5f0c10"/>
<rect x="719.8" y="1451.65" width="27.63" height="27.05" fill="#5f0c10"/>
<rect x="747.03" y="1451.65" width="27.73" height="27.05" fill="#c8fa42"/>
<rect x="774.36" y="1451.65" width="27.73" height="27.05" fill="#6cc0fa"/>
<rect x="801.69" y="1451.65" width="27.73" height="27.05" fill="#5281f9"/>
<rect x="829.02" y="1451.65" width="27.73" height="27.05" fill="#4a6cf9"/>
<rect x="856.35" y="1451.65" width="27.73" height="27.05" fill="#4e76f9"/>
<rect x="883.68" y="1451.65" width="27.73" height="27.05" fill="#4359f8"/>
<rect x="911.01" y="1451.65" width="27.73" height="27.05" fill="#383bf7"/>
<rect x="938.34" y="1451.65" width="55.06" height="27.05" fill="#3227f6"/>
<rect x="993" y="1451.65" width="27.73" height="27.05" fill="#3531f6"/>
<rect x="1020.33" y="1451.65" width="27.73" height="27.05" fill="#5b96fa"/>
<rect x="1047.66" y="1451.65" width="27.73" height="27.05" fill="#68b6fa"/>
<rect x="1074.99" y="1451.65" width="27.73" height="27.05" fill="#5281f9"/>
<rect x="1102.32" y="1451.65" width="27.73" height="27.05" fill="#5b96fa"/>
<rect x="1129.65" y="1451.65" width="27.73" height="27.05" fill="#90fcb1"/>
<rect x="1156.98" y="1451.65" width="27.02" height="27.05" fill="#d55a1f"/>
<rect x="719.8" y="1478.3" width="27.63" height="27.05" fill="#5f0c10"/>
<rect x="747.03" y="1478.3" width="27.73" height="27.05" fill="#f3e931"/>
<rect x="774.36" y="1478.3" width="27.73" height="27.05" fill="#c2fa47"/>
<rect x="801.69" y="1478.3" width="27.73" height="27.05" fill="#8efcbc"/>
<rect x="829.02" y="1478.3" width="27.73" height="27.05" fill="#8afbdc"/>
<rect x="856.35" y="1478.3" width="27.73" height="27.05" fill="#578cf9"/>
<rect x="883.68" y="1478.3" width="27.73" height="27.05" fill="#2800f6"/>
<rect x="911.01" y="1478.3" width="27.73" height="27.05" fill="#1f00b6"/>
<rect x="938.34" y="1478.3" width="27.73" height="27.05" fill="#2000c2"/>
<rect x="965.67" y="1478.3" width="55.06" height="27.05" fill="#2400d7"/>
<rect x="1020.33" y="1478.3" width="27.73" height="27.05" fill="#1f00b6"/>
<rect x="1047.66" y="1478.3" width="27.73" height="27.05" fill="#2800f6"/>
<rect x="1074.99" y="1478.3" width="27.73" height="27.05" fill="#2400d7"/>
<rect x="1102.32" y="1478.3" width="55.06" height="27.05" fill="#2800f6"/>
<rect x="1156.98" y="1478.3" width="27.02" height="27.05" fill="#5f0c10"/>
<rect x="719.8" y="1504.95" width="136.95" height="26.45" fill="#5f0c10"/>
<rect x="856.35" y="1504.95" width="27.73" height="26.45" fill="#9b1216"/>
<rect x="883.68" y="1504.95" width="27.73" height="26.45" fill="#5f0c10"/>
<rect x="911.01" y="1504.95" width="55.06" height="26.45" fill="#740e12"/>
<rect x="965.67" y="1504.95" width="27.73" height="26.45" fill="#d21e1e"/>
<rect x="993" y="1504.95" width="27.73" height="26.45" fill="#740e12"/>
<rect x="1020.33" y="1504.95" width="27.73" height="26.45" fill="#8f1115"/>
<rect x="1047.66" y="1504.95" width="55.06" height="26.45" fill="#5f0c10"/>
<rect x="1102.32" y="1504.95" width="27.73" height="26.45" fill="#d6fa37"/>
<rect x="1129.65" y="1504.95" width="27.73" height="26.45" fill="#dc7d22"/>
<rect x="1156.98" y="1504.95" width="27.02" height="26.45" fill="#5f0c10"/>
</g>
<g stroke="#000" stroke-width="2.6" stroke-linejoin="miter" stroke-miterlimit="6">
<polygon points="735.1,1096.6 755.7,1113.9 755.1,1114.2 761.5,1116.7 757.9,1110.8 757.8,1111.5 737.1,1094.2" fill="#000"/>
<polygon points="761.4,1095.1 760.9,1098.1 760.4,1097.7 761.4,1104.5 764.7,1098.4 764.1,1098.6 764.6,1095.7" fill="none"/>
<polygon points="790.7,1094 789.9,1093.6 790.4,1093.2 783.6,1092 788.3,1097 788.3,1096.4 789.1,1096.8" fill="none"/>
<polygon points="817.6,1096.8 818.9,1096 818.9,1096.7 823.3,1091.4 816.6,1092.9 817.2,1093.3 816,1094" fill="none"/>
<polygon points="842.5,1096.5 843.3,1097.2 842.6,1097.4 848.7,1100.6 845.8,1094.4 845.6,1095 844.9,1094.3" fill="none"/>
<polygon points="869.4,1096.5 870.1,1097.2 869.5,1097.4 875.5,1100.6 872.7,1094.4 872.4,1095 871.8,1094.3" fill="none"/>
<polygon points="896.1,1096.1 896.6,1097.2 895.9,1097.2 900.6,1102.1 899.9,1095.3 899.5,1095.8 898.9,1094.7" fill="none"/>
<polygon points="923.2,1096.4 923.9,1097.3 923.2,1097.4 929.1,1101 926.6,1094.6 926.3,1095.2 925.6,1094.4" fill="none"/>
<polygon points="950.1,1096.4 950.6,1097 949.9,1097.2 955.7,1100.9 953.3,1094.4 953.1,1095 952.5,1094.4" fill="none"/>
<polygon points="977.4,1096.8 978.8,1097.6 978.3,1097.9 985.1,1099 980.4,1094.1 980.3,1094.7 979,1094" fill="none"/>
<polygon points="1006.7,1095.7 1006.9,1094.5 1007.4,1094.9 1006.5,1088.1 1003.1,1094.1 1003.8,1093.9 1003.5,1095.1" fill="none"/>
<polygon points="1033.4,1096.1 1033.8,1095.4 1034.2,1095.9 1035.3,1089.2 1030.3,1093.9 1031,1093.9 1030.6,1094.7" fill="none"/>
<polygon points="1060.1,1096.4 1060.8,1095.6 1061.1,1096.2 1063.5,1089.8 1057.6,1093.5 1058.3,1093.6 1057.7,1094.4" fill="none"/>
<polygon points="1085.5,1097 1086.5,1097.2 1086.1,1097.7 1092.9,1096.7 1086.9,1093.4 1087.1,1094 1086.1,1093.8" fill="none"/>
<polygon points="1112.2,1096.9 1113.1,1097.2 1112.6,1097.7 1119.5,1097.5 1113.9,1093.5 1114,1094.1 1113.2,1093.9" fill="none"/>
<polygon points="1138.4,1094.3 1132.1,1101.3 1131.8,1100.7 1129.1,1107 1135.1,1103.7 1134.5,1103.5 1140.8,1096.5" fill="#000"/>
<polygon points="1165.8,1093.9 1129.8,1110.8 1129.8,1110.1 1124.8,1114.8 1131.6,1114.1 1131.1,1113.7 1167.2,1096.9" fill="#000"/>
<polygon points="736.6,1123.1 742.5,1121 742.4,1121.6 747.8,1117.4 740.9,1117.5 741.4,1118 735.6,1120.1" fill="#000"/>
<polygon points="762.7,1123.2 763.9,1123.4 763.5,1123.9 770.2,1122.9 764.2,1119.6 764.4,1120.2 763.3,1120" fill="none"/>
<polygon points="791.3,1120.8 790.8,1119.8 791.4,1119.8 786.4,1115.1 787.6,1121.9 787.9,1121.3 788.5,1122.4" fill="none"/>
<polygon points="816.3,1120.1 815.3,1120.4 815.4,1119.7 809.9,1123.8 816.7,1123.9 816.3,1123.4 817.3,1123.1" fill="none"/>
<polygon points="842.1,1122 842.5,1123.4 841.8,1123.2 845.4,1129.1 846.1,1122.3 845.6,1122.7 845.3,1121.2" fill="none"/>
<polygon points="869,1121.8 869.1,1122.6 868.5,1122.4 871.6,1128.5 872.8,1121.8 872.3,1122.1 872.2,1121.4" fill="none"/>
<polygon points="896.1,1122.3 896.5,1123.3 895.9,1123.3 900.7,1128.1 899.8,1121.3 899.4,1121.9 898.9,1120.9" fill="none"/>
<polygon points="923.5,1122.9 924.1,1123.4 923.6,1123.7 930.1,1125.6 926.1,1120.1 926,1120.8 925.3,1120.3" fill="none"/>
<polygon points="951,1123.2 951.8,1123.3 951.4,1123.8 958.1,1122.7 952.1,1119.5 952.3,1120.1 951.6,1120" fill="none"/>
<polygon points="978.3,1123.2 979.4,1123.1 979.2,1123.7 985.5,1121.1 978.9,1119.3 979.2,1119.9 978.1,1120" fill="none"/>
<polygon points="1005.8,1123.1 1007.2,1122.4 1007.2,1123.1 1012.2,1118.3 1005.3,1119.1 1005.9,1119.5 1004.4,1120.1" fill="none"/>
<polygon points="1033.6,1121.6 1033.6,1120.7 1034.2,1121 1031.8,1114.5 1029.8,1121.1 1030.4,1120.8 1030.4,1121.6" fill="none"/>
<polygon points="1057.6,1120.6 1056.8,1121.6 1056.5,1121 1054.3,1127.5 1060,1123.8 1059.3,1123.6 1060.2,1122.6" fill="none"/>
<polygon points="1084.5,1120.6 1084.1,1121.2 1083.8,1120.6 1081.5,1127.1 1087.2,1123.3 1086.6,1123.2 1087.1,1122.6" fill="none"/>
<polygon points="1112.2,1120.1 1110.2,1120.8 1110.3,1120.1 1104.9,1124.4 1111.8,1124.3 1111.3,1123.8 1113.2,1123.1" fill="none"/>
<polygon points="1139.6,1120 1137,1120 1137.3,1119.4 1130.8,1121.6 1137.3,1123.8 1137,1123.2 1139.6,1123.2" fill="none"/>
<polygon points="1166.5,1120 1135.9,1120.5 1136.2,1119.9 1129.7,1122.2 1136.2,1124.3 1135.9,1123.7 1166.5,1123.2" fill="#000"/>
<polygon points="736.1,1149.4 742.3,1149.4 742,1150 748.5,1147.8 742,1145.6 742.3,1146.2 736.1,1146.2" fill="#000"/>
<polygon points="763.3,1149.4 768.1,1148.4 767.9,1149 773.8,1145.5 767,1144.7 767.4,1145.2 762.7,1146.2" fill="#000"/>
<polygon points="789.9,1149.4 792,1149.4 791.7,1150 798.2,1147.8 791.7,1145.6 792,1146.2 789.9,1146.2" fill="none"/>
<polygon points="816.2,1146.3 814.9,1146.9 814.9,1146.2 809.8,1150.8 816.6,1150.3 816.1,1149.8 817.4,1149.3" fill="none"/>
<polygon points="842.1,1147.4 841.9,1148.5 841.4,1148.1 842,1154.9 845.6,1149.1 845,1149.3 845.3,1148.2" fill="none"/>
<polygon points="869,1148 869.1,1148.9 868.5,1148.7 871.3,1154.9 872.9,1148.2 872.3,1148.6 872.2,1147.6" fill="none"/>
<polygon points="896.3,1148.9 897.4,1150.1 896.8,1150.3 902.8,1153.6 900,1147.3 899.8,1147.9 898.7,1146.7" fill="none"/>
<polygon points="923.2,1148.8 923.7,1149.4 923,1149.6 928.9,1153 926.3,1146.7 926.1,1147.3 925.6,1146.8" fill="none"/>
<polygon points="950.4,1149.2 951.7,1150 951.1,1150.3 957.8,1151.9 953.5,1146.6 953.4,1147.3 952.2,1146.4" fill="none"/>
<polygon points="977.6,1149.3 978.4,1149.6 977.9,1150 984.7,1150.3 979.5,1145.9 979.5,1146.6 978.8,1146.3" fill="none"/>
<polygon points="1004.2,1149.1 1005.4,1149.9 1004.8,1150.2 1011.4,1152.1 1007.3,1146.6 1007.2,1147.3 1006,1146.5" fill="none"/>
<polygon points="1030.4,1147.8 1030.4,1148.8 1029.8,1148.5 1032.2,1155 1034.2,1148.4 1033.6,1148.7 1033.6,1147.8" fill="none"/>
<polygon points="1057.4,1147.3 1056.9,1148.6 1056.4,1148.1 1056.3,1155 1060.6,1149.6 1059.9,1149.7 1060.4,1148.3" fill="none"/>
<polygon points="1084.2,1148 1084.4,1149.5 1083.7,1149.2 1086.6,1155.5 1088.1,1148.8 1087.5,1149.2 1087.4,1147.6" fill="none"/>
<polygon points="1112.7,1146.2 1110.6,1146.2 1110.9,1145.6 1104.4,1147.8 1110.9,1150 1110.6,1149.4 1112.7,1149.4" fill="none"/>
<polygon points="1139.6,1146.2 1137,1146.2 1137.3,1145.6 1130.8,1147.8 1137.3,1150 1137,1149.4 1139.6,1149.4" fill="none"/>
<polygon points="1166.5,1146.2 1138.7,1146.2 1139,1145.6 1132.5,1147.8 1139,1150 1138.7,1149.4 1166.5,1149.4" fill="#000"/>
<polygon points="736.1,1175.6 742.3,1175.6 742,1176.2 748.5,1174 742,1171.8 742.3,1172.4 736.1,1172.4" fill="#000"/>
<polygon points="763.3,1175.6 768.1,1174.6 767.9,1175.2 773.8,1171.7 767,1170.9 767.4,1171.4 762.7,1172.4" fill="#000"/>
<polygon points="790.2,1175.6 793.6,1174.8 793.4,1175.5 799.3,1172 792.5,1171.2 793,1171.7 789.6,1172.4" fill="#000"/>
<polygon points="817.2,1172.4 815.7,1172.1 816.2,1171.6 809.3,1172.1 815.1,1175.8 814.9,1175.2 816.4,1175.6" fill="none"/>
<polygon points="842.1,1173.9 842,1175.5 841.4,1175.2 843.4,1181.8 845.8,1175.4 845.2,1175.6 845.3,1174.1" fill="none"/>
<polygon points="869.1,1174.5 869.5,1175.7 868.8,1175.6 872.8,1181.2 873,1174.3 872.5,1174.8 872.1,1173.5" fill="none"/>
<polygon points="896.1,1174.8 896.9,1176.1 896.2,1176.2 901.3,1180.7 900,1174 899.7,1174.6 898.9,1173.2" fill="none"/>
<polygon points="923.5,1175.3 924.7,1176.1 924.1,1176.5 930.7,1178.3 926.6,1172.8 926.5,1173.5 925.3,1172.7" fill="none"/>
<polygon points="950.2,1175.1 950.7,1175.7 950.1,1175.9 956.2,1179 953.2,1172.8 953,1173.5 952.4,1172.9" fill="none"/>
<polygon points="977.1,1175.1 978,1176 977.4,1176.3 983.5,1179.3 980.4,1173.1 980.2,1173.8 979.3,1172.9" fill="none"/>
<polygon points="1003.9,1175.1 1004.5,1175.8 1003.9,1175.9 1010,1179.2 1007.1,1172.9 1006.9,1173.6 1006.3,1172.9" fill="none"/>
<polygon points="1030.5,1173.5 1030,1175.1 1029.5,1174.7 1029.8,1181.5 1033.7,1175.9 1033.1,1176 1033.5,1174.5" fill="none"/>
<polygon points="1057.8,1172.8 1056.6,1173.9 1056.4,1173.3 1053.2,1179.3 1059.4,1176.5 1058.8,1176.3 1060,1175.2" fill="none"/>
<polygon points="1084.2,1173.8 1084,1175 1083.5,1174.6 1084.7,1181.4 1087.8,1175.3 1087.2,1175.5 1087.4,1174.2" fill="none"/>
<polygon points="1111.7,1175.3 1112.8,1176.1 1112.2,1176.4 1118.7,1178.7 1114.9,1172.9 1114.8,1173.6 1113.7,1172.7" fill="none"/>
<polygon points="1139.6,1172.4 1132.9,1172.4 1133.2,1171.8 1126.7,1174 1133.2,1176.2 1132.9,1175.6 1139.6,1175.6" fill="#000"/>
<polygon points="1166.5,1172.4 1150.6,1172.4 1150.9,1171.8 1144.4,1174 1150.9,1176.2 1150.6,1175.6 1166.5,1175.6" fill="#000"/>
<polygon points="736.1,1201.8 742.3,1201.8 742,1202.4 748.5,1200.2 742,1198 742.3,1198.6 736.1,1198.6" fill="#000"/>
<polygon points="763.3,1201.8 768.1,1200.8 767.9,1201.4 773.8,1197.9 767,1197.1 767.4,1197.6 762.7,1198.6" fill="#000"/>
<polygon points="790.2,1201.8 793.6,1201 793.4,1201.7 799.3,1198.2 792.5,1197.4 793,1197.9 789.6,1198.6" fill="#000"/>
<polygon points="818.4,1200.2 818.4,1198.6 819,1198.9 816.9,1192.4 814.6,1198.8 815.2,1198.5 815.2,1200.2" fill="none"/>
<polygon points="844.9,1199.1 843.8,1197.9 844.5,1197.8 838.5,1194.4 841.2,1200.7 841.4,1200.1 842.5,1201.3" fill="none"/>
<polygon points="869.9,1201.6 870.7,1202 870.1,1202.4 876.9,1203.2 872,1198.4 872,1199.1 871.3,1198.8" fill="none"/>
<polygon points="896.1,1200.9 896.4,1201.6 895.7,1201.6 900.6,1206.4 899.7,1199.6 899.3,1200.1 898.9,1199.5" fill="none"/>
<polygon points="923.8,1201.7 925.1,1202.3 924.6,1202.7 931.5,1203.2 926.4,1198.6 926.4,1199.3 925,1198.7" fill="none"/>
<polygon points="949.9,1201 950.4,1201.7 949.7,1201.8 955,1206.2 953.4,1199.5 953.1,1200 952.7,1199.4" fill="none"/>
<polygon points="976.9,1201.1 977.7,1202.3 977.1,1202.4 982.5,1206.6 980.7,1200 980.4,1200.5 979.5,1199.3" fill="none"/>
<polygon points="1004.1,1201.4 1005.3,1202.4 1004.7,1202.7 1011.1,1205.2 1007.5,1199.3 1007.3,1200 1006.1,1199" fill="none"/>
<polygon points="1031.2,1201.6 1032.5,1202.3 1031.9,1202.7 1038.6,1204 1034.1,1198.9 1034.1,1199.5 1032.8,1198.8" fill="none"/>
<polygon points="1060,1201.3 1060.5,1200.8 1060.7,1201.5 1063.8,1195.4 1057.7,1198.3 1058.3,1198.6 1057.8,1199.1" fill="none"/>
<polygon points="1087.2,1200.9 1087.9,1199.5 1088.3,1200.1 1089.4,1193.3 1084.4,1198.1 1085.1,1198.1 1084.4,1199.5" fill="none"/>
<polygon points="1113.5,1201.6 1114.4,1201 1114.5,1201.7 1118.9,1196.5 1112.2,1197.9 1112.8,1198.3 1111.9,1198.8" fill="none"/>
<polygon points="1139.6,1198.6 1137,1198.6 1137.3,1198 1130.8,1200.2 1137.3,1202.4 1137,1201.8 1139.6,1201.8" fill="none"/>
<polygon points="1166.5,1198.6 1154.3,1198.6 1154.6,1198 1148.1,1200.2 1154.6,1202.4 1154.3,1201.8 1166.5,1201.8" fill="#000"/>
<polygon points="735.9,1228 741.1,1228.7 740.7,1229.3 747.5,1228 741.4,1224.9 741.6,1225.6 736.3,1224.8" fill="#000"/>
<polygon points="764.2,1227.5 764.9,1226.7 765.1,1227.3 767.9,1221 761.9,1224.4 762.5,1224.6 761.8,1225.3" fill="none"/>
<polygon points="791.5,1226.8 791.7,1225.6 792.2,1226.1 791.7,1219.2 788,1225 788.6,1224.9 788.3,1226" fill="none"/>
<polygon points="818.4,1226.5 818.4,1225.6 819,1225.9 817.1,1219.3 814.6,1225.7 815.2,1225.4 815.2,1226.3" fill="none"/>
<polygon points="845.1,1227.1 845.5,1226.3 845.9,1226.8 846.9,1220 842,1224.9 842.7,1224.9 842.3,1225.7" fill="none"/>
<polygon points="871.8,1227.4 872.3,1226.8 872.6,1227.4 875.1,1221.1 869.2,1224.6 869.9,1224.8 869.4,1225.4" fill="none"/>
<polygon points="897.2,1228 898,1228.1 897.6,1228.7 904.4,1227.7 898.4,1224.3 898.6,1225 897.8,1224.8" fill="none"/>
<polygon points="923.5,1227.7 924.6,1228.4 924,1228.8 930.6,1230.5 926.4,1225.1 926.3,1225.7 925.3,1225.1" fill="none"/>
<polygon points="949.9,1227.2 950.6,1228.4 949.9,1228.4 955.2,1232.9 953.7,1226.2 953.4,1226.7 952.7,1225.6" fill="none"/>
<polygon points="976.7,1227 977,1227.7 976.3,1227.6 980.8,1232.8 980.4,1226 980,1226.5 979.7,1225.8" fill="none"/>
<polygon points="1003.8,1227.3 1004.4,1228.2 1003.7,1228.3 1009.2,1232.4 1007.3,1225.8 1007,1226.3 1006.4,1225.5" fill="none"/>
<polygon points="1032.5,1227.9 1033.4,1227.6 1033.3,1228.3 1038.8,1224.2 1032,1224.1 1032.4,1224.6 1031.5,1224.9" fill="none"/>
<polygon points="1060.2,1227.4 1061.1,1226.1 1061.4,1226.7 1063.5,1220.2 1057.9,1224.1 1058.5,1224.2 1057.6,1225.4" fill="none"/>
<polygon points="1087.1,1227.4 1087.8,1226.5 1088.1,1227.1 1090.3,1220.6 1084.6,1224.4 1085.2,1224.5 1084.5,1225.4" fill="none"/>
<polygon points="1114.3,1226.4 1114.3,1225.4 1114.9,1225.7 1112.8,1219.2 1110.5,1225.7 1111.1,1225.4 1111.1,1226.4" fill="none"/>
<polygon points="1139.6,1224.8 1137,1224.8 1137.3,1224.2 1130.8,1226.4 1137.3,1228.6 1137,1228 1139.6,1228" fill="none"/>
<polygon points="1166.5,1224.8 1154.3,1224.8 1154.6,1224.2 1148.1,1226.4 1154.6,1228.6 1154.3,1228 1166.5,1228" fill="#000"/>
<polygon points="735.6,1254.1 740.1,1255.8 739.6,1256.2 746.5,1256.4 741.1,1252.1 741.2,1252.8 736.6,1251.1" fill="#000"/>
<polygon points="764.5,1253.3 764.8,1252.4 765.3,1252.9 766,1246.1 761.3,1251.1 761.9,1251.1 761.5,1251.9" fill="none"/>
<polygon points="791.1,1253.6 791.7,1253 791.9,1253.6 794.5,1247.3 788.6,1250.7 789.3,1250.9 788.7,1251.6" fill="none"/>
<polygon points="818.3,1252.1 818,1251.1 818.7,1251.3 814.7,1245.7 814.5,1252.5 815,1252.1 815.3,1253.1" fill="none"/>
<polygon points="845.1,1253.4 845.9,1252 846.3,1252.5 847.7,1245.8 842.5,1250.3 843.2,1250.4 842.3,1251.8" fill="none"/>
<polygon points="872.2,1252.7 872.3,1251 872.9,1251.4 871.1,1244.8 868.5,1251.1 869.1,1250.9 869,1252.5" fill="none"/>
<polygon points="896.9,1254.1 898.2,1254.7 897.7,1255.1 904.6,1255.7 899.5,1251.1 899.5,1251.7 898.1,1251.1" fill="none"/>
<polygon points="922.8,1252.5 922.7,1253.4 922.2,1253 923.8,1259.7 926.5,1253.4 925.9,1253.7 926,1252.7" fill="none"/>
<polygon points="950.1,1253.7 950.9,1254.6 950.3,1254.8 956.3,1258.1 953.5,1251.8 953.3,1252.4 952.5,1251.5" fill="none"/>
<polygon points="977.5,1254 978.4,1254.5 977.9,1254.9 984.6,1256 979.9,1251 979.9,1251.7 978.9,1251.2" fill="none"/>
<polygon points="1005.7,1254.1 1006.4,1253.8 1006.3,1254.5 1011.6,1250.1 1004.8,1250.4 1005.2,1250.8 1004.5,1251.1" fill="none"/>
<polygon points="1033.2,1253.6 1033.8,1253 1034.1,1253.6 1036.6,1247.2 1030.7,1250.7 1031.4,1250.9 1030.8,1251.6" fill="none"/>
<polygon points="1060.1,1253.7 1061.1,1252.5 1061.4,1253.1 1064.1,1246.8 1058.1,1250.2 1058.8,1250.4 1057.7,1251.5" fill="none"/>
<polygon points="1087.4,1252.9 1087.7,1251.5 1088.2,1251.9 1087.5,1245.1 1083.9,1250.9 1084.6,1250.8 1084.2,1252.3" fill="none"/>
<polygon points="1114.3,1252.4 1114.2,1251 1114.8,1251.3 1112,1245 1110.4,1251.7 1111,1251.3 1111.1,1252.8" fill="none"/>
<polygon points="1139.6,1251 1137,1251 1137.3,1250.4 1130.8,1252.6 1137.3,1254.8 1137,1254.2 1139.6,1254.2" fill="none"/>
<polygon points="1166.3,1251 1158.8,1252.1 1159,1251.4 1152.8,1254.5 1159.6,1255.8 1159.2,1255.2 1166.7,1254.2" fill="#000"/>
<polygon points="736,1280.4 742.2,1280.9 741.8,1281.5 748.5,1279.9 742.2,1277.1 742.4,1277.7 736.2,1277.2" fill="#000"/>
<polygon points="764,1280 765,1279.2 765.2,1279.8 768.8,1274 762.4,1276.5 763,1276.7 762,1277.6" fill="none"/>
<polygon points="791.1,1279.9 792,1278.8 792.3,1279.5 794.9,1273.1 789,1276.5 789.6,1276.7 788.7,1277.7" fill="none"/>
<polygon points="818.4,1278.6 818.2,1277.1 818.8,1277.3 815.6,1271.2 814.4,1278 815,1277.6 815.2,1279" fill="none"/>
<polygon points="845.3,1279.2 845.5,1278.1 846,1278.5 845.3,1271.7 841.7,1277.5 842.4,1277.4 842.1,1278.4" fill="none"/>
<polygon points="872.1,1279.4 872.7,1278.1 873.1,1278.6 873.6,1271.8 869,1276.9 869.7,1276.8 869.1,1278.2" fill="none"/>
<polygon points="896.1,1278.1 895.7,1279 895.2,1278.4 894.5,1285.2 899.2,1280.3 898.6,1280.3 898.9,1279.5" fill="none"/>
<polygon points="922.9,1278.4 922.6,1279.2 922.1,1278.8 922.6,1285.6 926.4,1279.9 925.7,1280 925.9,1279.2" fill="none"/>
<polygon points="949.8,1279.4 950.3,1280.5 949.6,1280.5 954.3,1285.6 953.7,1278.7 953.2,1279.2 952.8,1278.2" fill="none"/>
<polygon points="977,1279.9 977.8,1280.7 977.1,1280.9 983.2,1284.2 980.4,1277.9 980.1,1278.5 979.4,1277.7" fill="none"/>
<polygon points="1005.7,1280.3 1006.4,1280 1006.4,1280.6 1011.6,1276.1 1004.7,1276.6 1005.2,1277 1004.5,1277.3" fill="none"/>
<polygon points="1032.5,1280.3 1033.6,1280 1033.5,1280.6 1039.1,1276.6 1032.2,1276.4 1032.7,1276.9 1031.5,1277.3" fill="none"/>
<polygon points="1060.5,1279 1060.6,1277.3 1061.2,1277.7 1059.7,1271 1056.8,1277.3 1057.5,1277 1057.3,1278.6" fill="none"/>
<polygon points="1087.4,1278.9 1087.4,1278.1 1088,1278.4 1086,1271.8 1083.6,1278.2 1084.2,1278 1084.2,1278.7" fill="none"/>
<polygon points="1114,1277.9 1113.1,1276.5 1113.8,1276.4 1108.3,1272.2 1110.1,1278.9 1110.4,1278.3 1111.4,1279.7" fill="none"/>
<polygon points="1139.6,1277.2 1137,1277.2 1137.3,1276.6 1130.8,1278.8 1137.3,1281 1137,1280.4 1139.6,1280.4" fill="none"/>
<polygon points="1166.5,1277.2 1154.3,1277.2 1154.6,1276.6 1148.1,1278.8 1154.6,1281 1154.3,1280.4 1166.5,1280.4" fill="#000"/>
<polygon points="736.1,1306.6 742.3,1306.6 742,1307.2 748.5,1305 742,1302.8 742.3,1303.4 736.1,1303.4" fill="#000"/>
<polygon points="763.3,1306.6 764.5,1306.4 764.3,1307 770.3,1303.8 763.6,1302.7 764,1303.2 762.7,1303.4" fill="none"/>
<polygon points="790.8,1306.3 791.9,1305.6 792,1306.3 796.1,1300.8 789.5,1302.6 790.1,1303 789,1303.7" fill="none"/>
<polygon points="818.4,1305.3 818.7,1303.6 819.2,1304 818.3,1297.2 814.9,1303.2 815.5,1303 815.2,1304.7" fill="none"/>
<polygon points="845.3,1305.1 845.4,1303.9 846,1304.3 844.2,1297.6 841.6,1303.9 842.2,1303.7 842.1,1304.9" fill="none"/>
<polygon points="871,1303.4 869.8,1303.2 870.2,1302.6 863.4,1303.2 869.2,1306.9 869,1306.3 870.2,1306.6" fill="none"/>
<polygon points="895.9,1304.7 895.7,1305.7 895.2,1305.3 896.1,1312.1 899.5,1306.1 898.9,1306.3 899.1,1305.3" fill="none"/>
<polygon points="922.9,1305.4 923.3,1307 922.6,1306.9 926.5,1312.5 926.9,1305.7 926.4,1306.1 925.9,1304.6" fill="none"/>
<polygon points="949.9,1305.7 950.3,1306.6 949.6,1306.6 954.6,1311.4 953.6,1304.6 953.2,1305.1 952.7,1304.3" fill="none"/>
<polygon points="977.1,1306.2 978.3,1307.2 977.7,1307.5 984,1310.2 980.6,1304.2 980.4,1304.8 979.3,1303.8" fill="none"/>
<polygon points="1004.3,1306.4 1005.7,1307.1 1005.1,1307.5 1011.9,1308.8 1007.2,1303.7 1007.2,1304.3 1005.9,1303.6" fill="none"/>
<polygon points="1032.6,1306.5 1034.1,1305.9 1034,1306.5 1039.2,1302 1032.3,1302.5 1032.8,1302.9 1031.4,1303.5" fill="none"/>
<polygon points="1060.3,1305.8 1060.7,1305.1 1061.1,1305.6 1062.6,1298.9 1057.3,1303.4 1058,1303.4 1057.5,1304.2" fill="none"/>
<polygon points="1087.4,1305.3 1087.6,1303.8 1088.2,1304.2 1087.1,1297.4 1083.8,1303.4 1084.5,1303.2 1084.2,1304.7" fill="none"/>
<polygon points="1114.3,1305.3 1114.5,1304.1 1115.1,1304.5 1114.3,1297.7 1110.8,1303.6 1111.4,1303.4 1111.1,1304.7" fill="none"/>
<polygon points="1139.6,1303.4 1137,1303.4 1137.3,1302.8 1130.8,1305 1137.3,1307.2 1137,1306.6 1139.6,1306.6" fill="none"/>
<polygon points="1166.5,1303.4 1154.3,1303.4 1154.6,1302.8 1148.1,1305 1154.6,1307.2 1154.3,1306.6 1166.5,1306.6" fill="#000"/>
<polygon points="736.1,1332.8 745.5,1332.8 745.2,1333.4 751.7,1331.2 745.2,1329 745.5,1329.6 736.1,1329.6" fill="#000"/>
<polygon points="763,1332.8 765.5,1332.8 765.2,1333.4 771.7,1331.2 765.2,1329 765.5,1329.6 763,1329.6" fill="none"/>
<polygon points="788.9,1332.5 790.2,1333.5 789.6,1333.8 796.2,1335.9 792.3,1330.2 792.2,1330.9 790.9,1329.9" fill="none"/>
<polygon points="815.2,1331.1 815.2,1331.9 814.6,1331.6 816.5,1338.2 819,1331.8 818.4,1332.1 818.4,1331.3" fill="none"/>
<polygon points="842.6,1330.1 841.9,1330.8 841.6,1330.1 838.5,1336.3 844.7,1333.3 844.1,1333.1 844.8,1332.3" fill="none"/>
<polygon points="869.2,1330.5 868.7,1331.4 868.3,1330.8 867.4,1337.6 872.3,1332.8 871.6,1332.8 872,1331.9" fill="none"/>
<polygon points="896.1,1331.9 896.7,1333.1 896,1333.1 900.8,1338 899.9,1331.2 899.5,1331.7 898.9,1330.5" fill="none"/>
<polygon points="923.5,1332.5 924.7,1333.4 924.1,1333.7 930.7,1335.7 926.7,1330.1 926.6,1330.8 925.3,1329.9" fill="none"/>
<polygon points="950,1332.1 950.8,1333.2 950.1,1333.3 955.6,1337.4 953.7,1330.8 953.4,1331.4 952.6,1330.3" fill="none"/>
<polygon points="976.8,1331.9 977.2,1332.8 976.6,1332.8 981.5,1337.6 980.5,1330.8 980.1,1331.3 979.6,1330.5" fill="none"/>
<polygon points="1003.5,1331.4 1003.7,1332.9 1003.1,1332.6 1006,1338.8 1007.4,1332.1 1006.9,1332.5 1006.7,1331" fill="none"/>
<polygon points="1030.9,1332.4 1031.5,1332.9 1030.9,1333.1 1037.2,1335.8 1033.8,1329.8 1033.6,1330.5 1033.1,1330" fill="none"/>
<polygon points="1058,1332.5 1058.6,1332.9 1058,1333.3 1064.6,1335.3 1060.6,1329.7 1060.5,1330.3 1059.8,1329.9" fill="none"/>
<polygon points="1087.3,1331.8 1087.7,1330.9 1088.1,1331.4 1088.7,1324.6 1084.1,1329.7 1084.8,1329.6 1084.3,1330.6" fill="none"/>
<polygon points="1114.2,1330.8 1113.9,1329.7 1114.6,1329.8 1110.8,1324.1 1110.4,1331 1110.9,1330.5 1111.2,1331.6" fill="none"/>
<polygon points="1139.6,1329.6 1137,1329.6 1137.3,1329 1130.8,1331.2 1137.3,1333.4 1137,1332.8 1139.6,1332.8" fill="none"/>
<polygon points="1166.5,1329.6 1154.3,1329.6 1154.6,1329 1148.1,1331.2 1154.6,1333.4 1154.3,1332.8 1166.5,1332.8" fill="#000"/>
<polygon points="736.1,1359 745.5,1359 745.2,1359.6 751.7,1357.4 745.2,1355.2 745.5,1355.8 736.1,1355.8" fill="#000"/>
<polygon points="763,1359 765.5,1359 765.2,1359.6 771.7,1357.4 765.2,1355.2 765.5,1355.8 763,1355.8" fill="none"/>
<polygon points="788.3,1357.4 788.3,1358.4 787.7,1358.1 789.7,1364.7 792.1,1358.2 791.5,1358.5 791.5,1357.4" fill="none"/>
<polygon points="815.3,1356.8 815,1357.7 814.5,1357.2 814.2,1364.1 818.6,1358.8 818,1358.9 818.3,1358" fill="none"/>
<polygon points="842.4,1356.5 842,1357.1 841.7,1356.5 839.7,1363 845.2,1359 844.6,1358.9 845,1358.3" fill="none"/>
<polygon points="869,1357.6 869.2,1359.1 868.6,1358.9 871.8,1364.9 872.9,1358.2 872.4,1358.6 872.2,1357.2" fill="none"/>
<polygon points="898.7,1358.4 899.3,1357.7 899.6,1358.3 902.1,1351.9 896.2,1355.5 896.9,1355.6 896.3,1356.4" fill="none"/>
<polygon points="924.8,1359 925.6,1358.8 925.4,1359.4 931.2,1355.7 924.3,1355.1 924.8,1355.7 924,1355.8" fill="none"/>
<polygon points="949.8,1358.1 950.3,1359 949.6,1359 954.2,1364 953.6,1357.2 953.2,1357.7 952.8,1356.7" fill="none"/>
<polygon points="976.6,1357.3 976.5,1359 975.9,1358.6 977.7,1365.2 980.3,1358.9 979.7,1359.2 979.8,1357.5" fill="none"/>
<polygon points="1003.6,1358 1003.9,1358.8 1003.3,1358.7 1007.8,1363.9 1007.3,1357.1 1006.9,1357.6 1006.6,1356.8" fill="none"/>
<polygon points="1030.4,1357.2 1030.2,1358.7 1029.7,1358.4 1031.2,1365.1 1034.1,1358.8 1033.4,1359.1 1033.6,1357.6" fill="none"/>
<polygon points="1057.4,1357.9 1057.7,1358.9 1057,1358.8 1061.2,1364.2 1061.2,1357.4 1060.7,1357.8 1060.4,1356.9" fill="none"/>
<polygon points="1086.7,1358.7 1087.6,1358.1 1087.7,1358.8 1091.7,1353.2 1085.1,1355.2 1085.7,1355.5 1084.9,1356.1" fill="none"/>
<polygon points="1114.3,1357.6 1114.4,1356.6 1115,1357 1113.8,1350.3 1110.6,1356.4 1111.3,1356.2 1111.1,1357.2" fill="none"/>
<polygon points="1139.6,1355.8 1137,1355.8 1137.3,1355.2 1130.8,1357.4 1137.3,1359.6 1137,1359 1139.6,1359" fill="none"/>
<polygon points="1166.5,1355.8 1154.3,1355.8 1154.6,1355.2 1148.1,1357.4 1154.6,1359.6 1154.3,1359 1166.5,1359" fill="#000"/>
<polygon points="736.1,1385.2 745.5,1385.2 745.2,1385.8 751.7,1383.6 745.2,1381.4 745.5,1382 736.1,1382" fill="#000"/>
<polygon points="763,1385.2 765.5,1385.2 765.2,1385.8 771.7,1383.6 765.2,1381.4 765.5,1382 763,1382" fill="none"/>
<polygon points="788.3,1383.5 788.2,1384.2 787.7,1383.9 789.3,1390.5 792,1384.3 791.4,1384.5 791.5,1383.7" fill="none"/>
<polygon points="815.2,1383.5 815.1,1384.8 814.5,1384.4 816.3,1391.1 818.9,1384.7 818.3,1385 818.4,1383.7" fill="none"/>
<polygon points="842.1,1383.7 842.2,1385.2 841.6,1385 844,1391.4 846,1384.8 845.4,1385.1 845.3,1383.5" fill="none"/>
<polygon points="872.2,1383.8 872.4,1382.5 872.9,1382.8 871.6,1376.1 868.6,1382.3 869.2,1382 869,1383.4" fill="none"/>
<polygon points="898.8,1384.5 899.3,1383.8 899.6,1384.4 901.5,1377.7 896,1381.9 896.7,1382 896.2,1382.7" fill="none"/>
<polygon points="924,1385.2 925,1385.4 924.6,1385.9 931.4,1385.2 925.6,1381.6 925.7,1382.3 924.8,1382" fill="none"/>
<polygon points="949.7,1383.3 949.5,1384.5 949,1384.1 950,1390.9 953.3,1384.9 952.7,1385.1 952.9,1383.9" fill="none"/>
<polygon points="976.6,1383.3 976.4,1384.6 975.8,1384.2 976.7,1391 980.1,1385.1 979.5,1385.2 979.8,1383.9" fill="none"/>
<polygon points="1003.6,1384.2 1003.9,1384.9 1003.2,1384.8 1007.7,1390 1007.3,1383.2 1006.9,1383.7 1006.6,1383" fill="none"/>
<polygon points="1030.5,1384.2 1030.8,1385 1030.2,1385 1034.6,1390.2 1034.3,1383.3 1033.8,1383.8 1033.5,1383" fill="none"/>
<polygon points="1057.4,1384.2 1058,1385.5 1057.3,1385.5 1061.8,1390.6 1061.4,1383.8 1060.9,1384.3 1060.4,1383" fill="none"/>
<polygon points="1086.7,1384.9 1087.6,1384.3 1087.7,1385 1091.6,1379.3 1085.1,1381.4 1085.7,1381.7 1084.9,1382.3" fill="none"/>
<polygon points="1114.3,1383.7 1114.4,1382.7 1115,1383.1 1113.4,1376.4 1110.6,1382.7 1111.2,1382.4 1111.1,1383.5" fill="none"/>
<polygon points="1139.6,1382 1137,1382 1137.3,1381.4 1130.8,1383.6 1137.3,1385.8 1137,1385.2 1139.6,1385.2" fill="none"/>
<polygon points="1166.5,1382 1154.3,1382 1154.6,1381.4 1148.1,1383.6 1154.6,1385.8 1154.3,1385.2 1166.5,1385.2" fill="#000"/>
<polygon points="736.1,1411.4 745.5,1411.4 745.2,1412 751.7,1409.8 745.2,1407.6 745.5,1408.2 736.1,1408.2" fill="#000"/>
<polygon points="763,1411.4 766.9,1411.4 766.6,1412 773.1,1409.8 766.6,1407.6 766.9,1408.2 763,1408.2" fill="#000"/>
<polygon points="788.3,1410 788.5,1410.9 787.8,1410.7 791,1416.8 792.2,1410 791.6,1410.4 791.5,1409.6" fill="none"/>
<polygon points="815.8,1411.1 816.5,1411.6 815.9,1411.9 822.4,1414 818.5,1408.3 818.4,1409 817.8,1408.5" fill="none"/>
<polygon points="844.9,1410.8 845.9,1409.8 846.1,1410.4 848.7,1404 842.8,1407.5 843.4,1407.7 842.5,1408.8" fill="none"/>
<polygon points="872.2,1409.8 872.2,1408.3 872.8,1408.6 870.6,1402.1 868.4,1408.6 869,1408.3 869,1409.8" fill="none"/>
<polygon points="899.1,1410 899.2,1408.9 899.8,1409.3 898.4,1402.6 895.4,1408.7 896.1,1408.5 895.9,1409.6" fill="none"/>
<polygon points="922.9,1409.3 922.5,1410.6 922,1410.1 922,1417 926.2,1411.5 925.5,1411.6 925.9,1410.3" fill="none"/>
<polygon points="949.7,1409.9 949.8,1411.3 949.1,1411 951.6,1417.4 953.5,1410.8 953,1411.1 952.9,1409.7" fill="none"/>
<polygon points="976.7,1410.4 977.3,1411.9 976.6,1411.8 980.9,1417.2 980.7,1410.3 980.3,1410.8 979.7,1409.2" fill="none"/>
<polygon points="1003.6,1410.5 1004.3,1411.9 1003.6,1411.9 1008.3,1416.9 1007.6,1410.1 1007.2,1410.6 1006.6,1409.1" fill="none"/>
<polygon points="1030.8,1410.9 1031.5,1411.7 1030.9,1411.9 1036.9,1415.2 1034.2,1408.9 1033.9,1409.5 1033.2,1408.7" fill="none"/>
<polygon points="1058,1411.1 1058.9,1411.7 1058.3,1412 1064.9,1413.9 1060.8,1408.4 1060.7,1409.1 1059.8,1408.5" fill="none"/>
<polygon points="1085,1411.2 1086.4,1412 1085.9,1412.3 1092.7,1413.4 1088,1408.5 1087.9,1409.1 1086.6,1408.4" fill="none"/>
<polygon points="1111.3,1410.6 1112.1,1412 1111.5,1412.1 1116.7,1416.5 1115.3,1409.8 1114.9,1410.4 1114.1,1409" fill="none"/>
<polygon points="1139.6,1408.2 1137,1408.2 1137.3,1407.6 1130.8,1409.8 1137.3,1412 1137,1411.4 1139.6,1411.4" fill="none"/>
<polygon points="1166.8,1408.2 1159.3,1406.9 1159.7,1406.4 1152.9,1407.4 1158.9,1410.7 1158.7,1410.1 1166.2,1411.4" fill="#000"/>
<polygon points="736.1,1437.6 745.5,1437.6 745.2,1438.2 751.7,1436 745.2,1433.8 745.5,1434.4 736.1,1434.4" fill="#000"/>
<polygon points="763,1437.6 766.9,1437.6 766.6,1438.2 773.1,1436 766.6,1433.8 766.9,1434.4 763,1434.4" fill="#000"/>
<polygon points="791.5,1436 791.5,1434.8 792.1,1435.2 790.1,1428.6 787.7,1435.1 788.3,1434.8 788.3,1436" fill="none"/>
<polygon points="818,1437.1 818.9,1436.1 819.1,1436.7 821.9,1430.5 815.9,1433.7 816.5,1433.9 815.6,1434.9" fill="none"/>
<polygon points="845.3,1436.3 845.5,1435.3 846,1435.7 845.2,1428.9 841.7,1434.8 842.4,1434.6 842.1,1435.7" fill="none"/>
<polygon points="872.1,1436.7 872.7,1435.3 873.1,1435.8 873.7,1429 869.1,1434 869.7,1434 869.1,1435.3" fill="none"/>
<polygon points="897.2,1434.4 896.3,1434.6 896.5,1433.9 890.5,1437.2 897.3,1438.3 896.9,1437.7 897.8,1437.6" fill="none"/>
<polygon points="924.8,1434.4 924,1434.3 924.4,1433.7 917.6,1434.4 923.4,1438 923.2,1437.4 924,1437.6" fill="none"/>
<polygon points="950.6,1434.6 949.2,1435.3 949.2,1434.6 944.4,1439.5 951.2,1438.5 950.7,1438.1 952,1437.4" fill="none"/>
<polygon points="977.6,1437.5 979,1438 978.6,1438.5 985.4,1438.7 980.1,1434.3 980.2,1435 978.8,1434.5" fill="none"/>
<polygon points="1004.1,1437.2 1004.8,1437.8 1004.2,1438.1 1010.6,1440.5 1007,1434.7 1006.8,1435.3 1006.1,1434.8" fill="none"/>
<polygon points="1031.3,1437.4 1032.6,1438.1 1032,1438.5 1038.8,1439.5 1034,1434.6 1034,1435.2 1032.7,1434.6" fill="none"/>
<polygon points="1057.6,1437 1058.5,1438.1 1057.8,1438.2 1063.5,1442 1061.3,1435.5 1061,1436.1 1060.2,1435" fill="none"/>
<polygon points="1084.2,1436.1 1084.3,1437.2 1083.7,1436.9 1086.3,1443.3 1088,1436.6 1087.5,1437 1087.4,1435.9" fill="none"/>
<polygon points="1111.2,1435.5 1111,1436.2 1110.5,1435.8 1110.8,1442.6 1114.7,1437 1114,1437.1 1114.2,1436.5" fill="none"/>
<polygon points="1138.9,1434.5 1136.2,1435.8 1136.2,1435.1 1131.3,1439.9 1138.1,1439.1 1137.6,1438.7 1140.3,1437.5" fill="none"/>
<polygon points="1166.2,1434.4 1157.8,1435.9 1158,1435.3 1152,1438.6 1158.8,1439.6 1158.4,1439.1 1166.8,1437.6" fill="#000"/>
<polygon points="736.1,1463.8 745.5,1463.8 745.2,1464.4 751.7,1462.2 745.2,1460 745.5,1460.6 736.1,1460.6" fill="#000"/>
<polygon points="763.3,1463.8 767.1,1463.1 766.9,1463.7 773,1460.4 766.2,1459.4 766.6,1459.9 762.7,1460.6" fill="#000"/>
<polygon points="791.2,1463.1 792.6,1460.9 793,1461.5 794.7,1454.9 789.3,1459.1 789.9,1459.2 788.6,1461.3" fill="none"/>
<polygon points="818.3,1462.6 819,1460.2 819.5,1460.6 819.1,1453.8 815.3,1459.5 815.9,1459.3 815.3,1461.8" fill="none"/>
<polygon points="845.3,1462.5 845.8,1460 846.3,1460.5 845.5,1453.7 842,1459.6 842.7,1459.4 842.1,1461.9" fill="none"/>
<polygon points="872.2,1462.1 872.1,1459.6 872.7,1459.8 870.1,1453.5 868.3,1460.1 868.9,1459.7 869,1462.3" fill="none"/>
<polygon points="899.1,1462 898.8,1459.5 899.5,1459.7 896.6,1453.5 895.1,1460.2 895.6,1459.8 895.9,1462.4" fill="none"/>
<polygon points="926,1462.3 926.1,1459.7 926.7,1460.1 924.9,1453.5 922.3,1459.8 922.9,1459.6 922.8,1462.1" fill="none"/>
<polygon points="952.9,1462.2 952.9,1459.7 953.5,1460 951.3,1453.5 949.1,1460 949.7,1459.7 949.7,1462.2" fill="none"/>
<polygon points="979.8,1462.1 979.7,1459.6 980.3,1459.8 977.7,1453.5 975.9,1460.1 976.5,1459.7 976.6,1462.3" fill="none"/>
<polygon points="1006.7,1462 1006.4,1459.5 1007.1,1459.7 1004.2,1453.5 1002.7,1460.2 1003.2,1459.8 1003.5,1462.4" fill="none"/>
<polygon points="1033.6,1462.4 1033.9,1459.8 1034.4,1460.2 1032.9,1453.5 1030,1459.7 1030.7,1459.5 1030.4,1462" fill="none"/>
<polygon points="1060.5,1462.3 1060.6,1459.7 1061.2,1460.1 1059.4,1453.5 1056.8,1459.8 1057.4,1459.6 1057.3,1462.1" fill="none"/>
<polygon points="1087.3,1461.8 1086.7,1459.3 1087.3,1459.5 1083.5,1453.8 1083.1,1460.6 1083.6,1460.2 1084.3,1462.6" fill="none"/>
<polygon points="1114.1,1461.4 1112.8,1459.2 1113.5,1459.2 1108.3,1454.6 1109.7,1461.4 1110,1460.8 1111.3,1463" fill="none"/>
<polygon points="1140.1,1460.7 1137.3,1459.7 1137.8,1459.2 1131,1459.1 1136.3,1463.3 1136.2,1462.7 1139.1,1463.7" fill="none"/>
<polygon points="1166.6,1460.6 1159,1460.3 1159.3,1459.7 1152.7,1461.7 1159.1,1464.1 1158.8,1463.5 1166.4,1463.8" fill="#000"/>
<polygon points="736.4,1490 768.2,1483.2 768,1483.9 773.9,1480.4 767.1,1479.6 767.5,1480.1 735.8,1486.8" fill="#000"/>
<polygon points="764.6,1488.8 764.8,1487.8 765.3,1488.2 764.7,1481.4 761,1487.1 761.7,1487 761.4,1488" fill="none"/>
<polygon points="791.5,1488.7 792.3,1483.9 792.9,1484.3 791.8,1477.5 788.5,1483.5 789.2,1483.4 788.3,1488.1" fill="#000"/>
<polygon points="818.4,1488.4 818.4,1483.6 819,1483.9 816.8,1477.4 814.6,1483.9 815.2,1483.6 815.2,1488.4" fill="#000"/>
<polygon points="845.3,1488.4 845.3,1483.6 845.9,1483.9 843.7,1477.4 841.5,1483.9 842.1,1483.6 842.1,1488.4" fill="#000"/>
<polygon points="872.2,1488.4 872.2,1485.4 872.8,1485.7 870.6,1479.2 868.4,1485.7 869,1485.4 869,1488.4" fill="none"/>
<polygon points="896.1,1487.7 895.7,1488.5 895.3,1488 894.5,1494.8 899.2,1489.9 898.6,1489.9 898.9,1489.1" fill="none"/>
<polygon points="926,1488.3 925.8,1486.6 926.5,1486.8 923.7,1480.5 922.1,1487.2 922.7,1486.9 922.8,1488.5" fill="none"/>
<polygon points="952.9,1488.3 952.8,1487.2 953.4,1487.4 950.7,1481.1 949,1487.8 949.6,1487.4 949.7,1488.5" fill="none"/>
<polygon points="979.8,1488.3 979.7,1486.9 980.3,1487.1 977.6,1480.8 975.9,1487.5 976.5,1487.1 976.6,1488.5" fill="none"/>
<polygon points="1006.7,1488.5 1006.8,1487.3 1007.4,1487.6 1005.6,1481 1003,1487.3 1003.6,1487 1003.5,1488.3" fill="none"/>
<polygon points="1032.9,1489.7 1033.6,1489.3 1033.7,1489.9 1037.8,1484.4 1031.2,1486.3 1031.8,1486.6 1031.1,1487.1" fill="none"/>
<polygon points="1057.5,1489.1 1057.9,1490.1 1057.3,1490.1 1062.1,1495 1061.2,1488.1 1060.8,1488.7 1060.3,1487.7" fill="none"/>
<polygon points="1084.2,1488.5 1084.3,1489.5 1083.6,1489.3 1086.2,1495.7 1088,1489.1 1087.5,1489.4 1087.4,1488.3" fill="none"/>
<polygon points="1114.3,1488.5 1114.4,1487.6 1114.9,1487.9 1113.2,1481.3 1110.5,1487.6 1111.2,1487.4 1111.1,1488.3" fill="none"/>
<polygon points="1139.9,1486.8 1138.7,1486.6 1139.1,1486.1 1132.4,1487.1 1138.4,1490.4 1138.2,1489.8 1139.3,1490" fill="none"/>
<polygon points="1166.5,1486.8 1154.3,1486.8 1154.6,1486.2 1148.1,1488.4 1154.6,1490.6 1154.3,1490 1166.5,1490" fill="#000"/>
<polygon points="737.2,1515.8 768.1,1487.9 768.3,1488.6 771.7,1482.6 765.3,1485.3 766,1485.5 735,1513.4" fill="#000"/>
<polygon points="764.6,1515 771.5,1487.1 772,1487.5 771.5,1480.7 767.8,1486.5 768.4,1486.3 761.4,1514.2" fill="#000"/>
<polygon points="791.5,1514.6 791.5,1505.2 792.1,1505.5 789.9,1499 787.7,1505.5 788.3,1505.2 788.3,1514.6" fill="#000"/>
<polygon points="818.4,1514.6 818.4,1505.2 819,1505.5 816.8,1499 814.6,1505.5 815.2,1505.2 815.2,1514.6" fill="#000"/>
<polygon points="845.3,1514.6 845.3,1505.2 845.9,1505.5 843.7,1499 841.5,1505.5 842.1,1505.2 842.1,1514.6" fill="#000"/>
<polygon points="872.2,1514.6 872.2,1505.2 872.8,1505.5 870.6,1499 868.4,1505.5 869,1505.2 869,1514.6" fill="#000"/>
<polygon points="899.1,1514.6 899.1,1505.2 899.7,1505.5 897.5,1499 895.3,1505.5 895.9,1505.2 895.9,1514.6" fill="#000"/>
<polygon points="926,1514.6 926,1505.2 926.6,1505.5 924.4,1499 922.2,1505.5 922.8,1505.2 922.8,1514.6" fill="#000"/>
<polygon points="952.9,1514.6 952.9,1505.2 953.5,1505.5 951.3,1499 949.1,1505.5 949.7,1505.2 949.7,1514.6" fill="#000"/>
<polygon points="979.8,1514.6 979.8,1505.2 980.4,1505.5 978.2,1499 976,1505.5 976.6,1505.2 976.6,1514.6" fill="#000"/>
<polygon points="1006.7,1514.6 1006.7,1505.2 1007.3,1505.5 1005.1,1499 1002.9,1505.5 1003.5,1505.2 1003.5,1514.6" fill="#000"/>
<polygon points="1033.6,1514.6 1033.6,1505.2 1034.2,1505.5 1032,1499 1029.8,1505.5 1030.4,1505.2 1030.4,1514.6" fill="#000"/>
<polygon points="1060.5,1514.6 1060.5,1505.2 1061.1,1505.5 1058.9,1499 1056.7,1505.5 1057.3,1505.2 1057.3,1514.6" fill="#000"/>
<polygon points="1087.4,1514.6 1087.4,1505.2 1088,1505.5 1085.8,1499 1083.6,1505.5 1084.2,1505.2 1084.2,1514.6" fill="#000"/>
<polygon points="1114.3,1514.6 1114.3,1505.2 1114.9,1505.5 1112.7,1499 1110.5,1505.5 1111.1,1505.2 1111.1,1514.6" fill="#000"/>
<polygon points="1141.1,1515.3 1143.1,1510.9 1143.5,1511.4 1144.3,1504.6 1139.5,1509.6 1140.2,1509.5 1138.1,1513.9" fill="#000"/>
<polygon points="1167.7,1513.5 1139.3,1483.1 1139.9,1482.9 1133.9,1479.6 1136.7,1485.9 1136.9,1485.2 1165.3,1515.7" fill="#000"/>
</g>
<rect x="719.9" y="1080" width="464" height="451.3" fill="none" stroke="#111" stroke-width="1.5"/>
<line x1="773.3" x2="773.3" y1="1531.3" y2="1527.3" stroke="#111" stroke-width="1"/>
<line x1="773.3" x2="773.3" y1="1080" y2="1084" stroke="#111" stroke-width="1"/>
<line x1="862.3" x2="862.3" y1="1531.3" y2="1527.3" stroke="#111" stroke-width="1"/>
<line x1="862.3" x2="862.3" y1="1080" y2="1084" stroke="#111" stroke-width="1"/>
<line x1="951.3" x2="951.3" y1="1531.3" y2="1527.3" stroke="#111" stroke-width="1"/>
<line x1="951.3" x2="951.3" y1="1080" y2="1084" stroke="#111" stroke-width="1"/>
<line x1="1040.3" x2="1040.3" y1="1531.3" y2="1527.3" stroke="#111" stroke-width="1"/>
<line x1="1040.3" x2="1040.3" y1="1080" y2="1084" stroke="#111" stroke-width="1"/>
<line x1="1129.3" x2="1129.3" y1="1531.3" y2="1527.3" stroke="#111" stroke-width="1"/>
<line x1="1129.3" x2="1129.3" y1="1080" y2="1084" stroke="#111" stroke-width="1"/>
<line x1="719.9" x2="723.9" y1="1131.3" y2="1131.3" stroke="#111" stroke-width="1"/>
<line x1="1183.9" x2="1179.9" y1="1131.3" y2="1131.3" stroke="#111" stroke-width="1"/>
<line x1="719.9" x2="723.9" y1="1218.3" y2="1218.3" stroke="#111" stroke-width="1"/>
<line x1="1183.9" x2="1179.9" y1="1218.3" y2="1218.3" stroke="#111" stroke-width="1"/>
<line x1="719.9" x2="723.9" y1="1305.3" y2="1305.3" stroke="#111" stroke-width="1"/>
<line x1="1183.9" x2="1179.9" y1="1305.3" y2="1305.3" stroke="#111" stroke-width="1"/>
<line x1="719.9" x2="723.9" y1="1392" y2="1392" stroke="#111" stroke-width="1"/>
<line x1="1183.9" x2="1179.9" y1="1392" y2="1392" stroke="#111" stroke-width="1"/>
<line x1="719.9" x2="723.9" y1="1479.3" y2="1479.3" stroke="#111" stroke-width="1"/>
<line x1="1183.9" x2="1179.9" y1="1479.3" y2="1479.3" stroke="#111" stroke-width="1"/>
<text transform="translate(773.3,1554.5) scale(1.05,1)" font-family="DejaVu Sans, Liberation Sans, sans-serif" font-size="16" text-anchor="middle" fill="#1c1c1c" stroke="#1c1c1c" stroke-width="0.35">−20</text>
<text transform="translate(862.3,1554.5) scale(1.05,1)" font-family="DejaVu Sans, Liberation Sans, sans-serif" font-size="16" text-anchor="middle" fill="#1c1c1c" stroke="#1c1c1c" stroke-width="0.35">−10</text>
<text transform="translate(951.3,1554.5) scale(1.05,1)" font-family="DejaVu Sans, Liberation Sans, sans-serif" font-size="16" text-anchor="middle" fill="#1c1c1c" stroke="#1c1c1c" stroke-width="0.35">0</text>
<text transform="translate(1040.3,1554.5) scale(1.05,1)" font-family="DejaVu Sans, Liberation Sans, sans-serif" font-size="16" text-anchor="middle" fill="#1c1c1c" stroke="#1c1c1c" stroke-width="0.35">10</text>
<text transform="translate(1129.3,1554.5) scale(1.05,1)" font-family="DejaVu Sans, Liberation Sans, sans-serif" font-size="16" text-anchor="middle" fill="#1c1c1c" stroke="#1c1c1c" stroke-width="0.35">20</text>
<text transform="translate(714.3,1135.64) scale(1.05,1)" font-family="DejaVu Sans, Liberation Sans, sans-serif" font-size="16" text-anchor="end" fill="#1c1c1c" stroke="#1c1c1c" stroke-width="0.35">20</text>
<text transform="translate(714.3,1222.64) scale(1.05,1)" font-family="DejaVu Sans, Liberation Sans, sans-serif" font-size="16" text-anchor="end" fill="#1c1c1c" stroke="#1c1c1c" stroke-width="0.35">10</text>
<text transform="translate(714.3,1309.64) scale(1.05,1)" font-family="DejaVu Sans, Liberation Sans, sans-serif" font-size="16" text-anchor="end" fill="#1c1c1c" stroke="#1c1c1c" stroke-width="0.35">0</text>
<text transform="translate(714.3,1396.34) scale(1.05,1)" font-family="DejaVu Sans, Liberation Sans, sans-serif" font-size="16" text-anchor="end" fill="#1c1c1c" stroke="#1c1c1c" stroke-width="0.35">−10</text>
<text transform="translate(714.3,1483.64) scale(1.05,1)" font-family="DejaVu Sans, Liberation Sans, sans-serif" font-size="16" text-anchor="end" fill="#1c1c1c" stroke="#1c1c1c" stroke-width="0.35">−20</text>
<rect x="1214.3" y="1080" width="22.5" height="451.3" fill="url(#jet)" stroke="#111" stroke-width="1.4"/>
<text transform="translate(1242.6,1536.54) scale(1.05,1)" font-family="DejaVu Sans, Liberation Sans, sans-serif" font-size="16" text-anchor="start" fill="#222" stroke="#222" stroke-width="0.3">0.0</text>
<line x1="1231.8" x2="1236.8" y1="1485.5" y2="1485.5" stroke="#222" stroke-width="1.1"/>
<text transform="translate(1242.6,1491.34) scale(1.05,1)" font-family="DejaVu Sans, Liberation Sans, sans-serif" font-size="16" text-anchor="start" fill="#222" stroke="#222" stroke-width="0.3">0.1</text>
<line x1="1231.8" x2="1236.8" y1="1440.3" y2="1440.3" stroke="#222" stroke-width="1.1"/>
<text transform="translate(1242.6,1446.14) scale(1.05,1)" font-family="DejaVu Sans, Liberation Sans, sans-serif" font-size="16" text-anchor="start" fill="#222" stroke="#222" stroke-width="0.3">0.2</text>
<line x1="1231.8" x2="1236.8" y1="1395.1" y2="1395.1" stroke="#222" stroke-width="1.1"/>
<text transform="translate(1242.6,1400.94) scale(1.05,1)" font-family="DejaVu Sans, Liberation Sans, sans-serif" font-size="16" text-anchor="start" fill="#222" stroke="#222" stroke-width="0.3">0.3</text>
<line x1="1231.8" x2="1236.8" y1="1349.9" y2="1349.9" stroke="#222" stroke-width="1.1"/>
<text transform="translate(1242.6,1355.74) scale(1.05,1)" font-family="DejaVu Sans, Liberation Sans, sans-serif" font-size="16" text-anchor="start" fill="#222" stroke="#222" stroke-width="0.3">0.4</text>
<line x1="1231.8" x2="1236.8" y1="1304.7" y2="1304.7" stroke="#222" stroke-width="1.1"/>
<text transform="translate(1242.6,1310.54) scale(1.05,1)" font-family="DejaVu Sans, Liberation Sans, sans-serif" font-size="16" text-anchor="start" fill="#222" stroke="#222" stroke-width="0.3">0.5</text>
<line x1="1231.8" x2="1236.8" y1="1259.5" y2="1259.5" stroke="#222" stroke-width="1.1"/>
<text transform="translate(1242.6,1265.34) scale(1.05,1)" font-family="DejaVu Sans, Liberation Sans, sans-serif" font-size="16" text-anchor="start" fill="#222" stroke="#222" stroke-width="0.3">0.6</text>
<line x1="1231.8" x2="1236.8" y1="1214.3" y2="1214.3" stroke="#222" stroke-width="1.1"/>
<text transform="translate(1242.6,1220.14) scale(1.05,1)" font-family="DejaVu Sans, Liberation Sans, sans-serif" font-size="16" text-anchor="start" fill="#222" stroke="#222" stroke-width="0.3">0.7</text>
<line x1="1231.8" x2="1236.8" y1="1169.1" y2="1169.1" stroke="#222" stroke-width="1.1"/>
<text transform="translate(1242.6,1174.94) scale(1.05,1)" font-family="DejaVu Sans, Liberation Sans, sans-serif" font-size="16" text-anchor="start" fill="#222" stroke="#222" stroke-width="0.3">0.8</text>
<line x1="1231.8" x2="1236.8" y1="1123.9" y2="1123.9" stroke="#222" stroke-width="1.1"/>
<text transform="translate(1242.6,1129.74) scale(1.05,1)" font-family="DejaVu Sans, Liberation Sans, sans-serif" font-size="16" text-anchor="start" fill="#222" stroke="#222" stroke-width="0.3">0.9</text>
<text transform="translate(1242.6,1084.54) scale(1.05,1)" font-family="DejaVu Sans, Liberation Sans, sans-serif" font-size="16" text-anchor="start" fill="#222" stroke="#222" stroke-width="0.3">1.0</text>
<text x="954" y="1587.3" font-family="Liberation Sans, Arial, sans-serif" font-size="29.3" text-anchor="middle" fill="#111" >X (mm)</text>
<rect x="72.2" y="1628.4" width="514.3" height="455.5" fill="#fff" stroke="#444" stroke-width="1.6"/>
<g stroke="#555" stroke-width="1.1">
<line x1="131" x2="131" y1="2083.9" y2="2078.9"/><line x1="131" x2="131" y1="1628.4" y2="1633.4"/>
<line x1="230" x2="230" y1="2083.9" y2="2078.9"/><line x1="230" x2="230" y1="1628.4" y2="1633.4"/>
<line x1="328.5" x2="328.5" y1="2083.9" y2="2078.9"/><line x1="328.5" x2="328.5" y1="1628.4" y2="1633.4"/>
<line x1="427.5" x2="427.5" y1="2083.9" y2="2078.9"/><line x1="427.5" x2="427.5" y1="1628.4" y2="1633.4"/>
<line x1="526.3" x2="526.3" y1="2083.9" y2="2078.9"/><line x1="526.3" x2="526.3" y1="1628.4" y2="1633.4"/>
<line x1="72.2" x2="77.2" y1="1680.6" y2="1680.6"/><line x1="586.5" x2="581.5" y1="1680.6" y2="1680.6"/>
<line x1="72.2" x2="77.2" y1="1768.5" y2="1768.5"/><line x1="586.5" x2="581.5" y1="1768.5" y2="1768.5"/>
<line x1="72.2" x2="77.2" y1="1856" y2="1856"/><line x1="586.5" x2="581.5" y1="1856" y2="1856"/>
<line x1="72.2" x2="77.2" y1="1943.6" y2="1943.6"/><line x1="586.5" x2="581.5" y1="1943.6" y2="1943.6"/>
<line x1="72.2" x2="77.2" y1="2031.8" y2="2031.8"/><line x1="586.5" x2="581.5" y1="2031.8" y2="2031.8"/>
</g>
<rect x="102" y="2047.5" width="8" height="8" fill="#2a05f0" stroke="#222" stroke-width=".5"/>
<rect x="547" y="1656" width="8" height="8" fill="#2a05f0" stroke="#222" stroke-width=".5"/>
<line x1="91" y1="2065" x2="566.5" y2="1641.5" stroke="#d63a44" stroke-width="1.8" stroke-dasharray="7 5.2"/>
<rect x="87" y="2045.5" width="8" height="8" fill="#0a0a0a" stroke="#222" stroke-width=".5"/>
<rect x="117.5" y="2033.5" width="8" height="8" fill="#0a0a0a" stroke="#222" stroke-width=".5"/>
<rect x="146.5" y="2009" width="8" height="8" fill="#0a0a0a" stroke="#222" stroke-width=".5"/>
<rect x="176" y="1983.5" width="8" height="8" fill="#0a0a0a" stroke="#222" stroke-width=".5"/>
<rect x="206.5" y="1956.5" width="8" height="8" fill="#0a0a0a" stroke="#222" stroke-width=".5"/>
<rect x="236" y="1929" width="8" height="8" fill="#0a0a0a" stroke="#222" stroke-width=".5"/>
<rect x="265" y="1902.5" width="8" height="8" fill="#0a0a0a" stroke="#222" stroke-width=".5"/>
<rect x="294.5" y="1876.5" width="8" height="8" fill="#0a0a0a" stroke="#222" stroke-width=".5"/>
<rect x="324.5" y="1850.5" width="8" height="8" fill="#0a0a0a" stroke="#222" stroke-width=".5"/>
<rect x="354.5" y="1824.5" width="8" height="8" fill="#0a0a0a" stroke="#222" stroke-width=".5"/>
<rect x="383.5" y="1798" width="8" height="8" fill="#0a0a0a" stroke="#222" stroke-width=".5"/>
<rect x="414" y="1771.5" width="8" height="8" fill="#0a0a0a" stroke="#222" stroke-width=".5"/>
<rect x="443.5" y="1745" width="8" height="8" fill="#0a0a0a" stroke="#222" stroke-width=".5"/>
<rect x="473.5" y="1717.5" width="8" height="8" fill="#0a0a0a" stroke="#222" stroke-width=".5"/>
<rect x="503.5" y="1691.5" width="8" height="8" fill="#0a0a0a" stroke="#222" stroke-width=".5"/>
<rect x="532.5" y="1666" width="8" height="8" fill="#0a0a0a" stroke="#222" stroke-width=".5"/>
<rect x="562.5" y="1654" width="8" height="8" fill="#0a0a0a" stroke="#222" stroke-width=".5"/>
<text transform="translate(131,2103) scale(1.05,1)" font-family="DejaVu Sans, Liberation Sans, sans-serif" font-size="16" text-anchor="middle" fill="#333" stroke="#333" stroke-width="0.3">−20</text>
<text transform="translate(230,2103) scale(1.05,1)" font-family="DejaVu Sans, Liberation Sans, sans-serif" font-size="16" text-anchor="middle" fill="#333" stroke="#333" stroke-width="0.3">−10</text>
<text transform="translate(328.5,2103) scale(1.05,1)" font-family="DejaVu Sans, Liberation Sans, sans-serif" font-size="16" text-anchor="middle" fill="#333" stroke="#333" stroke-width="0.3">0</text>
<text transform="translate(427.5,2103) scale(1.05,1)" font-family="DejaVu Sans, Liberation Sans, sans-serif" font-size="16" text-anchor="middle" fill="#333" stroke="#333" stroke-width="0.3">10</text>
<text transform="translate(526.3,2103) scale(1.05,1)" font-family="DejaVu Sans, Liberation Sans, sans-serif" font-size="16" text-anchor="middle" fill="#333" stroke="#333" stroke-width="0.3">20</text>
<text transform="translate(65.6,1684.6) scale(1.05,1)" font-family="DejaVu Sans, Liberation Sans, sans-serif" font-size="16" text-anchor="end" fill="#333" stroke="#333" stroke-width="0.3">20</text>
<text transform="translate(65.6,1772.5) scale(1.05,1)" font-family="DejaVu Sans, Liberation Sans, sans-serif" font-size="16" text-anchor="end" fill="#333" stroke="#333" stroke-width="0.3">10</text>
<text transform="translate(65.6,1860) scale(1.05,1)" font-family="DejaVu Sans, Liberation Sans, sans-serif" font-size="16" text-anchor="end" fill="#333" stroke="#333" stroke-width="0.3">0</text>
<text transform="translate(65.6,1947.6) scale(1.05,1)" font-family="DejaVu Sans, Liberation Sans, sans-serif" font-size="16" text-anchor="end" fill="#333" stroke="#333" stroke-width="0.3">−10</text>
<text transform="translate(65.6,2035.8) scale(1.05,1)" font-family="DejaVu Sans, Liberation Sans, sans-serif" font-size="16" text-anchor="end" fill="#333" stroke="#333" stroke-width="0.3">−20</text>
<text x="330.2" y="2132" font-family="Liberation Sans, Arial, sans-serif" font-size="29.3" text-anchor="middle" fill="#111">Mechanical Position (mm)</text>
<text transform="translate(24.9,1857.5) rotate(-90)" font-family="Liberation Sans, Arial, sans-serif" font-size="29.3" text-anchor="middle" fill="#111">Measured Position (mm)</text>
<rect x="718.7" y="1628.3" width="514.1" height="455.2" fill="#fff" stroke="#444" stroke-width="1.6"/>
<g stroke="#555" stroke-width="1.1">
<line x1="777.5" x2="777.5" y1="2083.5" y2="2078.5"/><line x1="777.5" x2="777.5" y1="1628.3" y2="1633.3"/>
<line x1="876" x2="876" y1="2083.5" y2="2078.5"/><line x1="876" x2="876" y1="1628.3" y2="1633.3"/>
<line x1="975" x2="975" y1="2083.5" y2="2078.5"/><line x1="975" x2="975" y1="1628.3" y2="1633.3"/>
<line x1="1073.5" x2="1073.5" y1="2083.5" y2="2078.5"/><line x1="1073.5" x2="1073.5" y1="1628.3" y2="1633.3"/>
<line x1="1172" x2="1172" y1="2083.5" y2="2078.5"/><line x1="1172" x2="1172" y1="1628.3" y2="1633.3"/>
<line x1="718.7" x2="723.7" y1="1680.2" y2="1680.2"/><line x1="1232.8" x2="1227.8" y1="1680.2" y2="1680.2"/>
<line x1="718.7" x2="723.7" y1="1768" y2="1768"/><line x1="1232.8" x2="1227.8" y1="1768" y2="1768"/>
<line x1="718.7" x2="723.7" y1="1855.7" y2="1855.7"/><line x1="1232.8" x2="1227.8" y1="1855.7" y2="1855.7"/>
<line x1="718.7" x2="723.7" y1="1943" y2="1943"/><line x1="1232.8" x2="1227.8" y1="1943" y2="1943"/>
<line x1="718.7" x2="723.7" y1="2030.8" y2="2030.8"/><line x1="1232.8" x2="1227.8" y1="2030.8" y2="2030.8"/>
</g>
<rect x="748" y="2036.5" width="8" height="8" fill="#2a05f0" stroke="#222" stroke-width=".5"/>
<rect x="1192.5" y="1652.5" width="8" height="8" fill="#2a05f0" stroke="#222" stroke-width=".5"/>
<line x1="737" y1="2069" x2="1212" y2="1641.5" stroke="#d63a44" stroke-width="1.8" stroke-dasharray="7 5.2"/>
<rect x="733" y="2034.5" width="8" height="8" fill="#0a0a0a" stroke="#222" stroke-width=".5"/>
<rect x="762.5" y="2031" width="8" height="8" fill="#0a0a0a" stroke="#222" stroke-width=".5"/>
<rect x="792" y="2011" width="8" height="8" fill="#0a0a0a" stroke="#222" stroke-width=".5"/>
<rect x="822" y="1984.5" width="8" height="8" fill="#0a0a0a" stroke="#222" stroke-width=".5"/>
<rect x="851.5" y="1959.5" width="8" height="8" fill="#0a0a0a" stroke="#222" stroke-width=".5"/>
<rect x="881" y="1931.5" width="8" height="8" fill="#0a0a0a" stroke="#222" stroke-width=".5"/>
<rect x="911.5" y="1905.5" width="8" height="8" fill="#0a0a0a" stroke="#222" stroke-width=".5"/>
<rect x="940.5" y="1878" width="8" height="8" fill="#0a0a0a" stroke="#222" stroke-width=".5"/>
<rect x="970.5" y="1853.5" width="8" height="8" fill="#0a0a0a" stroke="#222" stroke-width=".5"/>
<rect x="999.5" y="1826" width="8" height="8" fill="#0a0a0a" stroke="#222" stroke-width=".5"/>
<rect x="1029.5" y="1800.5" width="8" height="8" fill="#0a0a0a" stroke="#222" stroke-width=".5"/>
<rect x="1059" y="1772" width="8" height="8" fill="#0a0a0a" stroke="#222" stroke-width=".5"/>
<rect x="1088.5" y="1745.5" width="8" height="8" fill="#0a0a0a" stroke="#222" stroke-width=".5"/>
<rect x="1119" y="1717" width="8" height="8" fill="#0a0a0a" stroke="#222" stroke-width=".5"/>
<rect x="1148.5" y="1689.5" width="8" height="8" fill="#0a0a0a" stroke="#222" stroke-width=".5"/>
<rect x="1178" y="1662" width="8" height="8" fill="#0a0a0a" stroke="#222" stroke-width=".5"/>
<rect x="1208" y="1654.5" width="8" height="8" fill="#0a0a0a" stroke="#222" stroke-width=".5"/>
<text transform="translate(777.5,2102.6) scale(1.05,1)" font-family="DejaVu Sans, Liberation Sans, sans-serif" font-size="16" text-anchor="middle" fill="#333" stroke="#333" stroke-width="0.3">−20</text>
<text transform="translate(876,2102.6) scale(1.05,1)" font-family="DejaVu Sans, Liberation Sans, sans-serif" font-size="16" text-anchor="middle" fill="#333" stroke="#333" stroke-width="0.3">−10</text>
<text transform="translate(975,2102.6) scale(1.05,1)" font-family="DejaVu Sans, Liberation Sans, sans-serif" font-size="16" text-anchor="middle" fill="#333" stroke="#333" stroke-width="0.3">0</text>
<text transform="translate(1073.5,2102.6) scale(1.05,1)" font-family="DejaVu Sans, Liberation Sans, sans-serif" font-size="16" text-anchor="middle" fill="#333" stroke="#333" stroke-width="0.3">10</text>
<text transform="translate(1172,2102.6) scale(1.05,1)" font-family="DejaVu Sans, Liberation Sans, sans-serif" font-size="16" text-anchor="middle" fill="#333" stroke="#333" stroke-width="0.3">20</text>
<text transform="translate(712.8,1684.2) scale(1.05,1)" font-family="DejaVu Sans, Liberation Sans, sans-serif" font-size="16" text-anchor="end" fill="#333" stroke="#333" stroke-width="0.3">20</text>
<text transform="translate(712.8,1772) scale(1.05,1)" font-family="DejaVu Sans, Liberation Sans, sans-serif" font-size="16" text-anchor="end" fill="#333" stroke="#333" stroke-width="0.3">10</text>
<text transform="translate(712.8,1859.7) scale(1.05,1)" font-family="DejaVu Sans, Liberation Sans, sans-serif" font-size="16" text-anchor="end" fill="#333" stroke="#333" stroke-width="0.3">0</text>
<text transform="translate(712.8,1947) scale(1.05,1)" font-family="DejaVu Sans, Liberation Sans, sans-serif" font-size="16" text-anchor="end" fill="#333" stroke="#333" stroke-width="0.3">−10</text>
<text transform="translate(712.8,2034.8) scale(1.05,1)" font-family="DejaVu Sans, Liberation Sans, sans-serif" font-size="16" text-anchor="end" fill="#333" stroke="#333" stroke-width="0.3">−20</text>
<text x="971" y="2134.5" font-family="Liberation Sans, Arial, sans-serif" font-size="29.3" text-anchor="middle" fill="#111">Mechanical Position (mm)</text>
<text transform="translate(672.8,1855) rotate(-90)" font-family="Liberation Sans, Arial, sans-serif" font-size="29.3" text-anchor="middle" fill="#111">Measured Position (mm)</text>
</svg>
</body></html>
